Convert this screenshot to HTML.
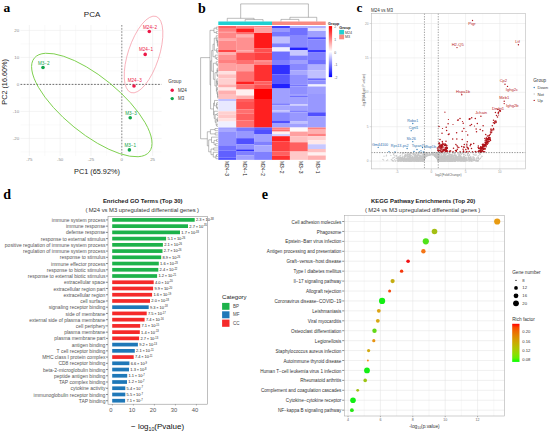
<!DOCTYPE html>
<html><head><meta charset="utf-8"><style>
html,body{margin:0;padding:0;background:#fff;}
body{width:550px;height:433px;overflow:hidden;font-family:"Liberation Sans", sans-serif;}
svg{display:block;}
</style></head><body>
<svg width="550" height="433" viewBox="0 0 550 433">
<rect width="550" height="433" fill="#fff"/>
<line x1="44.74" y1="25.00" x2="44.74" y2="156.00" stroke="#f3f3f3" stroke-width="0.4" />
<line x1="75.56" y1="25.00" x2="75.56" y2="156.00" stroke="#f3f3f3" stroke-width="0.4" />
<line x1="106.39" y1="25.00" x2="106.39" y2="156.00" stroke="#f3f3f3" stroke-width="0.4" />
<line x1="137.21" y1="25.00" x2="137.21" y2="156.00" stroke="#f3f3f3" stroke-width="0.4" />
<line x1="20.50" y1="43.90" x2="161.50" y2="43.90" stroke="#f3f3f3" stroke-width="0.4" />
<line x1="20.50" y1="70.90" x2="161.50" y2="70.90" stroke="#f3f3f3" stroke-width="0.4" />
<line x1="20.50" y1="97.90" x2="161.50" y2="97.90" stroke="#f3f3f3" stroke-width="0.4" />
<line x1="20.50" y1="124.90" x2="161.50" y2="124.90" stroke="#f3f3f3" stroke-width="0.4" />
<line x1="20.50" y1="151.90" x2="161.50" y2="151.90" stroke="#f3f3f3" stroke-width="0.4" />
<line x1="29.32" y1="25.00" x2="29.32" y2="156.00" stroke="#ebebeb" stroke-width="0.6" />
<line x1="60.15" y1="25.00" x2="60.15" y2="156.00" stroke="#ebebeb" stroke-width="0.6" />
<line x1="90.97" y1="25.00" x2="90.97" y2="156.00" stroke="#ebebeb" stroke-width="0.6" />
<line x1="121.80" y1="25.00" x2="121.80" y2="156.00" stroke="#ebebeb" stroke-width="0.6" />
<line x1="152.62" y1="25.00" x2="152.62" y2="156.00" stroke="#ebebeb" stroke-width="0.6" />
<line x1="20.50" y1="30.40" x2="161.50" y2="30.40" stroke="#ebebeb" stroke-width="0.6" />
<line x1="20.50" y1="57.40" x2="161.50" y2="57.40" stroke="#ebebeb" stroke-width="0.6" />
<line x1="20.50" y1="84.40" x2="161.50" y2="84.40" stroke="#ebebeb" stroke-width="0.6" />
<line x1="20.50" y1="111.40" x2="161.50" y2="111.40" stroke="#ebebeb" stroke-width="0.6" />
<line x1="20.50" y1="138.40" x2="161.50" y2="138.40" stroke="#ebebeb" stroke-width="0.6" />
<text x="29.32" y="161.30" font-size="4.4" fill="#8a8a8a" text-anchor="middle" font-weight="normal" font-family='"Liberation Sans", sans-serif' >-75</text>
<text x="60.15" y="161.30" font-size="4.4" fill="#8a8a8a" text-anchor="middle" font-weight="normal" font-family='"Liberation Sans", sans-serif' >-50</text>
<text x="90.97" y="161.30" font-size="4.4" fill="#8a8a8a" text-anchor="middle" font-weight="normal" font-family='"Liberation Sans", sans-serif' >-25</text>
<text x="121.80" y="161.30" font-size="4.4" fill="#8a8a8a" text-anchor="middle" font-weight="normal" font-family='"Liberation Sans", sans-serif' >0</text>
<text x="152.62" y="161.30" font-size="4.4" fill="#8a8a8a" text-anchor="middle" font-weight="normal" font-family='"Liberation Sans", sans-serif' >25</text>
<text x="19.20" y="31.90" font-size="4.4" fill="#8a8a8a" text-anchor="end" font-weight="normal" font-family='"Liberation Sans", sans-serif' >20</text>
<text x="19.20" y="58.90" font-size="4.4" fill="#8a8a8a" text-anchor="end" font-weight="normal" font-family='"Liberation Sans", sans-serif' >10</text>
<text x="19.20" y="85.90" font-size="4.4" fill="#8a8a8a" text-anchor="end" font-weight="normal" font-family='"Liberation Sans", sans-serif' >0</text>
<text x="19.20" y="112.90" font-size="4.4" fill="#8a8a8a" text-anchor="end" font-weight="normal" font-family='"Liberation Sans", sans-serif' >-10</text>
<text x="19.20" y="139.90" font-size="4.4" fill="#8a8a8a" text-anchor="end" font-weight="normal" font-family='"Liberation Sans", sans-serif' >-20</text>
<line x1="20.50" y1="84.40" x2="161.50" y2="84.40" stroke="#333" stroke-width="0.7" stroke-dasharray="1.7 1.5"/>
<line x1="121.80" y1="25.00" x2="121.80" y2="156.00" stroke="#6a6a6a" stroke-width="0.75" stroke-dasharray="1.6 1.5"/>
<ellipse cx="91.8" cy="105.0" rx="74.2" ry="28.3" transform="rotate(39.2 91.8 105.0)" fill="none" stroke="#7ccf4c" stroke-width="0.9"/>
<ellipse cx="143.55" cy="54.5" rx="15.5" ry="40.1" transform="rotate(18.2 143.55 54.5)" fill="none" stroke="#f58a99" stroke-width="0.6"/>
<circle cx="149.30" cy="31.50" r="1.80" fill="#ec1746" />
<text x="150.10" y="28.50" font-size="4.6" fill="#ec1746" text-anchor="middle" font-weight="normal" font-family='"Liberation Sans", sans-serif' >M24−2</text>
<circle cx="145.20" cy="54.40" r="1.80" fill="#ec1746" />
<text x="146.00" y="50.90" font-size="4.6" fill="#ec1746" text-anchor="middle" font-weight="normal" font-family='"Liberation Sans", sans-serif' >M24−1</text>
<circle cx="134.00" cy="86.00" r="1.80" fill="#ec1746" />
<text x="134.80" y="82.20" font-size="4.6" fill="#ec1746" text-anchor="middle" font-weight="normal" font-family='"Liberation Sans", sans-serif' >M24−3</text>
<circle cx="43.00" cy="67.50" r="1.80" fill="#11a54a" />
<text x="43.80" y="64.60" font-size="4.6" fill="#11a54a" text-anchor="middle" font-weight="normal" font-family='"Liberation Sans", sans-serif' >M3−2</text>
<circle cx="130.20" cy="117.80" r="1.80" fill="#11a54a" />
<text x="131.00" y="114.60" font-size="4.6" fill="#11a54a" text-anchor="middle" font-weight="normal" font-family='"Liberation Sans", sans-serif' >M3−3</text>
<circle cx="129.40" cy="149.90" r="1.80" fill="#11a54a" />
<text x="130.20" y="146.60" font-size="4.6" fill="#11a54a" text-anchor="middle" font-weight="normal" font-family='"Liberation Sans", sans-serif' >M3−1</text>
<text x="92.20" y="16.80" font-size="8.1" fill="#1a1a1a" text-anchor="middle" font-weight="normal" font-family='"Liberation Sans", sans-serif' >PCA</text>
<text x="97.00" y="174.00" font-size="7.3" fill="#1a1a1a" text-anchor="middle" font-weight="normal" font-family='"Liberation Sans", sans-serif' >PC1  (65.92%)</text>
<text x="0" y="0" font-size="7.25" fill="#1a1a1a" text-anchor="middle" font-family='"Liberation Sans", sans-serif' transform="translate(7.0 81.9) rotate(-90)">PC2  (16.60%)</text>
<text x="168.30" y="82.80" font-size="4.7" fill="#333" text-anchor="start" font-weight="normal" font-family='"Liberation Sans", sans-serif' >Group</text>
<circle cx="172.20" cy="90.30" r="1.70" fill="#ec1746" />
<text x="178.00" y="91.90" font-size="4.5" fill="#333" text-anchor="start" font-weight="normal" font-family='"Liberation Sans", sans-serif' >M24</text>
<circle cx="172.20" cy="98.60" r="1.70" fill="#11a54a" />
<text x="178.00" y="100.20" font-size="4.5" fill="#333" text-anchor="start" font-weight="normal" font-family='"Liberation Sans", sans-serif' >M3</text>
<text x="3.60" y="12.10" font-size="13.5" fill="#000" text-anchor="start" font-weight="bold" font-family='"Liberation Serif", serif' >a</text>
<rect x="218.30" y="26.00" width="17.95" height="2.05" fill="#FF6060" />
<rect x="218.30" y="28.00" width="17.95" height="3.05" fill="#FF8080" />
<rect x="218.30" y="31.00" width="17.95" height="1.65" fill="#FF9090" />
<rect x="218.30" y="32.60" width="17.95" height="6.15" fill="#FF8888" />
<rect x="218.30" y="38.70" width="17.95" height="2.15" fill="#FFAAAA" />
<rect x="218.30" y="40.80" width="17.95" height="9.25" fill="#FF8A8A" />
<rect x="218.30" y="50.00" width="17.95" height="2.05" fill="#FF4444" />
<rect x="218.30" y="52.00" width="17.95" height="2.55" fill="#FFB0B0" />
<rect x="218.30" y="54.50" width="17.95" height="5.55" fill="#FF9090" />
<rect x="218.30" y="60.00" width="17.95" height="3.05" fill="#FF8080" />
<rect x="218.30" y="63.00" width="17.95" height="8.25" fill="#FFA0A0" />
<rect x="218.30" y="71.20" width="17.95" height="3.15" fill="#FFE0E0" />
<rect x="218.30" y="74.30" width="17.95" height="4.05" fill="#FFC0C0" />
<rect x="218.30" y="78.30" width="17.95" height="6.15" fill="#FFD0D0" />
<rect x="218.30" y="84.40" width="17.95" height="3.15" fill="#FFB0B0" />
<rect x="218.30" y="87.50" width="17.95" height="3.05" fill="#FFE8E8" />
<rect x="218.30" y="90.50" width="17.95" height="3.55" fill="#FFB0B0" />
<rect x="218.30" y="94.00" width="17.95" height="5.05" fill="#FFC0C0" />
<rect x="218.30" y="99.00" width="17.95" height="2.05" fill="#C0C0FF" />
<rect x="218.30" y="101.00" width="17.95" height="10.35" fill="#E8E8FF" />
<rect x="218.30" y="111.30" width="17.95" height="3.15" fill="#FFD0D0" />
<rect x="218.30" y="114.40" width="17.95" height="4.05" fill="#FFC8C8" />
<rect x="218.30" y="118.40" width="17.95" height="3.15" fill="#FFE0E0" />
<rect x="218.30" y="121.50" width="17.95" height="6.05" fill="#F0F0FF" />
<rect x="218.30" y="127.50" width="17.95" height="1.55" fill="#A0A0FF" />
<rect x="218.30" y="129.00" width="17.95" height="3.05" fill="#A8A8FF" />
<rect x="218.30" y="132.00" width="17.95" height="13.35" fill="#9090FF" />
<rect x="218.30" y="145.30" width="17.95" height="5.15" fill="#7070FF" />
<rect x="218.30" y="150.40" width="17.95" height="7.25" fill="#6060FF" />
<rect x="218.30" y="157.60" width="17.95" height="2.25" fill="#5050FF" />
<rect x="236.20" y="26.00" width="17.95" height="2.55" fill="#FF8080" />
<rect x="236.20" y="28.50" width="17.95" height="4.15" fill="#FF2020" />
<rect x="236.20" y="32.60" width="17.95" height="2.05" fill="#FF7070" />
<rect x="236.20" y="34.60" width="17.95" height="2.65" fill="#FFB0B0" />
<rect x="236.20" y="37.20" width="17.95" height="13.25" fill="#FF9090" />
<rect x="236.20" y="50.40" width="17.95" height="2.15" fill="#FFA0A0" />
<rect x="236.20" y="52.50" width="17.95" height="7.55" fill="#FF5050" />
<rect x="236.20" y="60.00" width="17.95" height="4.65" fill="#FF7070" />
<rect x="236.20" y="64.60" width="17.95" height="6.65" fill="#FFA0A0" />
<rect x="236.20" y="71.20" width="17.95" height="10.25" fill="#FF7070" />
<rect x="236.20" y="81.40" width="17.95" height="3.05" fill="#FF2020" />
<rect x="236.20" y="84.40" width="17.95" height="5.15" fill="#FF7070" />
<rect x="236.20" y="89.50" width="17.95" height="6.05" fill="#FFF0F0" />
<rect x="236.20" y="95.50" width="17.95" height="3.55" fill="#FFB0B0" />
<rect x="236.20" y="99.00" width="17.95" height="3.05" fill="#FF6060" />
<rect x="236.20" y="102.00" width="17.95" height="7.35" fill="#FF5050" />
<rect x="236.20" y="109.30" width="17.95" height="4.15" fill="#FF7070" />
<rect x="236.20" y="113.40" width="17.95" height="7.15" fill="#FF6060" />
<rect x="236.20" y="120.50" width="17.95" height="7.05" fill="#FF7070" />
<rect x="236.20" y="127.50" width="17.95" height="3.55" fill="#7878FF" />
<rect x="236.20" y="131.00" width="17.95" height="7.25" fill="#9898FF" />
<rect x="236.20" y="138.20" width="17.95" height="6.15" fill="#5050FF" />
<rect x="236.20" y="144.30" width="17.95" height="5.15" fill="#9090FF" />
<rect x="236.20" y="149.40" width="17.95" height="2.15" fill="#3030FF" />
<rect x="236.20" y="151.50" width="17.95" height="4.05" fill="#8080FF" />
<rect x="236.20" y="155.50" width="17.95" height="4.35" fill="#A0A0FF" />
<rect x="254.10" y="26.00" width="17.95" height="1.55" fill="#FF8080" />
<rect x="254.10" y="27.50" width="17.95" height="5.55" fill="#FFA0A0" />
<rect x="254.10" y="33.00" width="17.95" height="15.45" fill="#FF1A1A" />
<rect x="254.10" y="48.40" width="17.95" height="4.15" fill="#FF5050" />
<rect x="254.10" y="52.50" width="17.95" height="7.55" fill="#FF4040" />
<rect x="254.10" y="60.00" width="17.95" height="2.05" fill="#FF9090" />
<rect x="254.10" y="62.00" width="17.95" height="3.05" fill="#FF8080" />
<rect x="254.10" y="65.00" width="17.95" height="16.45" fill="#FF3030" />
<rect x="254.10" y="81.40" width="17.95" height="3.05" fill="#FF6060" />
<rect x="254.10" y="84.40" width="17.95" height="4.15" fill="#FF5050" />
<rect x="254.10" y="88.50" width="17.95" height="10.55" fill="#FF0000" />
<rect x="254.10" y="99.00" width="17.95" height="28.55" fill="#FF2020" />
<rect x="254.10" y="127.50" width="17.95" height="2.55" fill="#6060FF" />
<rect x="254.10" y="130.00" width="17.95" height="4.05" fill="#5050FF" />
<rect x="254.10" y="134.00" width="17.95" height="7.35" fill="#A0A0FF" />
<rect x="254.10" y="141.30" width="17.95" height="4.05" fill="#8080FF" />
<rect x="254.10" y="145.30" width="17.95" height="6.25" fill="#A8A8FF" />
<rect x="254.10" y="151.50" width="17.95" height="8.35" fill="#8080FF" />
<rect x="272.00" y="26.00" width="17.95" height="2.05" fill="#4040FF" />
<rect x="272.00" y="28.00" width="17.95" height="4.05" fill="#9898FF" />
<rect x="272.00" y="32.00" width="17.95" height="4.75" fill="#7878FF" />
<rect x="272.00" y="36.70" width="17.95" height="6.65" fill="#C0C0FF" />
<rect x="272.00" y="43.30" width="17.95" height="4.15" fill="#8080FF" />
<rect x="272.00" y="47.40" width="17.95" height="4.15" fill="#F0F0FF" />
<rect x="272.00" y="51.50" width="17.95" height="8.55" fill="#7070FF" />
<rect x="272.00" y="60.00" width="17.95" height="5.05" fill="#8080FF" />
<rect x="272.00" y="65.00" width="17.95" height="9.35" fill="#3030FF" />
<rect x="272.00" y="74.30" width="17.95" height="9.15" fill="#5858FF" />
<rect x="272.00" y="83.40" width="17.95" height="5.15" fill="#2020FF" />
<rect x="272.00" y="88.50" width="17.95" height="14.75" fill="#A0A0FF" />
<rect x="272.00" y="103.20" width="17.95" height="2.05" fill="#8080FF" />
<rect x="272.00" y="105.20" width="17.95" height="5.15" fill="#A8A8FF" />
<rect x="272.00" y="110.30" width="17.95" height="2.05" fill="#C0C0FF" />
<rect x="272.00" y="112.30" width="17.95" height="8.25" fill="#8888FF" />
<rect x="272.00" y="120.50" width="17.95" height="2.55" fill="#5050FF" />
<rect x="272.00" y="123.00" width="17.95" height="4.55" fill="#A0A0FF" />
<rect x="272.00" y="127.50" width="17.95" height="2.15" fill="#FF8080" />
<rect x="272.00" y="129.60" width="17.95" height="2.05" fill="#FF7070" />
<rect x="272.00" y="131.60" width="17.95" height="2.55" fill="#FFF0F0" />
<rect x="272.00" y="134.10" width="17.95" height="2.15" fill="#D0D0FF" />
<rect x="272.00" y="136.20" width="17.95" height="5.15" fill="#FF2020" />
<rect x="272.00" y="141.30" width="17.95" height="10.25" fill="#FF4040" />
<rect x="272.00" y="151.50" width="17.95" height="4.05" fill="#FF6060" />
<rect x="272.00" y="155.50" width="17.95" height="4.35" fill="#FF3030" />
<rect x="289.90" y="26.00" width="17.95" height="2.05" fill="#B0B0FF" />
<rect x="289.90" y="28.00" width="17.95" height="7.05" fill="#7070FF" />
<rect x="289.90" y="35.00" width="17.95" height="12.45" fill="#8888FF" />
<rect x="289.90" y="47.40" width="17.95" height="2.65" fill="#2020FF" />
<rect x="289.90" y="50.00" width="17.95" height="5.55" fill="#C8C8FF" />
<rect x="289.90" y="55.50" width="17.95" height="4.55" fill="#8080FF" />
<rect x="289.90" y="60.00" width="17.95" height="4.05" fill="#A0A0FF" />
<rect x="289.90" y="64.00" width="17.95" height="6.25" fill="#8888FF" />
<rect x="289.90" y="70.20" width="17.95" height="4.15" fill="#A8A8FF" />
<rect x="289.90" y="74.30" width="17.95" height="10.15" fill="#9090FF" />
<rect x="289.90" y="84.40" width="17.95" height="2.15" fill="#7878FF" />
<rect x="289.90" y="86.50" width="17.95" height="7.55" fill="#9090FF" />
<rect x="289.90" y="94.00" width="17.95" height="1.55" fill="#A0A0FF" />
<rect x="289.90" y="95.50" width="17.95" height="1.55" fill="#7070FF" />
<rect x="289.90" y="97.00" width="17.95" height="7.05" fill="#A0A0FF" />
<rect x="289.90" y="104.00" width="17.95" height="1.75" fill="#D0D0FF" />
<rect x="289.90" y="105.70" width="17.95" height="4.65" fill="#A0A0FF" />
<rect x="289.90" y="110.30" width="17.95" height="2.05" fill="#8080FF" />
<rect x="289.90" y="112.30" width="17.95" height="9.25" fill="#9898FF" />
<rect x="289.90" y="121.50" width="17.95" height="2.05" fill="#C0C0FF" />
<rect x="289.90" y="123.50" width="17.95" height="4.05" fill="#A0A0FF" />
<rect x="289.90" y="127.50" width="17.95" height="4.15" fill="#FFF8F8" />
<rect x="289.90" y="131.60" width="17.95" height="4.65" fill="#FFA0A0" />
<rect x="289.90" y="136.20" width="17.95" height="6.15" fill="#FFC0C0" />
<rect x="289.90" y="142.30" width="17.95" height="9.25" fill="#FF6060" />
<rect x="289.90" y="151.50" width="17.95" height="8.35" fill="#FFC8C8" />
<rect x="307.80" y="26.00" width="17.95" height="2.05" fill="#B0B0FF" />
<rect x="307.80" y="28.00" width="17.95" height="3.05" fill="#E0E0FF" />
<rect x="307.80" y="31.00" width="17.95" height="6.25" fill="#A0A0FF" />
<rect x="307.80" y="37.20" width="17.95" height="2.05" fill="#5050FF" />
<rect x="307.80" y="39.20" width="17.95" height="10.85" fill="#8888FF" />
<rect x="307.80" y="50.00" width="17.95" height="2.55" fill="#3838FF" />
<rect x="307.80" y="52.50" width="17.95" height="7.55" fill="#8080FF" />
<rect x="307.80" y="60.00" width="17.95" height="4.65" fill="#7070FF" />
<rect x="307.80" y="64.60" width="17.95" height="5.65" fill="#B0B0FF" />
<rect x="307.80" y="70.20" width="17.95" height="8.15" fill="#C0C0FF" />
<rect x="307.80" y="78.30" width="17.95" height="2.15" fill="#6868FF" />
<rect x="307.80" y="80.40" width="17.95" height="4.05" fill="#9090FF" />
<rect x="307.80" y="84.40" width="17.95" height="2.15" fill="#F0F0FF" />
<rect x="307.80" y="86.50" width="17.95" height="7.55" fill="#A0A0FF" />
<rect x="307.80" y="94.00" width="17.95" height="18.35" fill="#9898FF" />
<rect x="307.80" y="112.30" width="17.95" height="4.15" fill="#5050FF" />
<rect x="307.80" y="116.40" width="17.95" height="11.15" fill="#A0A0FF" />
<rect x="307.80" y="127.50" width="17.95" height="2.15" fill="#FF8080" />
<rect x="307.80" y="129.60" width="17.95" height="4.05" fill="#FFB0B0" />
<rect x="307.80" y="133.60" width="17.95" height="2.65" fill="#FF8080" />
<rect x="307.80" y="136.20" width="17.95" height="4.15" fill="#FFD0D0" />
<rect x="307.80" y="140.30" width="17.95" height="4.05" fill="#FFE8E8" />
<rect x="307.80" y="144.30" width="17.95" height="4.75" fill="#C8C8FF" />
<rect x="307.80" y="149.00" width="17.95" height="3.55" fill="#FFC0C0" />
<rect x="307.80" y="152.50" width="17.95" height="3.05" fill="#FFF0F0" />
<rect x="307.80" y="155.50" width="17.95" height="4.35" fill="#FFB0B0" />
<rect x="218.30" y="21.50" width="53.70" height="3.50" fill="#1fd0d2" />
<rect x="272.00" y="21.50" width="53.70" height="3.50" fill="#f98a80" />
<line x1="245.15" y1="21.50" x2="245.15" y2="19.60" stroke="#7a7a7a" stroke-width="0.5" />
<line x1="263.05" y1="21.50" x2="263.05" y2="19.60" stroke="#7a7a7a" stroke-width="0.5" />
<line x1="245.15" y1="19.60" x2="263.05" y2="19.60" stroke="#7a7a7a" stroke-width="0.5" />
<line x1="254.10" y1="19.60" x2="254.10" y2="18.30" stroke="#7a7a7a" stroke-width="0.5" />
<line x1="227.25" y1="21.50" x2="227.25" y2="18.30" stroke="#7a7a7a" stroke-width="0.5" />
<line x1="227.25" y1="18.30" x2="254.10" y2="18.30" stroke="#7a7a7a" stroke-width="0.5" />
<line x1="280.95" y1="21.50" x2="280.95" y2="19.40" stroke="#7a7a7a" stroke-width="0.5" />
<line x1="298.85" y1="21.50" x2="298.85" y2="19.40" stroke="#7a7a7a" stroke-width="0.5" />
<line x1="280.95" y1="19.40" x2="298.85" y2="19.40" stroke="#7a7a7a" stroke-width="0.5" />
<line x1="289.90" y1="19.40" x2="289.90" y2="17.30" stroke="#7a7a7a" stroke-width="0.5" />
<line x1="316.75" y1="21.50" x2="316.75" y2="17.30" stroke="#7a7a7a" stroke-width="0.5" />
<line x1="289.90" y1="17.30" x2="316.75" y2="17.30" stroke="#7a7a7a" stroke-width="0.5" />
<line x1="240.68" y1="18.30" x2="240.68" y2="3.90" stroke="#7a7a7a" stroke-width="0.5" />
<line x1="308.40" y1="17.30" x2="308.40" y2="3.90" stroke="#7a7a7a" stroke-width="0.5" />
<line x1="240.68" y1="3.90" x2="308.40" y2="3.90" stroke="#7a7a7a" stroke-width="0.5" />
<line x1="216.28" y1="27.08" x2="216.28" y2="29.24" stroke="#7a7a7a" stroke-width="0.5" />
<line x1="216.28" y1="27.08" x2="217.90" y2="27.08" stroke="#7a7a7a" stroke-width="0.5" />
<line x1="216.28" y1="29.24" x2="217.90" y2="29.24" stroke="#7a7a7a" stroke-width="0.5" />
<line x1="216.37" y1="31.40" x2="216.37" y2="33.55" stroke="#7a7a7a" stroke-width="0.5" />
<line x1="216.37" y1="31.40" x2="217.90" y2="31.40" stroke="#7a7a7a" stroke-width="0.5" />
<line x1="216.37" y1="33.55" x2="217.90" y2="33.55" stroke="#7a7a7a" stroke-width="0.5" />
<line x1="214.00" y1="28.16" x2="214.00" y2="32.47" stroke="#7a7a7a" stroke-width="0.5" />
<line x1="214.00" y1="28.16" x2="216.28" y2="28.16" stroke="#7a7a7a" stroke-width="0.5" />
<line x1="214.00" y1="32.47" x2="216.37" y2="32.47" stroke="#7a7a7a" stroke-width="0.5" />
<line x1="217.56" y1="40.03" x2="217.56" y2="42.19" stroke="#7a7a7a" stroke-width="0.5" />
<line x1="217.56" y1="40.03" x2="217.90" y2="40.03" stroke="#7a7a7a" stroke-width="0.5" />
<line x1="217.56" y1="42.19" x2="217.90" y2="42.19" stroke="#7a7a7a" stroke-width="0.5" />
<line x1="217.61" y1="44.34" x2="217.61" y2="46.50" stroke="#7a7a7a" stroke-width="0.5" />
<line x1="217.61" y1="44.34" x2="217.90" y2="44.34" stroke="#7a7a7a" stroke-width="0.5" />
<line x1="217.61" y1="46.50" x2="217.90" y2="46.50" stroke="#7a7a7a" stroke-width="0.5" />
<line x1="217.45" y1="41.11" x2="217.45" y2="45.42" stroke="#7a7a7a" stroke-width="0.5" />
<line x1="217.45" y1="41.11" x2="217.56" y2="41.11" stroke="#7a7a7a" stroke-width="0.5" />
<line x1="217.45" y1="45.42" x2="217.61" y2="45.42" stroke="#7a7a7a" stroke-width="0.5" />
<line x1="217.01" y1="37.87" x2="217.01" y2="43.26" stroke="#7a7a7a" stroke-width="0.5" />
<line x1="217.01" y1="37.87" x2="217.90" y2="37.87" stroke="#7a7a7a" stroke-width="0.5" />
<line x1="217.01" y1="43.26" x2="217.45" y2="43.26" stroke="#7a7a7a" stroke-width="0.5" />
<line x1="216.25" y1="35.71" x2="216.25" y2="40.57" stroke="#7a7a7a" stroke-width="0.5" />
<line x1="216.25" y1="35.71" x2="217.90" y2="35.71" stroke="#7a7a7a" stroke-width="0.5" />
<line x1="216.25" y1="40.57" x2="217.01" y2="40.57" stroke="#7a7a7a" stroke-width="0.5" />
<line x1="217.06" y1="50.82" x2="217.06" y2="52.98" stroke="#7a7a7a" stroke-width="0.5" />
<line x1="217.06" y1="50.82" x2="217.90" y2="50.82" stroke="#7a7a7a" stroke-width="0.5" />
<line x1="217.06" y1="52.98" x2="217.90" y2="52.98" stroke="#7a7a7a" stroke-width="0.5" />
<line x1="216.66" y1="48.66" x2="216.66" y2="51.90" stroke="#7a7a7a" stroke-width="0.5" />
<line x1="216.66" y1="48.66" x2="217.90" y2="48.66" stroke="#7a7a7a" stroke-width="0.5" />
<line x1="216.66" y1="51.90" x2="217.06" y2="51.90" stroke="#7a7a7a" stroke-width="0.5" />
<line x1="214.29" y1="38.14" x2="214.29" y2="50.28" stroke="#7a7a7a" stroke-width="0.5" />
<line x1="214.29" y1="38.14" x2="216.25" y2="38.14" stroke="#7a7a7a" stroke-width="0.5" />
<line x1="214.29" y1="50.28" x2="216.66" y2="50.28" stroke="#7a7a7a" stroke-width="0.5" />
<line x1="216.65" y1="57.29" x2="216.65" y2="59.45" stroke="#7a7a7a" stroke-width="0.5" />
<line x1="216.65" y1="57.29" x2="217.90" y2="57.29" stroke="#7a7a7a" stroke-width="0.5" />
<line x1="216.65" y1="59.45" x2="217.90" y2="59.45" stroke="#7a7a7a" stroke-width="0.5" />
<line x1="215.25" y1="55.13" x2="215.25" y2="58.37" stroke="#7a7a7a" stroke-width="0.5" />
<line x1="215.25" y1="55.13" x2="217.90" y2="55.13" stroke="#7a7a7a" stroke-width="0.5" />
<line x1="215.25" y1="58.37" x2="216.65" y2="58.37" stroke="#7a7a7a" stroke-width="0.5" />
<line x1="213.00" y1="44.21" x2="213.00" y2="56.75" stroke="#7a7a7a" stroke-width="0.5" />
<line x1="213.00" y1="44.21" x2="214.29" y2="44.21" stroke="#7a7a7a" stroke-width="0.5" />
<line x1="213.00" y1="56.75" x2="215.25" y2="56.75" stroke="#7a7a7a" stroke-width="0.5" />
<line x1="217.40" y1="63.77" x2="217.40" y2="65.92" stroke="#7a7a7a" stroke-width="0.5" />
<line x1="217.40" y1="63.77" x2="217.90" y2="63.77" stroke="#7a7a7a" stroke-width="0.5" />
<line x1="217.40" y1="65.92" x2="217.90" y2="65.92" stroke="#7a7a7a" stroke-width="0.5" />
<line x1="216.29" y1="61.61" x2="216.29" y2="64.85" stroke="#7a7a7a" stroke-width="0.5" />
<line x1="216.29" y1="61.61" x2="217.90" y2="61.61" stroke="#7a7a7a" stroke-width="0.5" />
<line x1="216.29" y1="64.85" x2="217.40" y2="64.85" stroke="#7a7a7a" stroke-width="0.5" />
<line x1="217.71" y1="70.24" x2="217.71" y2="72.40" stroke="#7a7a7a" stroke-width="0.5" />
<line x1="217.71" y1="70.24" x2="217.90" y2="70.24" stroke="#7a7a7a" stroke-width="0.5" />
<line x1="217.71" y1="72.40" x2="217.90" y2="72.40" stroke="#7a7a7a" stroke-width="0.5" />
<line x1="217.28" y1="68.08" x2="217.28" y2="71.32" stroke="#7a7a7a" stroke-width="0.5" />
<line x1="217.28" y1="68.08" x2="217.90" y2="68.08" stroke="#7a7a7a" stroke-width="0.5" />
<line x1="217.28" y1="71.32" x2="217.71" y2="71.32" stroke="#7a7a7a" stroke-width="0.5" />
<line x1="217.59" y1="74.56" x2="217.59" y2="76.71" stroke="#7a7a7a" stroke-width="0.5" />
<line x1="217.59" y1="74.56" x2="217.90" y2="74.56" stroke="#7a7a7a" stroke-width="0.5" />
<line x1="217.59" y1="76.71" x2="217.90" y2="76.71" stroke="#7a7a7a" stroke-width="0.5" />
<line x1="216.96" y1="69.70" x2="216.96" y2="75.64" stroke="#7a7a7a" stroke-width="0.5" />
<line x1="216.96" y1="69.70" x2="217.28" y2="69.70" stroke="#7a7a7a" stroke-width="0.5" />
<line x1="216.96" y1="75.64" x2="217.59" y2="75.64" stroke="#7a7a7a" stroke-width="0.5" />
<line x1="217.44" y1="83.19" x2="217.44" y2="85.35" stroke="#7a7a7a" stroke-width="0.5" />
<line x1="217.44" y1="83.19" x2="217.90" y2="83.19" stroke="#7a7a7a" stroke-width="0.5" />
<line x1="217.44" y1="85.35" x2="217.90" y2="85.35" stroke="#7a7a7a" stroke-width="0.5" />
<line x1="217.28" y1="81.03" x2="217.28" y2="84.27" stroke="#7a7a7a" stroke-width="0.5" />
<line x1="217.28" y1="81.03" x2="217.90" y2="81.03" stroke="#7a7a7a" stroke-width="0.5" />
<line x1="217.28" y1="84.27" x2="217.44" y2="84.27" stroke="#7a7a7a" stroke-width="0.5" />
<line x1="216.89" y1="78.87" x2="216.89" y2="82.65" stroke="#7a7a7a" stroke-width="0.5" />
<line x1="216.89" y1="78.87" x2="217.90" y2="78.87" stroke="#7a7a7a" stroke-width="0.5" />
<line x1="216.89" y1="82.65" x2="217.28" y2="82.65" stroke="#7a7a7a" stroke-width="0.5" />
<line x1="217.27" y1="87.50" x2="217.27" y2="89.66" stroke="#7a7a7a" stroke-width="0.5" />
<line x1="217.27" y1="87.50" x2="217.90" y2="87.50" stroke="#7a7a7a" stroke-width="0.5" />
<line x1="217.27" y1="89.66" x2="217.90" y2="89.66" stroke="#7a7a7a" stroke-width="0.5" />
<line x1="217.75" y1="96.14" x2="217.75" y2="98.30" stroke="#7a7a7a" stroke-width="0.5" />
<line x1="217.75" y1="96.14" x2="217.90" y2="96.14" stroke="#7a7a7a" stroke-width="0.5" />
<line x1="217.75" y1="98.30" x2="217.90" y2="98.30" stroke="#7a7a7a" stroke-width="0.5" />
<line x1="217.69" y1="93.98" x2="217.69" y2="97.22" stroke="#7a7a7a" stroke-width="0.5" />
<line x1="217.69" y1="93.98" x2="217.90" y2="93.98" stroke="#7a7a7a" stroke-width="0.5" />
<line x1="217.69" y1="97.22" x2="217.75" y2="97.22" stroke="#7a7a7a" stroke-width="0.5" />
<line x1="217.51" y1="91.82" x2="217.51" y2="95.60" stroke="#7a7a7a" stroke-width="0.5" />
<line x1="217.51" y1="91.82" x2="217.90" y2="91.82" stroke="#7a7a7a" stroke-width="0.5" />
<line x1="217.51" y1="95.60" x2="217.69" y2="95.60" stroke="#7a7a7a" stroke-width="0.5" />
<line x1="216.88" y1="88.58" x2="216.88" y2="93.71" stroke="#7a7a7a" stroke-width="0.5" />
<line x1="216.88" y1="88.58" x2="217.27" y2="88.58" stroke="#7a7a7a" stroke-width="0.5" />
<line x1="216.88" y1="93.71" x2="217.51" y2="93.71" stroke="#7a7a7a" stroke-width="0.5" />
<line x1="216.40" y1="80.76" x2="216.40" y2="91.15" stroke="#7a7a7a" stroke-width="0.5" />
<line x1="216.40" y1="80.76" x2="216.89" y2="80.76" stroke="#7a7a7a" stroke-width="0.5" />
<line x1="216.40" y1="91.15" x2="216.88" y2="91.15" stroke="#7a7a7a" stroke-width="0.5" />
<line x1="214.95" y1="72.67" x2="214.95" y2="85.95" stroke="#7a7a7a" stroke-width="0.5" />
<line x1="214.95" y1="72.67" x2="216.96" y2="72.67" stroke="#7a7a7a" stroke-width="0.5" />
<line x1="214.95" y1="85.95" x2="216.40" y2="85.95" stroke="#7a7a7a" stroke-width="0.5" />
<line x1="213.40" y1="63.23" x2="213.40" y2="79.31" stroke="#7a7a7a" stroke-width="0.5" />
<line x1="213.40" y1="63.23" x2="216.29" y2="63.23" stroke="#7a7a7a" stroke-width="0.5" />
<line x1="213.40" y1="79.31" x2="214.95" y2="79.31" stroke="#7a7a7a" stroke-width="0.5" />
<line x1="211.70" y1="50.48" x2="211.70" y2="71.27" stroke="#7a7a7a" stroke-width="0.5" />
<line x1="211.70" y1="50.48" x2="213.00" y2="50.48" stroke="#7a7a7a" stroke-width="0.5" />
<line x1="211.70" y1="71.27" x2="213.40" y2="71.27" stroke="#7a7a7a" stroke-width="0.5" />
<line x1="216.86" y1="102.61" x2="216.86" y2="104.77" stroke="#7a7a7a" stroke-width="0.5" />
<line x1="216.86" y1="102.61" x2="217.90" y2="102.61" stroke="#7a7a7a" stroke-width="0.5" />
<line x1="216.86" y1="104.77" x2="217.90" y2="104.77" stroke="#7a7a7a" stroke-width="0.5" />
<line x1="217.35" y1="106.93" x2="217.35" y2="109.09" stroke="#7a7a7a" stroke-width="0.5" />
<line x1="217.35" y1="106.93" x2="217.90" y2="106.93" stroke="#7a7a7a" stroke-width="0.5" />
<line x1="217.35" y1="109.09" x2="217.90" y2="109.09" stroke="#7a7a7a" stroke-width="0.5" />
<line x1="216.50" y1="103.69" x2="216.50" y2="108.01" stroke="#7a7a7a" stroke-width="0.5" />
<line x1="216.50" y1="103.69" x2="216.86" y2="103.69" stroke="#7a7a7a" stroke-width="0.5" />
<line x1="216.50" y1="108.01" x2="217.35" y2="108.01" stroke="#7a7a7a" stroke-width="0.5" />
<line x1="214.50" y1="100.45" x2="214.50" y2="105.85" stroke="#7a7a7a" stroke-width="0.5" />
<line x1="214.50" y1="100.45" x2="217.90" y2="100.45" stroke="#7a7a7a" stroke-width="0.5" />
<line x1="214.50" y1="105.85" x2="216.50" y2="105.85" stroke="#7a7a7a" stroke-width="0.5" />
<line x1="217.04" y1="113.40" x2="217.04" y2="115.56" stroke="#7a7a7a" stroke-width="0.5" />
<line x1="217.04" y1="113.40" x2="217.90" y2="113.40" stroke="#7a7a7a" stroke-width="0.5" />
<line x1="217.04" y1="115.56" x2="217.90" y2="115.56" stroke="#7a7a7a" stroke-width="0.5" />
<line x1="217.60" y1="119.88" x2="217.60" y2="122.03" stroke="#7a7a7a" stroke-width="0.5" />
<line x1="217.60" y1="119.88" x2="217.90" y2="119.88" stroke="#7a7a7a" stroke-width="0.5" />
<line x1="217.60" y1="122.03" x2="217.90" y2="122.03" stroke="#7a7a7a" stroke-width="0.5" />
<line x1="217.32" y1="117.72" x2="217.32" y2="120.95" stroke="#7a7a7a" stroke-width="0.5" />
<line x1="217.32" y1="117.72" x2="217.90" y2="117.72" stroke="#7a7a7a" stroke-width="0.5" />
<line x1="217.32" y1="120.95" x2="217.60" y2="120.95" stroke="#7a7a7a" stroke-width="0.5" />
<line x1="216.84" y1="124.19" x2="216.84" y2="126.35" stroke="#7a7a7a" stroke-width="0.5" />
<line x1="216.84" y1="124.19" x2="217.90" y2="124.19" stroke="#7a7a7a" stroke-width="0.5" />
<line x1="216.84" y1="126.35" x2="217.90" y2="126.35" stroke="#7a7a7a" stroke-width="0.5" />
<line x1="216.12" y1="119.34" x2="216.12" y2="125.27" stroke="#7a7a7a" stroke-width="0.5" />
<line x1="216.12" y1="119.34" x2="217.32" y2="119.34" stroke="#7a7a7a" stroke-width="0.5" />
<line x1="216.12" y1="125.27" x2="216.84" y2="125.27" stroke="#7a7a7a" stroke-width="0.5" />
<line x1="215.20" y1="114.48" x2="215.20" y2="122.30" stroke="#7a7a7a" stroke-width="0.5" />
<line x1="215.20" y1="114.48" x2="217.04" y2="114.48" stroke="#7a7a7a" stroke-width="0.5" />
<line x1="215.20" y1="122.30" x2="216.12" y2="122.30" stroke="#7a7a7a" stroke-width="0.5" />
<line x1="214.20" y1="111.24" x2="214.20" y2="118.39" stroke="#7a7a7a" stroke-width="0.5" />
<line x1="214.20" y1="111.24" x2="217.90" y2="111.24" stroke="#7a7a7a" stroke-width="0.5" />
<line x1="214.20" y1="118.39" x2="215.20" y2="118.39" stroke="#7a7a7a" stroke-width="0.5" />
<line x1="213.50" y1="103.15" x2="213.50" y2="114.82" stroke="#7a7a7a" stroke-width="0.5" />
<line x1="213.50" y1="103.15" x2="214.50" y2="103.15" stroke="#7a7a7a" stroke-width="0.5" />
<line x1="213.50" y1="114.82" x2="214.20" y2="114.82" stroke="#7a7a7a" stroke-width="0.5" />
<line x1="210.60" y1="60.87" x2="210.60" y2="108.98" stroke="#7a7a7a" stroke-width="0.5" />
<line x1="210.60" y1="60.87" x2="211.70" y2="60.87" stroke="#7a7a7a" stroke-width="0.5" />
<line x1="210.60" y1="108.98" x2="213.50" y2="108.98" stroke="#7a7a7a" stroke-width="0.5" />
<line x1="210.00" y1="30.32" x2="210.00" y2="84.93" stroke="#7a7a7a" stroke-width="0.5" />
<line x1="210.00" y1="30.32" x2="214.00" y2="30.32" stroke="#7a7a7a" stroke-width="0.5" />
<line x1="210.00" y1="84.93" x2="210.60" y2="84.93" stroke="#7a7a7a" stroke-width="0.5" />
<line x1="214.97" y1="128.51" x2="214.97" y2="130.67" stroke="#7a7a7a" stroke-width="0.5" />
<line x1="214.97" y1="128.51" x2="217.90" y2="128.51" stroke="#7a7a7a" stroke-width="0.5" />
<line x1="214.97" y1="130.67" x2="217.90" y2="130.67" stroke="#7a7a7a" stroke-width="0.5" />
<line x1="215.18" y1="132.82" x2="215.18" y2="134.98" stroke="#7a7a7a" stroke-width="0.5" />
<line x1="215.18" y1="132.82" x2="217.90" y2="132.82" stroke="#7a7a7a" stroke-width="0.5" />
<line x1="215.18" y1="134.98" x2="217.90" y2="134.98" stroke="#7a7a7a" stroke-width="0.5" />
<line x1="210.40" y1="129.59" x2="210.40" y2="133.90" stroke="#7a7a7a" stroke-width="0.5" />
<line x1="210.40" y1="129.59" x2="214.97" y2="129.59" stroke="#7a7a7a" stroke-width="0.5" />
<line x1="210.40" y1="133.90" x2="215.18" y2="133.90" stroke="#7a7a7a" stroke-width="0.5" />
<line x1="216.61" y1="139.30" x2="216.61" y2="141.46" stroke="#7a7a7a" stroke-width="0.5" />
<line x1="216.61" y1="139.30" x2="217.90" y2="139.30" stroke="#7a7a7a" stroke-width="0.5" />
<line x1="216.61" y1="141.46" x2="217.90" y2="141.46" stroke="#7a7a7a" stroke-width="0.5" />
<line x1="215.62" y1="143.61" x2="215.62" y2="145.77" stroke="#7a7a7a" stroke-width="0.5" />
<line x1="215.62" y1="143.61" x2="217.90" y2="143.61" stroke="#7a7a7a" stroke-width="0.5" />
<line x1="215.62" y1="145.77" x2="217.90" y2="145.77" stroke="#7a7a7a" stroke-width="0.5" />
<line x1="214.08" y1="140.38" x2="214.08" y2="144.69" stroke="#7a7a7a" stroke-width="0.5" />
<line x1="214.08" y1="140.38" x2="216.61" y2="140.38" stroke="#7a7a7a" stroke-width="0.5" />
<line x1="214.08" y1="144.69" x2="215.62" y2="144.69" stroke="#7a7a7a" stroke-width="0.5" />
<line x1="211.50" y1="137.14" x2="211.50" y2="142.54" stroke="#7a7a7a" stroke-width="0.5" />
<line x1="211.50" y1="137.14" x2="217.90" y2="137.14" stroke="#7a7a7a" stroke-width="0.5" />
<line x1="211.50" y1="142.54" x2="214.08" y2="142.54" stroke="#7a7a7a" stroke-width="0.5" />
<line x1="213.71" y1="147.93" x2="213.71" y2="150.09" stroke="#7a7a7a" stroke-width="0.5" />
<line x1="213.71" y1="147.93" x2="217.90" y2="147.93" stroke="#7a7a7a" stroke-width="0.5" />
<line x1="213.71" y1="150.09" x2="217.90" y2="150.09" stroke="#7a7a7a" stroke-width="0.5" />
<line x1="216.52" y1="154.40" x2="216.52" y2="156.56" stroke="#7a7a7a" stroke-width="0.5" />
<line x1="216.52" y1="154.40" x2="217.90" y2="154.40" stroke="#7a7a7a" stroke-width="0.5" />
<line x1="216.52" y1="156.56" x2="217.90" y2="156.56" stroke="#7a7a7a" stroke-width="0.5" />
<line x1="215.87" y1="155.48" x2="215.87" y2="158.72" stroke="#7a7a7a" stroke-width="0.5" />
<line x1="215.87" y1="155.48" x2="216.52" y2="155.48" stroke="#7a7a7a" stroke-width="0.5" />
<line x1="215.87" y1="158.72" x2="217.90" y2="158.72" stroke="#7a7a7a" stroke-width="0.5" />
<line x1="213.28" y1="152.25" x2="213.28" y2="157.10" stroke="#7a7a7a" stroke-width="0.5" />
<line x1="213.28" y1="152.25" x2="217.90" y2="152.25" stroke="#7a7a7a" stroke-width="0.5" />
<line x1="213.28" y1="157.10" x2="215.87" y2="157.10" stroke="#7a7a7a" stroke-width="0.5" />
<line x1="211.00" y1="149.01" x2="211.00" y2="154.67" stroke="#7a7a7a" stroke-width="0.5" />
<line x1="211.00" y1="149.01" x2="213.71" y2="149.01" stroke="#7a7a7a" stroke-width="0.5" />
<line x1="211.00" y1="154.67" x2="213.28" y2="154.67" stroke="#7a7a7a" stroke-width="0.5" />
<line x1="208.70" y1="139.84" x2="208.70" y2="151.84" stroke="#7a7a7a" stroke-width="0.5" />
<line x1="208.70" y1="139.84" x2="211.50" y2="139.84" stroke="#7a7a7a" stroke-width="0.5" />
<line x1="208.70" y1="151.84" x2="211.00" y2="151.84" stroke="#7a7a7a" stroke-width="0.5" />
<line x1="207.30" y1="131.75" x2="207.30" y2="145.84" stroke="#7a7a7a" stroke-width="0.5" />
<line x1="207.30" y1="131.75" x2="210.40" y2="131.75" stroke="#7a7a7a" stroke-width="0.5" />
<line x1="207.30" y1="145.84" x2="208.70" y2="145.84" stroke="#7a7a7a" stroke-width="0.5" />
<line x1="200.60" y1="57.62" x2="200.60" y2="138.79" stroke="#7a7a7a" stroke-width="0.5" />
<line x1="200.60" y1="57.62" x2="210.00" y2="57.62" stroke="#7a7a7a" stroke-width="0.5" />
<line x1="200.60" y1="138.79" x2="207.30" y2="138.79" stroke="#7a7a7a" stroke-width="0.5" />
<text x="0" y="0" font-size="4.9" fill="#222" font-family='"Liberation Sans", sans-serif' transform="translate(224.95 161.0) rotate(90)">M24−3</text>
<text x="0" y="0" font-size="4.9" fill="#222" font-family='"Liberation Sans", sans-serif' transform="translate(243.45 161.0) rotate(90)">M24−1</text>
<text x="0" y="0" font-size="4.9" fill="#222" font-family='"Liberation Sans", sans-serif' transform="translate(261.35 161.0) rotate(90)">M24−2</text>
<text x="0" y="0" font-size="4.9" fill="#222" font-family='"Liberation Sans", sans-serif' transform="translate(280.25 161.0) rotate(90)">M3−2</text>
<text x="0" y="0" font-size="4.9" fill="#222" font-family='"Liberation Sans", sans-serif' transform="translate(298.55 161.0) rotate(90)">M3−3</text>
<text x="0" y="0" font-size="4.9" fill="#222" font-family='"Liberation Sans", sans-serif' transform="translate(316.05 161.0) rotate(90)">M3−1</text>
<text x="328.10" y="24.90" font-size="3.7" fill="#222" text-anchor="start" font-weight="bold" font-family='"Liberation Sans", sans-serif' >Group</text>
<defs><linearGradient id="hg" x1="0" y1="0" x2="0" y2="1"><stop offset="0" stop-color="#ff0000"/><stop offset="0.5" stop-color="#ffffff"/><stop offset="1" stop-color="#0000ff"/></linearGradient><linearGradient id="rf" x1="0" y1="0" x2="0" y2="1"><stop offset="0.0" stop-color="#ff0000"/><stop offset="0.1" stop-color="#f74a00"/><stop offset="0.2" stop-color="#ed6a00"/><stop offset="0.3" stop-color="#e38200"/><stop offset="0.4" stop-color="#d79800"/><stop offset="0.5" stop-color="#c9ab00"/><stop offset="0.6" stop-color="#b8bd00"/><stop offset="0.7" stop-color="#a4ce00"/><stop offset="0.8" stop-color="#8adf00"/><stop offset="0.9" stop-color="#65ef00"/><stop offset="1.0" stop-color="#00ff00"/></linearGradient></defs>
<rect x="328.80" y="26.10" width="3.30" height="51.00" fill="url(#hg)" />
<text x="334.30" y="28.20" font-size="3.4" fill="#666" text-anchor="start" font-weight="normal" font-family='"Liberation Sans", sans-serif' >2</text>
<text x="334.30" y="41.00" font-size="3.4" fill="#666" text-anchor="start" font-weight="normal" font-family='"Liberation Sans", sans-serif' >1</text>
<text x="334.30" y="53.60" font-size="3.4" fill="#666" text-anchor="start" font-weight="normal" font-family='"Liberation Sans", sans-serif' >0</text>
<text x="334.30" y="66.20" font-size="3.4" fill="#666" text-anchor="start" font-weight="normal" font-family='"Liberation Sans", sans-serif' >-1</text>
<text x="334.30" y="78.70" font-size="3.4" fill="#666" text-anchor="start" font-weight="normal" font-family='"Liberation Sans", sans-serif' >-2</text>
<text x="339.20" y="28.80" font-size="3.8" fill="#222" text-anchor="start" font-weight="bold" font-family='"Liberation Sans", sans-serif' >Group</text>
<rect x="339.20" y="29.90" width="4.90" height="4.70" fill="#1fd0d2" />
<rect x="339.20" y="34.60" width="4.90" height="4.70" fill="#f98a80" />
<text x="345.00" y="33.60" font-size="3.7" fill="#444" text-anchor="start" font-weight="normal" font-family='"Liberation Sans", sans-serif' >M24</text>
<text x="345.00" y="38.10" font-size="3.7" fill="#444" text-anchor="start" font-weight="normal" font-family='"Liberation Sans", sans-serif' >M3</text>
<text x="198.00" y="12.50" font-size="14.0" fill="#000" text-anchor="start" font-weight="bold" font-family='"Liberation Serif", serif' >b</text>
<line x1="379.98" y1="13.50" x2="379.98" y2="168.90" stroke="#f2f2f2" stroke-width="0.4" />
<line x1="414.23" y1="13.50" x2="414.23" y2="168.90" stroke="#f2f2f2" stroke-width="0.4" />
<line x1="448.48" y1="13.50" x2="448.48" y2="168.90" stroke="#f2f2f2" stroke-width="0.4" />
<line x1="482.73" y1="13.50" x2="482.73" y2="168.90" stroke="#f2f2f2" stroke-width="0.4" />
<line x1="516.98" y1="13.50" x2="516.98" y2="168.90" stroke="#f2f2f2" stroke-width="0.4" />
<line x1="371.30" y1="143.90" x2="525.40" y2="143.90" stroke="#f2f2f2" stroke-width="0.4" />
<line x1="371.30" y1="109.50" x2="525.40" y2="109.50" stroke="#f2f2f2" stroke-width="0.4" />
<line x1="371.30" y1="75.10" x2="525.40" y2="75.10" stroke="#f2f2f2" stroke-width="0.4" />
<line x1="371.30" y1="40.70" x2="525.40" y2="40.70" stroke="#f2f2f2" stroke-width="0.4" />
<line x1="397.10" y1="13.50" x2="397.10" y2="168.90" stroke="#e6e6e6" stroke-width="0.55" />
<line x1="431.35" y1="13.50" x2="431.35" y2="168.90" stroke="#e6e6e6" stroke-width="0.55" />
<line x1="465.60" y1="13.50" x2="465.60" y2="168.90" stroke="#e6e6e6" stroke-width="0.55" />
<line x1="499.85" y1="13.50" x2="499.85" y2="168.90" stroke="#e6e6e6" stroke-width="0.55" />
<line x1="371.30" y1="161.10" x2="525.40" y2="161.10" stroke="#e6e6e6" stroke-width="0.55" />
<line x1="371.30" y1="126.70" x2="525.40" y2="126.70" stroke="#e6e6e6" stroke-width="0.55" />
<line x1="371.30" y1="92.30" x2="525.40" y2="92.30" stroke="#e6e6e6" stroke-width="0.55" />
<line x1="371.30" y1="57.90" x2="525.40" y2="57.90" stroke="#e6e6e6" stroke-width="0.55" />
<line x1="371.30" y1="23.50" x2="525.40" y2="23.50" stroke="#e6e6e6" stroke-width="0.55" />
<g fill="#c6c6c6">
<circle cx="410.5" cy="160.9" r="0.6"/>
<circle cx="442.3" cy="158.8" r="0.6"/>
<circle cx="408.4" cy="156.1" r="0.6"/>
<circle cx="410.6" cy="154.0" r="0.6"/>
<circle cx="409.1" cy="157.5" r="0.6"/>
<circle cx="465.2" cy="160.0" r="0.6"/>
<circle cx="446.8" cy="156.9" r="0.6"/>
<circle cx="413.9" cy="160.6" r="0.6"/>
<circle cx="439.6" cy="159.1" r="0.6"/>
<circle cx="419.9" cy="159.9" r="0.6"/>
<circle cx="416.7" cy="158.8" r="0.6"/>
<circle cx="422.6" cy="161.1" r="0.6"/>
<circle cx="451.5" cy="157.7" r="0.6"/>
<circle cx="408.5" cy="156.7" r="0.6"/>
<circle cx="442.1" cy="158.4" r="0.6"/>
<circle cx="446.0" cy="161.0" r="0.6"/>
<circle cx="418.6" cy="160.6" r="0.6"/>
<circle cx="448.4" cy="160.8" r="0.6"/>
<circle cx="454.6" cy="153.3" r="0.6"/>
<circle cx="437.6" cy="153.8" r="0.6"/>
<circle cx="419.3" cy="157.8" r="0.6"/>
<circle cx="467.4" cy="154.7" r="0.6"/>
<circle cx="440.4" cy="160.4" r="0.6"/>
<circle cx="438.9" cy="155.9" r="0.6"/>
<circle cx="414.6" cy="156.1" r="0.6"/>
<circle cx="454.2" cy="154.7" r="0.6"/>
<circle cx="455.7" cy="158.5" r="0.6"/>
<circle cx="438.4" cy="161.0" r="0.6"/>
<circle cx="450.1" cy="160.4" r="0.6"/>
<circle cx="421.0" cy="156.4" r="0.6"/>
<circle cx="473.7" cy="158.3" r="0.6"/>
<circle cx="452.1" cy="154.2" r="0.6"/>
<circle cx="412.2" cy="161.1" r="0.6"/>
<circle cx="438.3" cy="160.3" r="0.6"/>
<circle cx="449.7" cy="157.8" r="0.6"/>
<circle cx="432.5" cy="153.9" r="0.6"/>
<circle cx="442.2" cy="159.5" r="0.6"/>
<circle cx="461.7" cy="158.7" r="0.6"/>
<circle cx="456.9" cy="159.4" r="0.6"/>
<circle cx="439.5" cy="160.8" r="0.6"/>
<circle cx="445.3" cy="160.5" r="0.6"/>
<circle cx="447.7" cy="160.9" r="0.6"/>
<circle cx="450.8" cy="160.7" r="0.6"/>
<circle cx="439.2" cy="161.0" r="0.6"/>
<circle cx="437.0" cy="157.0" r="0.6"/>
<circle cx="465.7" cy="160.5" r="0.6"/>
<circle cx="421.2" cy="155.9" r="0.6"/>
<circle cx="447.8" cy="159.4" r="0.6"/>
<circle cx="440.8" cy="160.6" r="0.6"/>
<circle cx="422.6" cy="160.8" r="0.6"/>
<circle cx="424.2" cy="156.3" r="0.6"/>
<circle cx="450.4" cy="158.7" r="0.6"/>
<circle cx="436.4" cy="152.7" r="0.6"/>
<circle cx="443.3" cy="159.4" r="0.6"/>
<circle cx="451.8" cy="155.0" r="0.6"/>
<circle cx="407.7" cy="161.0" r="0.6"/>
<circle cx="466.6" cy="159.8" r="0.6"/>
<circle cx="425.3" cy="155.2" r="0.6"/>
<circle cx="478.1" cy="160.0" r="0.6"/>
<circle cx="439.7" cy="161.0" r="0.6"/>
<circle cx="462.8" cy="158.9" r="0.6"/>
<circle cx="438.5" cy="160.2" r="0.6"/>
<circle cx="402.8" cy="153.4" r="0.6"/>
<circle cx="392.3" cy="160.0" r="0.6"/>
<circle cx="450.7" cy="160.0" r="0.6"/>
<circle cx="449.0" cy="160.4" r="0.6"/>
<circle cx="419.8" cy="160.7" r="0.6"/>
<circle cx="409.8" cy="158.2" r="0.6"/>
<circle cx="422.5" cy="159.5" r="0.6"/>
<circle cx="458.1" cy="158.3" r="0.6"/>
<circle cx="412.8" cy="160.2" r="0.6"/>
<circle cx="416.1" cy="160.6" r="0.6"/>
<circle cx="424.3" cy="153.7" r="0.6"/>
<circle cx="438.6" cy="159.0" r="0.6"/>
<circle cx="465.3" cy="159.6" r="0.6"/>
<circle cx="422.7" cy="160.8" r="0.6"/>
<circle cx="423.3" cy="160.8" r="0.6"/>
<circle cx="416.7" cy="157.8" r="0.6"/>
<circle cx="423.4" cy="160.5" r="0.6"/>
<circle cx="469.9" cy="158.2" r="0.6"/>
<circle cx="413.8" cy="159.5" r="0.6"/>
<circle cx="444.6" cy="160.6" r="0.6"/>
<circle cx="453.0" cy="160.9" r="0.6"/>
<circle cx="409.3" cy="157.3" r="0.6"/>
<circle cx="445.4" cy="157.2" r="0.6"/>
<circle cx="453.8" cy="156.5" r="0.6"/>
<circle cx="410.9" cy="159.0" r="0.6"/>
<circle cx="449.1" cy="157.7" r="0.6"/>
<circle cx="464.7" cy="158.7" r="0.6"/>
<circle cx="438.8" cy="160.1" r="0.6"/>
<circle cx="467.6" cy="155.1" r="0.6"/>
<circle cx="436.0" cy="156.8" r="0.6"/>
<circle cx="438.7" cy="159.7" r="0.6"/>
<circle cx="439.5" cy="158.7" r="0.6"/>
<circle cx="414.9" cy="160.5" r="0.6"/>
<circle cx="413.7" cy="161.0" r="0.6"/>
<circle cx="422.6" cy="156.0" r="0.6"/>
<circle cx="457.2" cy="160.1" r="0.6"/>
<circle cx="436.3" cy="156.0" r="0.6"/>
<circle cx="452.9" cy="159.1" r="0.6"/>
<circle cx="409.7" cy="158.3" r="0.6"/>
<circle cx="412.8" cy="160.4" r="0.6"/>
<circle cx="441.8" cy="160.9" r="0.6"/>
<circle cx="449.7" cy="159.7" r="0.6"/>
<circle cx="450.7" cy="160.8" r="0.6"/>
<circle cx="416.4" cy="160.7" r="0.6"/>
<circle cx="452.8" cy="160.4" r="0.6"/>
<circle cx="455.6" cy="159.8" r="0.6"/>
<circle cx="402.0" cy="159.2" r="0.6"/>
<circle cx="416.1" cy="160.6" r="0.6"/>
<circle cx="474.2" cy="158.0" r="0.6"/>
<circle cx="453.4" cy="159.3" r="0.6"/>
<circle cx="445.4" cy="160.3" r="0.6"/>
<circle cx="435.2" cy="152.9" r="0.6"/>
<circle cx="438.5" cy="157.8" r="0.6"/>
<circle cx="423.1" cy="160.4" r="0.6"/>
<circle cx="441.9" cy="159.1" r="0.6"/>
<circle cx="443.5" cy="160.1" r="0.6"/>
<circle cx="451.0" cy="160.9" r="0.6"/>
<circle cx="409.1" cy="159.0" r="0.6"/>
<circle cx="442.8" cy="156.6" r="0.6"/>
<circle cx="465.9" cy="159.2" r="0.6"/>
<circle cx="448.9" cy="157.6" r="0.6"/>
<circle cx="413.6" cy="158.2" r="0.6"/>
<circle cx="458.8" cy="156.4" r="0.6"/>
<circle cx="399.5" cy="160.6" r="0.6"/>
<circle cx="409.2" cy="156.3" r="0.6"/>
<circle cx="414.8" cy="160.4" r="0.6"/>
<circle cx="404.4" cy="153.0" r="0.6"/>
<circle cx="460.5" cy="158.9" r="0.6"/>
<circle cx="449.6" cy="160.5" r="0.6"/>
<circle cx="449.9" cy="160.8" r="0.6"/>
<circle cx="417.6" cy="156.2" r="0.6"/>
<circle cx="444.1" cy="160.4" r="0.6"/>
<circle cx="439.7" cy="160.0" r="0.6"/>
<circle cx="448.2" cy="157.7" r="0.6"/>
<circle cx="417.8" cy="154.4" r="0.6"/>
<circle cx="456.6" cy="160.2" r="0.6"/>
<circle cx="451.8" cy="157.0" r="0.6"/>
<circle cx="451.3" cy="156.3" r="0.6"/>
<circle cx="413.9" cy="158.2" r="0.6"/>
<circle cx="423.3" cy="156.4" r="0.6"/>
<circle cx="419.0" cy="160.6" r="0.6"/>
<circle cx="416.1" cy="159.6" r="0.6"/>
<circle cx="443.8" cy="160.2" r="0.6"/>
<circle cx="423.5" cy="160.5" r="0.6"/>
<circle cx="448.9" cy="157.6" r="0.6"/>
<circle cx="448.9" cy="160.7" r="0.6"/>
<circle cx="444.6" cy="160.1" r="0.6"/>
<circle cx="445.7" cy="157.1" r="0.6"/>
<circle cx="465.5" cy="158.5" r="0.6"/>
<circle cx="456.3" cy="160.4" r="0.6"/>
<circle cx="448.9" cy="160.0" r="0.6"/>
<circle cx="443.9" cy="160.8" r="0.6"/>
<circle cx="463.4" cy="161.0" r="0.6"/>
<circle cx="452.4" cy="160.3" r="0.6"/>
<circle cx="450.4" cy="159.0" r="0.6"/>
<circle cx="429.7" cy="153.2" r="0.6"/>
<circle cx="423.0" cy="154.4" r="0.6"/>
<circle cx="459.2" cy="159.1" r="0.6"/>
<circle cx="440.6" cy="159.4" r="0.6"/>
<circle cx="442.5" cy="156.3" r="0.6"/>
<circle cx="444.9" cy="160.6" r="0.6"/>
<circle cx="480.1" cy="154.1" r="0.6"/>
<circle cx="432.0" cy="152.8" r="0.6"/>
<circle cx="455.9" cy="160.3" r="0.6"/>
<circle cx="411.4" cy="158.6" r="0.6"/>
<circle cx="439.7" cy="159.6" r="0.6"/>
<circle cx="465.5" cy="160.6" r="0.6"/>
<circle cx="437.3" cy="156.0" r="0.6"/>
<circle cx="403.6" cy="158.4" r="0.6"/>
<circle cx="444.1" cy="155.7" r="0.6"/>
<circle cx="423.7" cy="159.7" r="0.6"/>
<circle cx="396.9" cy="158.4" r="0.6"/>
<circle cx="478.4" cy="160.3" r="0.6"/>
<circle cx="442.8" cy="160.8" r="0.6"/>
<circle cx="416.2" cy="160.7" r="0.6"/>
<circle cx="423.2" cy="160.3" r="0.6"/>
<circle cx="402.9" cy="158.4" r="0.6"/>
<circle cx="451.2" cy="158.8" r="0.6"/>
<circle cx="417.3" cy="159.7" r="0.6"/>
<circle cx="457.1" cy="156.7" r="0.6"/>
<circle cx="462.4" cy="157.9" r="0.6"/>
<circle cx="412.6" cy="158.3" r="0.6"/>
<circle cx="415.4" cy="160.3" r="0.6"/>
<circle cx="410.7" cy="161.0" r="0.6"/>
<circle cx="462.0" cy="160.2" r="0.6"/>
<circle cx="438.7" cy="157.0" r="0.6"/>
<circle cx="438.5" cy="158.2" r="0.6"/>
<circle cx="447.1" cy="160.8" r="0.6"/>
<circle cx="443.5" cy="159.3" r="0.6"/>
<circle cx="382.9" cy="159.4" r="0.6"/>
<circle cx="437.7" cy="159.6" r="0.6"/>
<circle cx="478.8" cy="155.6" r="0.6"/>
<circle cx="447.6" cy="158.9" r="0.6"/>
<circle cx="446.1" cy="159.6" r="0.6"/>
<circle cx="455.1" cy="152.6" r="0.6"/>
<circle cx="454.3" cy="159.2" r="0.6"/>
<circle cx="424.0" cy="159.8" r="0.6"/>
<circle cx="447.0" cy="159.4" r="0.6"/>
<circle cx="435.0" cy="155.6" r="0.6"/>
<circle cx="440.6" cy="160.3" r="0.6"/>
<circle cx="461.8" cy="161.1" r="0.6"/>
<circle cx="442.1" cy="160.8" r="0.6"/>
<circle cx="442.3" cy="160.9" r="0.6"/>
<circle cx="412.8" cy="160.5" r="0.6"/>
<circle cx="441.0" cy="154.9" r="0.6"/>
<circle cx="407.2" cy="158.8" r="0.6"/>
<circle cx="445.1" cy="157.1" r="0.6"/>
<circle cx="416.8" cy="160.3" r="0.6"/>
<circle cx="466.5" cy="160.4" r="0.6"/>
<circle cx="462.3" cy="159.7" r="0.6"/>
<circle cx="447.0" cy="159.4" r="0.6"/>
<circle cx="411.2" cy="160.3" r="0.6"/>
<circle cx="419.5" cy="156.1" r="0.6"/>
<circle cx="438.9" cy="152.7" r="0.6"/>
<circle cx="410.0" cy="154.3" r="0.6"/>
<circle cx="447.3" cy="159.3" r="0.6"/>
<circle cx="442.4" cy="159.9" r="0.6"/>
<circle cx="438.5" cy="159.3" r="0.6"/>
<circle cx="421.7" cy="158.9" r="0.6"/>
<circle cx="420.7" cy="156.4" r="0.6"/>
<circle cx="416.5" cy="160.6" r="0.6"/>
<circle cx="462.1" cy="153.3" r="0.6"/>
<circle cx="461.2" cy="159.7" r="0.6"/>
<circle cx="459.5" cy="160.3" r="0.6"/>
<circle cx="439.6" cy="157.1" r="0.6"/>
<circle cx="455.1" cy="160.5" r="0.6"/>
<circle cx="415.1" cy="161.1" r="0.6"/>
<circle cx="456.0" cy="157.7" r="0.6"/>
<circle cx="403.4" cy="160.9" r="0.6"/>
<circle cx="424.9" cy="158.1" r="0.6"/>
<circle cx="468.0" cy="153.5" r="0.6"/>
<circle cx="458.0" cy="153.7" r="0.6"/>
<circle cx="413.7" cy="160.0" r="0.6"/>
<circle cx="436.0" cy="156.5" r="0.6"/>
<circle cx="449.5" cy="160.1" r="0.6"/>
<circle cx="443.1" cy="160.0" r="0.6"/>
<circle cx="445.6" cy="160.1" r="0.6"/>
<circle cx="442.2" cy="159.4" r="0.6"/>
<circle cx="475.9" cy="160.8" r="0.6"/>
<circle cx="411.7" cy="158.6" r="0.6"/>
<circle cx="440.3" cy="157.7" r="0.6"/>
<circle cx="418.8" cy="158.4" r="0.6"/>
<circle cx="473.4" cy="156.9" r="0.6"/>
<circle cx="418.0" cy="158.1" r="0.6"/>
<circle cx="422.2" cy="158.3" r="0.6"/>
<circle cx="448.9" cy="158.3" r="0.6"/>
<circle cx="443.4" cy="160.4" r="0.6"/>
<circle cx="458.8" cy="159.3" r="0.6"/>
<circle cx="448.0" cy="155.9" r="0.6"/>
<circle cx="412.9" cy="160.3" r="0.6"/>
<circle cx="423.8" cy="159.1" r="0.6"/>
<circle cx="410.0" cy="161.0" r="0.6"/>
<circle cx="441.9" cy="160.2" r="0.6"/>
<circle cx="438.9" cy="160.8" r="0.6"/>
<circle cx="459.0" cy="155.3" r="0.6"/>
<circle cx="449.1" cy="160.2" r="0.6"/>
<circle cx="425.9" cy="156.6" r="0.6"/>
<circle cx="422.8" cy="160.3" r="0.6"/>
<circle cx="401.3" cy="158.3" r="0.6"/>
<circle cx="423.9" cy="159.2" r="0.6"/>
<circle cx="414.3" cy="160.1" r="0.6"/>
<circle cx="423.3" cy="158.4" r="0.6"/>
<circle cx="392.2" cy="160.5" r="0.6"/>
<circle cx="456.6" cy="160.6" r="0.6"/>
<circle cx="406.1" cy="160.7" r="0.6"/>
<circle cx="462.2" cy="159.2" r="0.6"/>
<circle cx="441.5" cy="158.5" r="0.6"/>
<circle cx="415.1" cy="155.4" r="0.6"/>
<circle cx="441.4" cy="158.5" r="0.6"/>
<circle cx="446.4" cy="157.4" r="0.6"/>
<circle cx="441.6" cy="157.6" r="0.6"/>
<circle cx="433.5" cy="154.6" r="0.6"/>
<circle cx="414.2" cy="156.0" r="0.6"/>
<circle cx="407.2" cy="152.8" r="0.6"/>
<circle cx="409.3" cy="160.8" r="0.6"/>
<circle cx="444.6" cy="156.5" r="0.6"/>
<circle cx="442.8" cy="156.8" r="0.6"/>
<circle cx="408.6" cy="156.1" r="0.6"/>
<circle cx="446.8" cy="157.6" r="0.6"/>
<circle cx="399.8" cy="158.9" r="0.6"/>
<circle cx="423.8" cy="160.7" r="0.6"/>
<circle cx="450.4" cy="159.3" r="0.6"/>
<circle cx="441.0" cy="159.2" r="0.6"/>
<circle cx="416.2" cy="159.1" r="0.6"/>
<circle cx="437.7" cy="158.1" r="0.6"/>
<circle cx="443.9" cy="159.6" r="0.6"/>
<circle cx="404.7" cy="155.6" r="0.6"/>
<circle cx="444.4" cy="157.1" r="0.6"/>
<circle cx="449.4" cy="160.7" r="0.6"/>
<circle cx="406.6" cy="161.1" r="0.6"/>
<circle cx="423.7" cy="160.3" r="0.6"/>
<circle cx="451.5" cy="160.5" r="0.6"/>
<circle cx="400.1" cy="153.6" r="0.6"/>
<circle cx="460.2" cy="160.6" r="0.6"/>
<circle cx="439.8" cy="160.8" r="0.6"/>
<circle cx="414.8" cy="153.9" r="0.6"/>
<circle cx="441.0" cy="159.3" r="0.6"/>
<circle cx="422.7" cy="159.2" r="0.6"/>
<circle cx="455.4" cy="157.6" r="0.6"/>
<circle cx="466.1" cy="157.6" r="0.6"/>
<circle cx="449.8" cy="158.8" r="0.6"/>
<circle cx="442.6" cy="160.1" r="0.6"/>
<circle cx="415.5" cy="154.4" r="0.6"/>
<circle cx="458.1" cy="158.3" r="0.6"/>
<circle cx="412.4" cy="156.8" r="0.6"/>
<circle cx="456.6" cy="159.4" r="0.6"/>
<circle cx="442.2" cy="157.4" r="0.6"/>
<circle cx="461.3" cy="158.2" r="0.6"/>
<circle cx="418.6" cy="157.9" r="0.6"/>
<circle cx="421.5" cy="160.2" r="0.6"/>
<circle cx="411.9" cy="159.4" r="0.6"/>
<circle cx="476.8" cy="160.1" r="0.6"/>
<circle cx="416.5" cy="154.0" r="0.6"/>
<circle cx="467.2" cy="155.2" r="0.6"/>
<circle cx="459.6" cy="160.1" r="0.6"/>
<circle cx="451.5" cy="156.0" r="0.6"/>
<circle cx="403.9" cy="159.5" r="0.6"/>
<circle cx="456.6" cy="156.7" r="0.6"/>
<circle cx="440.4" cy="158.4" r="0.6"/>
<circle cx="443.3" cy="153.3" r="0.6"/>
<circle cx="453.2" cy="159.1" r="0.6"/>
<circle cx="438.7" cy="158.3" r="0.6"/>
<circle cx="398.1" cy="157.8" r="0.6"/>
<circle cx="454.8" cy="160.0" r="0.6"/>
<circle cx="442.0" cy="159.6" r="0.6"/>
<circle cx="450.7" cy="154.4" r="0.6"/>
<circle cx="417.7" cy="160.4" r="0.6"/>
<circle cx="451.3" cy="160.5" r="0.6"/>
<circle cx="417.1" cy="159.0" r="0.6"/>
<circle cx="429.2" cy="155.3" r="0.6"/>
<circle cx="421.5" cy="159.1" r="0.6"/>
<circle cx="426.6" cy="156.2" r="0.6"/>
<circle cx="397.9" cy="160.9" r="0.6"/>
<circle cx="437.4" cy="156.9" r="0.6"/>
<circle cx="442.6" cy="159.5" r="0.6"/>
<circle cx="418.0" cy="158.1" r="0.6"/>
<circle cx="437.1" cy="155.1" r="0.6"/>
<circle cx="455.3" cy="159.4" r="0.6"/>
<circle cx="420.7" cy="159.4" r="0.6"/>
<circle cx="478.1" cy="160.5" r="0.6"/>
<circle cx="446.5" cy="159.4" r="0.6"/>
<circle cx="444.6" cy="153.4" r="0.6"/>
<circle cx="459.7" cy="160.9" r="0.6"/>
<circle cx="420.5" cy="160.2" r="0.6"/>
<circle cx="415.2" cy="160.4" r="0.6"/>
<circle cx="441.7" cy="155.3" r="0.6"/>
<circle cx="456.0" cy="158.3" r="0.6"/>
<circle cx="423.7" cy="159.1" r="0.6"/>
<circle cx="418.5" cy="159.8" r="0.6"/>
<circle cx="414.7" cy="159.7" r="0.6"/>
<circle cx="438.6" cy="160.0" r="0.6"/>
<circle cx="401.7" cy="161.1" r="0.6"/>
<circle cx="447.3" cy="158.6" r="0.6"/>
<circle cx="418.7" cy="159.4" r="0.6"/>
<circle cx="454.9" cy="159.2" r="0.6"/>
<circle cx="421.2" cy="158.6" r="0.6"/>
<circle cx="449.2" cy="152.4" r="0.6"/>
<circle cx="460.9" cy="159.6" r="0.6"/>
<circle cx="415.8" cy="160.2" r="0.6"/>
<circle cx="425.8" cy="153.1" r="0.6"/>
<circle cx="459.9" cy="154.9" r="0.6"/>
<circle cx="412.6" cy="158.3" r="0.6"/>
<circle cx="411.9" cy="157.6" r="0.6"/>
<circle cx="423.2" cy="153.1" r="0.6"/>
<circle cx="443.7" cy="160.8" r="0.6"/>
<circle cx="463.5" cy="160.7" r="0.6"/>
<circle cx="439.6" cy="160.2" r="0.6"/>
<circle cx="421.5" cy="159.4" r="0.6"/>
<circle cx="442.2" cy="160.4" r="0.6"/>
<circle cx="429.6" cy="154.9" r="0.6"/>
<circle cx="423.4" cy="156.9" r="0.6"/>
<circle cx="429.4" cy="152.8" r="0.6"/>
<circle cx="451.5" cy="160.8" r="0.6"/>
<circle cx="442.8" cy="158.0" r="0.6"/>
<circle cx="416.5" cy="159.5" r="0.6"/>
<circle cx="439.6" cy="160.8" r="0.6"/>
<circle cx="436.2" cy="157.6" r="0.6"/>
<circle cx="435.2" cy="156.4" r="0.6"/>
<circle cx="422.1" cy="160.8" r="0.6"/>
<circle cx="477.9" cy="156.2" r="0.6"/>
<circle cx="444.5" cy="158.9" r="0.6"/>
<circle cx="419.0" cy="155.8" r="0.6"/>
<circle cx="482.2" cy="156.3" r="0.6"/>
<circle cx="439.4" cy="154.4" r="0.6"/>
<circle cx="418.3" cy="160.7" r="0.6"/>
<circle cx="474.1" cy="160.1" r="0.6"/>
<circle cx="455.1" cy="160.9" r="0.6"/>
<circle cx="457.8" cy="158.7" r="0.6"/>
<circle cx="447.2" cy="157.6" r="0.6"/>
<circle cx="441.5" cy="160.1" r="0.6"/>
<circle cx="438.9" cy="156.8" r="0.6"/>
<circle cx="446.6" cy="159.9" r="0.6"/>
<circle cx="439.6" cy="159.9" r="0.6"/>
<circle cx="416.2" cy="160.7" r="0.6"/>
<circle cx="422.7" cy="157.5" r="0.6"/>
<circle cx="420.9" cy="153.9" r="0.6"/>
<circle cx="456.1" cy="159.2" r="0.6"/>
<circle cx="460.6" cy="157.3" r="0.6"/>
<circle cx="442.3" cy="157.0" r="0.6"/>
<circle cx="437.6" cy="157.4" r="0.6"/>
<circle cx="450.8" cy="156.1" r="0.6"/>
<circle cx="399.2" cy="158.8" r="0.6"/>
<circle cx="400.5" cy="159.0" r="0.6"/>
<circle cx="465.1" cy="159.3" r="0.6"/>
<circle cx="423.3" cy="159.9" r="0.6"/>
<circle cx="420.0" cy="160.4" r="0.6"/>
<circle cx="411.3" cy="160.6" r="0.6"/>
<circle cx="386.3" cy="155.9" r="0.6"/>
<circle cx="423.5" cy="158.6" r="0.6"/>
<circle cx="442.8" cy="156.8" r="0.6"/>
<circle cx="400.5" cy="159.0" r="0.6"/>
<circle cx="423.5" cy="159.6" r="0.6"/>
<circle cx="409.5" cy="156.0" r="0.6"/>
<circle cx="437.8" cy="158.6" r="0.6"/>
<circle cx="420.3" cy="160.4" r="0.6"/>
<circle cx="440.3" cy="153.3" r="0.6"/>
<circle cx="456.3" cy="159.3" r="0.6"/>
<circle cx="420.6" cy="160.4" r="0.6"/>
<circle cx="423.9" cy="159.2" r="0.6"/>
<circle cx="460.2" cy="157.1" r="0.6"/>
<circle cx="446.5" cy="160.5" r="0.6"/>
<circle cx="401.2" cy="161.1" r="0.6"/>
<circle cx="437.0" cy="158.7" r="0.6"/>
<circle cx="447.3" cy="157.5" r="0.6"/>
<circle cx="450.2" cy="158.5" r="0.6"/>
<circle cx="439.4" cy="161.1" r="0.6"/>
<circle cx="420.5" cy="159.3" r="0.6"/>
<circle cx="456.8" cy="158.1" r="0.6"/>
<circle cx="405.6" cy="159.6" r="0.6"/>
<circle cx="411.2" cy="152.6" r="0.6"/>
<circle cx="451.2" cy="157.9" r="0.6"/>
<circle cx="421.2" cy="159.5" r="0.6"/>
<circle cx="397.4" cy="160.7" r="0.6"/>
<circle cx="404.9" cy="158.2" r="0.6"/>
<circle cx="458.6" cy="160.4" r="0.6"/>
<circle cx="438.7" cy="156.0" r="0.6"/>
<circle cx="452.7" cy="159.3" r="0.6"/>
<circle cx="441.7" cy="156.5" r="0.6"/>
<circle cx="446.3" cy="158.8" r="0.6"/>
<circle cx="455.0" cy="159.9" r="0.6"/>
<circle cx="443.5" cy="158.2" r="0.6"/>
<circle cx="424.6" cy="153.3" r="0.6"/>
<circle cx="441.2" cy="158.3" r="0.6"/>
<circle cx="448.9" cy="160.9" r="0.6"/>
<circle cx="419.4" cy="155.5" r="0.6"/>
<circle cx="452.1" cy="160.3" r="0.6"/>
<circle cx="438.1" cy="157.7" r="0.6"/>
<circle cx="470.4" cy="157.7" r="0.6"/>
<circle cx="455.3" cy="160.3" r="0.6"/>
<circle cx="445.8" cy="159.6" r="0.6"/>
<circle cx="454.1" cy="155.1" r="0.6"/>
<circle cx="419.9" cy="159.9" r="0.6"/>
<circle cx="442.9" cy="157.3" r="0.6"/>
<circle cx="445.5" cy="160.1" r="0.6"/>
<circle cx="418.5" cy="160.7" r="0.6"/>
<circle cx="445.8" cy="156.7" r="0.6"/>
<circle cx="462.5" cy="159.4" r="0.6"/>
<circle cx="439.1" cy="160.5" r="0.6"/>
<circle cx="451.3" cy="159.9" r="0.6"/>
<circle cx="441.2" cy="159.9" r="0.6"/>
<circle cx="464.5" cy="161.0" r="0.6"/>
<circle cx="444.6" cy="159.7" r="0.6"/>
<circle cx="424.1" cy="153.9" r="0.6"/>
<circle cx="417.0" cy="152.7" r="0.6"/>
<circle cx="443.5" cy="158.2" r="0.6"/>
<circle cx="423.8" cy="157.3" r="0.6"/>
<circle cx="455.3" cy="155.6" r="0.6"/>
<circle cx="416.3" cy="155.7" r="0.6"/>
<circle cx="447.8" cy="159.9" r="0.6"/>
<circle cx="443.5" cy="158.5" r="0.6"/>
<circle cx="450.1" cy="160.0" r="0.6"/>
<circle cx="456.1" cy="159.3" r="0.6"/>
<circle cx="453.4" cy="152.4" r="0.6"/>
<circle cx="442.6" cy="159.0" r="0.6"/>
<circle cx="415.6" cy="157.7" r="0.6"/>
<circle cx="423.3" cy="157.0" r="0.6"/>
<circle cx="452.9" cy="160.8" r="0.6"/>
<circle cx="437.5" cy="159.4" r="0.6"/>
<circle cx="464.2" cy="158.8" r="0.6"/>
<circle cx="397.8" cy="158.1" r="0.6"/>
<circle cx="402.0" cy="160.9" r="0.6"/>
<circle cx="415.5" cy="158.4" r="0.6"/>
<circle cx="414.9" cy="158.5" r="0.6"/>
<circle cx="471.6" cy="158.2" r="0.6"/>
<circle cx="439.4" cy="155.1" r="0.6"/>
<circle cx="452.3" cy="155.4" r="0.6"/>
<circle cx="439.8" cy="159.9" r="0.6"/>
<circle cx="448.2" cy="156.8" r="0.6"/>
<circle cx="459.7" cy="158.3" r="0.6"/>
<circle cx="406.0" cy="159.3" r="0.6"/>
<circle cx="400.0" cy="161.0" r="0.6"/>
<circle cx="420.8" cy="157.9" r="0.6"/>
<circle cx="447.8" cy="160.1" r="0.6"/>
<circle cx="423.5" cy="160.0" r="0.6"/>
<circle cx="414.9" cy="160.5" r="0.6"/>
<circle cx="409.2" cy="158.1" r="0.6"/>
<circle cx="436.3" cy="157.4" r="0.6"/>
<circle cx="410.2" cy="156.9" r="0.6"/>
<circle cx="445.9" cy="154.9" r="0.6"/>
<circle cx="441.7" cy="154.3" r="0.6"/>
<circle cx="437.7" cy="160.1" r="0.6"/>
<circle cx="451.3" cy="160.3" r="0.6"/>
<circle cx="448.9" cy="158.9" r="0.6"/>
<circle cx="455.6" cy="160.7" r="0.6"/>
<circle cx="458.4" cy="158.3" r="0.6"/>
<circle cx="420.0" cy="157.8" r="0.6"/>
<circle cx="417.9" cy="160.6" r="0.6"/>
<circle cx="463.8" cy="160.5" r="0.6"/>
<circle cx="415.9" cy="160.1" r="0.6"/>
<circle cx="452.2" cy="154.9" r="0.6"/>
<circle cx="403.6" cy="158.2" r="0.6"/>
<circle cx="447.4" cy="159.5" r="0.6"/>
<circle cx="415.7" cy="160.0" r="0.6"/>
<circle cx="410.2" cy="158.3" r="0.6"/>
<circle cx="448.4" cy="160.9" r="0.6"/>
<circle cx="441.0" cy="160.1" r="0.6"/>
<circle cx="434.3" cy="154.7" r="0.6"/>
<circle cx="450.5" cy="160.2" r="0.6"/>
<circle cx="439.1" cy="161.1" r="0.6"/>
<circle cx="447.0" cy="159.3" r="0.6"/>
<circle cx="415.7" cy="157.6" r="0.6"/>
<circle cx="443.4" cy="158.3" r="0.6"/>
<circle cx="421.0" cy="159.7" r="0.6"/>
<circle cx="440.2" cy="158.3" r="0.6"/>
<circle cx="411.3" cy="155.4" r="0.6"/>
<circle cx="439.1" cy="160.9" r="0.6"/>
<circle cx="443.2" cy="157.0" r="0.6"/>
<circle cx="424.7" cy="157.7" r="0.6"/>
<circle cx="438.0" cy="158.1" r="0.6"/>
<circle cx="457.3" cy="157.1" r="0.6"/>
<circle cx="441.6" cy="160.8" r="0.6"/>
<circle cx="437.1" cy="157.6" r="0.6"/>
<circle cx="445.9" cy="158.9" r="0.6"/>
<circle cx="440.7" cy="161.1" r="0.6"/>
<circle cx="446.6" cy="158.9" r="0.6"/>
<circle cx="472.9" cy="158.5" r="0.6"/>
<circle cx="441.8" cy="152.6" r="0.6"/>
<circle cx="416.1" cy="159.3" r="0.6"/>
<circle cx="419.5" cy="157.3" r="0.6"/>
<circle cx="411.6" cy="160.9" r="0.6"/>
<circle cx="476.9" cy="158.7" r="0.6"/>
<circle cx="386.8" cy="160.6" r="0.6"/>
<circle cx="436.9" cy="155.8" r="0.6"/>
<circle cx="438.9" cy="154.7" r="0.6"/>
<circle cx="451.5" cy="160.3" r="0.6"/>
<circle cx="443.2" cy="157.6" r="0.6"/>
<circle cx="459.0" cy="160.5" r="0.6"/>
<circle cx="414.8" cy="160.5" r="0.6"/>
<circle cx="441.2" cy="154.2" r="0.6"/>
<circle cx="454.0" cy="160.1" r="0.6"/>
<circle cx="438.4" cy="159.5" r="0.6"/>
<circle cx="420.2" cy="159.8" r="0.6"/>
<circle cx="447.1" cy="160.5" r="0.6"/>
<circle cx="416.1" cy="158.0" r="0.6"/>
<circle cx="456.1" cy="157.3" r="0.6"/>
<circle cx="449.3" cy="154.0" r="0.6"/>
<circle cx="425.0" cy="157.8" r="0.6"/>
<circle cx="421.1" cy="159.3" r="0.6"/>
<circle cx="429.5" cy="154.4" r="0.6"/>
<circle cx="423.5" cy="155.3" r="0.6"/>
<circle cx="451.8" cy="159.0" r="0.6"/>
<circle cx="420.4" cy="159.2" r="0.6"/>
<circle cx="444.8" cy="161.0" r="0.6"/>
<circle cx="446.3" cy="157.7" r="0.6"/>
<circle cx="474.1" cy="160.3" r="0.6"/>
<circle cx="480.5" cy="158.6" r="0.6"/>
<circle cx="471.8" cy="161.0" r="0.6"/>
<circle cx="438.6" cy="160.1" r="0.6"/>
<circle cx="454.8" cy="155.9" r="0.6"/>
<circle cx="464.3" cy="157.7" r="0.6"/>
<circle cx="442.4" cy="161.1" r="0.6"/>
<circle cx="451.8" cy="155.4" r="0.6"/>
<circle cx="421.9" cy="159.8" r="0.6"/>
<circle cx="420.3" cy="156.5" r="0.6"/>
<circle cx="403.8" cy="160.6" r="0.6"/>
<circle cx="407.1" cy="159.1" r="0.6"/>
<circle cx="406.6" cy="158.5" r="0.6"/>
<circle cx="443.3" cy="158.2" r="0.6"/>
<circle cx="438.1" cy="159.4" r="0.6"/>
<circle cx="461.5" cy="159.1" r="0.6"/>
<circle cx="462.1" cy="158.7" r="0.6"/>
<circle cx="440.4" cy="159.5" r="0.6"/>
<circle cx="396.6" cy="155.5" r="0.6"/>
<circle cx="409.0" cy="161.1" r="0.6"/>
<circle cx="417.6" cy="161.1" r="0.6"/>
<circle cx="402.2" cy="154.9" r="0.6"/>
<circle cx="457.8" cy="159.0" r="0.6"/>
<circle cx="438.6" cy="159.8" r="0.6"/>
<circle cx="472.6" cy="160.9" r="0.6"/>
<circle cx="451.7" cy="159.1" r="0.6"/>
<circle cx="403.6" cy="161.1" r="0.6"/>
<circle cx="456.2" cy="157.0" r="0.6"/>
<circle cx="412.0" cy="160.5" r="0.6"/>
<circle cx="411.2" cy="160.7" r="0.6"/>
<circle cx="441.8" cy="156.2" r="0.6"/>
<circle cx="429.5" cy="153.3" r="0.6"/>
<circle cx="462.8" cy="159.3" r="0.6"/>
<circle cx="440.1" cy="156.9" r="0.6"/>
<circle cx="412.3" cy="160.4" r="0.6"/>
<circle cx="455.7" cy="159.3" r="0.6"/>
<circle cx="407.8" cy="160.8" r="0.6"/>
<circle cx="438.1" cy="158.1" r="0.6"/>
<circle cx="423.9" cy="154.2" r="0.6"/>
<circle cx="452.6" cy="160.7" r="0.6"/>
<circle cx="439.0" cy="160.6" r="0.6"/>
<circle cx="444.1" cy="158.3" r="0.6"/>
<circle cx="443.2" cy="160.6" r="0.6"/>
<circle cx="403.0" cy="153.2" r="0.6"/>
<circle cx="406.1" cy="156.4" r="0.6"/>
<circle cx="406.8" cy="160.2" r="0.6"/>
<circle cx="405.3" cy="156.2" r="0.6"/>
<circle cx="416.4" cy="157.9" r="0.6"/>
<circle cx="423.6" cy="157.3" r="0.6"/>
<circle cx="460.5" cy="159.6" r="0.6"/>
<circle cx="430.5" cy="155.0" r="0.6"/>
<circle cx="423.0" cy="160.0" r="0.6"/>
<circle cx="424.6" cy="154.7" r="0.6"/>
<circle cx="420.4" cy="156.2" r="0.6"/>
<circle cx="422.9" cy="161.1" r="0.6"/>
<circle cx="423.2" cy="158.1" r="0.6"/>
<circle cx="404.5" cy="157.6" r="0.6"/>
<circle cx="440.9" cy="158.5" r="0.6"/>
<circle cx="443.5" cy="158.8" r="0.6"/>
<circle cx="416.3" cy="159.1" r="0.6"/>
<circle cx="451.9" cy="160.0" r="0.6"/>
<circle cx="420.5" cy="160.7" r="0.6"/>
<circle cx="453.0" cy="158.7" r="0.6"/>
<circle cx="411.1" cy="160.9" r="0.6"/>
<circle cx="409.8" cy="159.6" r="0.6"/>
<circle cx="456.0" cy="158.7" r="0.6"/>
<circle cx="453.8" cy="157.3" r="0.6"/>
<circle cx="442.9" cy="158.7" r="0.6"/>
<circle cx="450.6" cy="160.0" r="0.6"/>
<circle cx="435.5" cy="155.1" r="0.6"/>
<circle cx="455.2" cy="160.8" r="0.6"/>
<circle cx="455.5" cy="160.5" r="0.6"/>
<circle cx="450.4" cy="159.3" r="0.6"/>
<circle cx="413.3" cy="154.2" r="0.6"/>
<circle cx="441.6" cy="158.1" r="0.6"/>
<circle cx="405.6" cy="160.8" r="0.6"/>
<circle cx="438.9" cy="159.7" r="0.6"/>
<circle cx="420.4" cy="157.7" r="0.6"/>
<circle cx="451.7" cy="159.9" r="0.6"/>
<circle cx="393.2" cy="161.0" r="0.6"/>
<circle cx="402.3" cy="158.3" r="0.6"/>
<circle cx="416.6" cy="161.1" r="0.6"/>
<circle cx="409.8" cy="153.0" r="0.6"/>
<circle cx="415.2" cy="159.8" r="0.6"/>
<circle cx="439.5" cy="156.5" r="0.6"/>
<circle cx="448.4" cy="158.1" r="0.6"/>
<circle cx="433.9" cy="155.3" r="0.6"/>
<circle cx="409.0" cy="153.7" r="0.6"/>
<circle cx="454.9" cy="155.7" r="0.6"/>
<circle cx="418.3" cy="160.2" r="0.6"/>
<circle cx="412.4" cy="157.0" r="0.6"/>
<circle cx="446.9" cy="160.3" r="0.6"/>
<circle cx="404.9" cy="154.8" r="0.6"/>
<circle cx="438.3" cy="158.0" r="0.6"/>
<circle cx="434.3" cy="155.0" r="0.6"/>
<circle cx="455.0" cy="157.4" r="0.6"/>
<circle cx="447.3" cy="160.3" r="0.6"/>
<circle cx="435.2" cy="152.4" r="0.6"/>
<circle cx="455.3" cy="156.5" r="0.6"/>
<circle cx="410.5" cy="158.8" r="0.6"/>
<circle cx="442.4" cy="160.6" r="0.6"/>
<circle cx="465.5" cy="155.5" r="0.6"/>
<circle cx="458.4" cy="161.0" r="0.6"/>
<circle cx="414.7" cy="159.6" r="0.6"/>
<circle cx="448.3" cy="160.1" r="0.6"/>
<circle cx="405.4" cy="155.6" r="0.6"/>
<circle cx="430.1" cy="154.5" r="0.6"/>
<circle cx="462.6" cy="160.6" r="0.6"/>
<circle cx="438.8" cy="154.6" r="0.6"/>
<circle cx="450.3" cy="159.0" r="0.6"/>
<circle cx="471.2" cy="159.4" r="0.6"/>
<circle cx="403.4" cy="159.0" r="0.6"/>
<circle cx="421.6" cy="160.2" r="0.6"/>
<circle cx="445.1" cy="157.1" r="0.6"/>
<circle cx="420.6" cy="158.9" r="0.6"/>
<circle cx="450.3" cy="158.0" r="0.6"/>
<circle cx="444.0" cy="160.6" r="0.6"/>
<circle cx="457.3" cy="159.3" r="0.6"/>
<circle cx="444.0" cy="158.4" r="0.6"/>
<circle cx="443.7" cy="157.6" r="0.6"/>
<circle cx="420.5" cy="160.2" r="0.6"/>
<circle cx="455.0" cy="161.0" r="0.6"/>
<circle cx="392.7" cy="158.1" r="0.6"/>
<circle cx="406.8" cy="158.1" r="0.6"/>
<circle cx="460.6" cy="157.6" r="0.6"/>
<circle cx="410.8" cy="160.3" r="0.6"/>
<circle cx="447.4" cy="157.2" r="0.6"/>
<circle cx="443.1" cy="160.4" r="0.6"/>
<circle cx="399.6" cy="158.4" r="0.6"/>
<circle cx="452.5" cy="159.9" r="0.6"/>
<circle cx="464.0" cy="157.8" r="0.6"/>
<circle cx="419.7" cy="160.4" r="0.6"/>
<circle cx="468.3" cy="159.8" r="0.6"/>
<circle cx="446.5" cy="159.7" r="0.6"/>
<circle cx="420.2" cy="160.9" r="0.6"/>
<circle cx="408.6" cy="160.2" r="0.6"/>
<circle cx="408.7" cy="161.1" r="0.6"/>
<circle cx="449.5" cy="160.8" r="0.6"/>
<circle cx="465.6" cy="158.7" r="0.6"/>
<circle cx="450.5" cy="160.2" r="0.6"/>
<circle cx="419.2" cy="158.6" r="0.6"/>
<circle cx="449.8" cy="154.7" r="0.6"/>
<circle cx="421.0" cy="153.2" r="0.6"/>
<circle cx="464.1" cy="154.7" r="0.6"/>
<circle cx="449.6" cy="159.3" r="0.6"/>
<circle cx="409.4" cy="154.6" r="0.6"/>
<circle cx="447.4" cy="161.0" r="0.6"/>
<circle cx="446.4" cy="159.4" r="0.6"/>
<circle cx="446.9" cy="158.5" r="0.6"/>
<circle cx="440.2" cy="160.7" r="0.6"/>
<circle cx="455.5" cy="158.2" r="0.6"/>
<circle cx="438.9" cy="159.9" r="0.6"/>
<circle cx="455.6" cy="160.0" r="0.6"/>
<circle cx="424.7" cy="158.3" r="0.6"/>
<circle cx="425.6" cy="155.7" r="0.6"/>
<circle cx="423.3" cy="157.9" r="0.6"/>
<circle cx="427.9" cy="155.7" r="0.6"/>
<circle cx="419.2" cy="159.1" r="0.6"/>
<circle cx="456.3" cy="158.3" r="0.6"/>
<circle cx="400.7" cy="158.0" r="0.6"/>
<circle cx="417.6" cy="158.9" r="0.6"/>
<circle cx="452.4" cy="160.0" r="0.6"/>
<circle cx="466.9" cy="157.0" r="0.6"/>
<circle cx="468.9" cy="158.2" r="0.6"/>
<circle cx="449.3" cy="160.1" r="0.6"/>
<circle cx="409.7" cy="159.4" r="0.6"/>
<circle cx="446.1" cy="161.0" r="0.6"/>
<circle cx="453.2" cy="158.9" r="0.6"/>
<circle cx="423.0" cy="156.7" r="0.6"/>
<circle cx="464.8" cy="159.4" r="0.6"/>
<circle cx="441.5" cy="159.3" r="0.6"/>
<circle cx="444.6" cy="160.3" r="0.6"/>
<circle cx="437.9" cy="160.4" r="0.6"/>
<circle cx="426.3" cy="156.6" r="0.6"/>
<circle cx="442.5" cy="159.6" r="0.6"/>
<circle cx="458.1" cy="154.8" r="0.6"/>
<circle cx="408.6" cy="160.9" r="0.6"/>
<circle cx="417.2" cy="160.1" r="0.6"/>
<circle cx="472.7" cy="157.1" r="0.6"/>
<circle cx="438.8" cy="157.0" r="0.6"/>
<circle cx="430.7" cy="155.0" r="0.6"/>
<circle cx="449.4" cy="158.9" r="0.6"/>
<circle cx="450.9" cy="159.1" r="0.6"/>
<circle cx="443.0" cy="160.6" r="0.6"/>
<circle cx="415.5" cy="160.2" r="0.6"/>
<circle cx="419.0" cy="159.2" r="0.6"/>
<circle cx="410.9" cy="160.3" r="0.6"/>
<circle cx="452.2" cy="160.4" r="0.6"/>
<circle cx="416.5" cy="160.2" r="0.6"/>
<circle cx="440.4" cy="160.9" r="0.6"/>
<circle cx="409.1" cy="158.0" r="0.6"/>
<circle cx="443.9" cy="160.9" r="0.6"/>
<circle cx="473.3" cy="154.3" r="0.6"/>
<circle cx="453.4" cy="159.4" r="0.6"/>
<circle cx="478.3" cy="157.6" r="0.6"/>
<circle cx="475.5" cy="160.7" r="0.6"/>
<circle cx="462.0" cy="153.1" r="0.6"/>
<circle cx="383.7" cy="160.0" r="0.6"/>
<circle cx="410.4" cy="160.4" r="0.6"/>
<circle cx="416.5" cy="159.0" r="0.6"/>
<circle cx="414.9" cy="153.5" r="0.6"/>
<circle cx="409.5" cy="161.0" r="0.6"/>
<circle cx="445.9" cy="157.8" r="0.6"/>
<circle cx="447.4" cy="160.0" r="0.6"/>
<circle cx="414.4" cy="160.9" r="0.6"/>
<circle cx="398.7" cy="159.0" r="0.6"/>
<circle cx="424.0" cy="159.6" r="0.6"/>
<circle cx="409.6" cy="160.9" r="0.6"/>
<circle cx="455.4" cy="161.0" r="0.6"/>
<circle cx="465.4" cy="161.0" r="0.6"/>
<circle cx="471.4" cy="160.0" r="0.6"/>
<circle cx="442.2" cy="159.1" r="0.6"/>
<circle cx="405.5" cy="160.5" r="0.6"/>
<circle cx="466.9" cy="161.0" r="0.6"/>
<circle cx="449.4" cy="160.6" r="0.6"/>
<circle cx="419.8" cy="157.9" r="0.6"/>
<circle cx="419.4" cy="159.2" r="0.6"/>
<circle cx="419.6" cy="158.7" r="0.6"/>
<circle cx="460.4" cy="156.8" r="0.6"/>
<circle cx="443.9" cy="155.4" r="0.6"/>
<circle cx="400.3" cy="157.8" r="0.6"/>
<circle cx="439.3" cy="159.8" r="0.6"/>
<circle cx="458.9" cy="160.7" r="0.6"/>
<circle cx="440.6" cy="157.5" r="0.6"/>
<circle cx="448.0" cy="157.8" r="0.6"/>
<circle cx="405.4" cy="159.3" r="0.6"/>
<circle cx="464.5" cy="156.9" r="0.6"/>
<circle cx="450.8" cy="156.5" r="0.6"/>
<circle cx="465.6" cy="160.8" r="0.6"/>
<circle cx="454.4" cy="155.1" r="0.6"/>
<circle cx="438.4" cy="160.4" r="0.6"/>
<circle cx="417.1" cy="158.2" r="0.6"/>
<circle cx="460.7" cy="158.9" r="0.6"/>
<circle cx="475.2" cy="155.3" r="0.6"/>
<circle cx="452.3" cy="156.4" r="0.6"/>
<circle cx="471.2" cy="160.9" r="0.6"/>
<circle cx="399.8" cy="157.9" r="0.6"/>
<circle cx="454.6" cy="160.9" r="0.6"/>
<circle cx="459.2" cy="156.2" r="0.6"/>
<circle cx="454.5" cy="160.7" r="0.6"/>
<circle cx="457.3" cy="160.1" r="0.6"/>
<circle cx="455.5" cy="158.1" r="0.6"/>
<circle cx="427.9" cy="154.8" r="0.6"/>
<circle cx="428.0" cy="153.2" r="0.6"/>
<circle cx="481.3" cy="156.1" r="0.6"/>
<circle cx="439.9" cy="156.0" r="0.6"/>
<circle cx="452.2" cy="159.3" r="0.6"/>
<circle cx="451.7" cy="159.4" r="0.6"/>
<circle cx="410.5" cy="153.6" r="0.6"/>
<circle cx="442.6" cy="160.3" r="0.6"/>
<circle cx="455.7" cy="155.6" r="0.6"/>
<circle cx="424.0" cy="157.8" r="0.6"/>
<circle cx="419.7" cy="160.4" r="0.6"/>
<circle cx="408.6" cy="160.6" r="0.6"/>
<circle cx="441.5" cy="158.8" r="0.6"/>
<circle cx="452.1" cy="161.0" r="0.6"/>
<circle cx="414.7" cy="155.7" r="0.6"/>
<circle cx="449.9" cy="156.5" r="0.6"/>
<circle cx="441.5" cy="159.0" r="0.6"/>
<circle cx="469.7" cy="159.8" r="0.6"/>
<circle cx="437.5" cy="157.5" r="0.6"/>
<circle cx="449.7" cy="159.7" r="0.6"/>
<circle cx="438.8" cy="158.1" r="0.6"/>
<circle cx="407.4" cy="157.7" r="0.6"/>
<circle cx="439.5" cy="158.0" r="0.6"/>
<circle cx="454.3" cy="158.5" r="0.6"/>
<circle cx="417.3" cy="159.3" r="0.6"/>
<circle cx="417.5" cy="160.8" r="0.6"/>
<circle cx="439.2" cy="156.8" r="0.6"/>
<circle cx="470.6" cy="160.7" r="0.6"/>
<circle cx="419.5" cy="155.7" r="0.6"/>
<circle cx="449.9" cy="156.8" r="0.6"/>
<circle cx="462.8" cy="159.5" r="0.6"/>
<circle cx="461.2" cy="157.3" r="0.6"/>
<circle cx="475.1" cy="154.1" r="0.6"/>
<circle cx="417.8" cy="159.0" r="0.6"/>
<circle cx="455.9" cy="158.2" r="0.6"/>
<circle cx="419.1" cy="159.4" r="0.6"/>
<circle cx="401.6" cy="157.3" r="0.6"/>
<circle cx="393.9" cy="153.7" r="0.6"/>
<circle cx="438.4" cy="160.4" r="0.6"/>
<circle cx="471.9" cy="157.0" r="0.6"/>
<circle cx="454.0" cy="158.6" r="0.6"/>
<circle cx="421.3" cy="159.3" r="0.6"/>
<circle cx="456.5" cy="158.9" r="0.6"/>
<circle cx="447.5" cy="157.9" r="0.6"/>
<circle cx="415.0" cy="156.2" r="0.6"/>
<circle cx="442.9" cy="160.4" r="0.6"/>
<circle cx="471.5" cy="161.0" r="0.6"/>
<circle cx="461.0" cy="160.4" r="0.6"/>
<circle cx="419.7" cy="160.1" r="0.6"/>
<circle cx="447.8" cy="155.9" r="0.6"/>
<circle cx="401.5" cy="160.5" r="0.6"/>
<circle cx="479.3" cy="159.1" r="0.6"/>
<circle cx="415.3" cy="159.6" r="0.6"/>
<circle cx="464.1" cy="160.8" r="0.6"/>
<circle cx="460.8" cy="152.9" r="0.6"/>
<circle cx="423.0" cy="159.9" r="0.6"/>
<circle cx="478.4" cy="160.7" r="0.6"/>
<circle cx="470.5" cy="157.6" r="0.6"/>
<circle cx="446.8" cy="160.3" r="0.6"/>
<circle cx="462.9" cy="161.1" r="0.6"/>
<circle cx="427.6" cy="152.6" r="0.6"/>
<circle cx="457.7" cy="160.4" r="0.6"/>
<circle cx="409.7" cy="160.7" r="0.6"/>
<circle cx="414.7" cy="158.2" r="0.6"/>
<circle cx="438.2" cy="160.4" r="0.6"/>
<circle cx="438.6" cy="160.3" r="0.6"/>
<circle cx="463.4" cy="160.0" r="0.6"/>
<circle cx="417.5" cy="157.2" r="0.6"/>
<circle cx="416.7" cy="160.9" r="0.6"/>
<circle cx="410.5" cy="157.8" r="0.6"/>
<circle cx="474.0" cy="157.4" r="0.6"/>
<circle cx="415.4" cy="161.0" r="0.6"/>
<circle cx="397.5" cy="160.3" r="0.6"/>
<circle cx="400.1" cy="157.3" r="0.6"/>
<circle cx="402.4" cy="157.0" r="0.6"/>
<circle cx="440.3" cy="159.5" r="0.6"/>
<circle cx="435.7" cy="153.2" r="0.6"/>
<circle cx="419.8" cy="160.9" r="0.6"/>
<circle cx="454.0" cy="159.8" r="0.6"/>
<circle cx="417.3" cy="156.8" r="0.6"/>
<circle cx="445.2" cy="158.9" r="0.6"/>
<circle cx="444.6" cy="158.6" r="0.6"/>
<circle cx="409.6" cy="160.9" r="0.6"/>
<circle cx="447.1" cy="159.3" r="0.6"/>
<circle cx="422.1" cy="160.3" r="0.6"/>
<circle cx="432.5" cy="152.5" r="0.6"/>
<circle cx="449.5" cy="157.2" r="0.6"/>
<circle cx="455.2" cy="160.1" r="0.6"/>
<circle cx="417.5" cy="159.8" r="0.6"/>
<circle cx="413.7" cy="154.4" r="0.6"/>
<circle cx="442.6" cy="153.2" r="0.6"/>
<circle cx="465.1" cy="155.0" r="0.6"/>
<circle cx="411.6" cy="160.2" r="0.6"/>
<circle cx="446.5" cy="158.4" r="0.6"/>
<circle cx="417.1" cy="159.7" r="0.6"/>
<circle cx="432.2" cy="152.4" r="0.6"/>
<circle cx="442.5" cy="158.3" r="0.6"/>
<circle cx="473.6" cy="160.6" r="0.6"/>
<circle cx="465.1" cy="158.9" r="0.6"/>
<circle cx="420.0" cy="161.1" r="0.6"/>
<circle cx="425.7" cy="154.8" r="0.6"/>
<circle cx="448.0" cy="159.1" r="0.6"/>
<circle cx="417.8" cy="160.7" r="0.6"/>
<circle cx="445.5" cy="157.0" r="0.6"/>
<circle cx="442.8" cy="158.7" r="0.6"/>
<circle cx="404.6" cy="158.1" r="0.6"/>
<circle cx="414.6" cy="157.7" r="0.6"/>
<circle cx="443.2" cy="159.7" r="0.6"/>
<circle cx="420.4" cy="160.3" r="0.6"/>
<circle cx="443.7" cy="158.7" r="0.6"/>
<circle cx="441.5" cy="160.8" r="0.6"/>
<circle cx="469.3" cy="158.4" r="0.6"/>
<circle cx="418.1" cy="160.9" r="0.6"/>
<circle cx="418.3" cy="158.6" r="0.6"/>
<circle cx="410.3" cy="159.8" r="0.6"/>
<circle cx="439.9" cy="159.3" r="0.6"/>
<circle cx="468.5" cy="161.0" r="0.6"/>
<circle cx="461.0" cy="158.5" r="0.6"/>
<circle cx="419.5" cy="156.6" r="0.6"/>
<circle cx="384.0" cy="156.2" r="0.6"/>
<circle cx="472.5" cy="152.7" r="0.6"/>
<circle cx="402.8" cy="160.6" r="0.6"/>
<circle cx="416.4" cy="159.5" r="0.6"/>
<circle cx="402.1" cy="159.5" r="0.6"/>
<circle cx="410.3" cy="161.1" r="0.6"/>
<circle cx="457.4" cy="157.7" r="0.6"/>
<circle cx="460.9" cy="160.1" r="0.6"/>
<circle cx="449.9" cy="159.4" r="0.6"/>
<circle cx="422.8" cy="159.7" r="0.6"/>
<circle cx="420.7" cy="158.5" r="0.6"/>
<circle cx="451.4" cy="158.8" r="0.6"/>
<circle cx="456.2" cy="159.2" r="0.6"/>
<circle cx="460.5" cy="161.0" r="0.6"/>
<circle cx="421.1" cy="158.2" r="0.6"/>
<circle cx="400.1" cy="157.2" r="0.6"/>
<circle cx="445.0" cy="160.7" r="0.6"/>
<circle cx="448.6" cy="160.9" r="0.6"/>
<circle cx="434.8" cy="154.7" r="0.6"/>
<circle cx="447.2" cy="153.8" r="0.6"/>
<circle cx="443.7" cy="157.1" r="0.6"/>
<circle cx="403.5" cy="159.0" r="0.6"/>
<circle cx="470.9" cy="160.6" r="0.6"/>
<circle cx="441.2" cy="156.5" r="0.6"/>
<circle cx="405.3" cy="160.7" r="0.6"/>
<circle cx="439.2" cy="157.6" r="0.6"/>
<circle cx="456.8" cy="158.7" r="0.6"/>
<circle cx="444.6" cy="159.6" r="0.6"/>
<circle cx="410.9" cy="161.1" r="0.6"/>
<circle cx="448.7" cy="155.4" r="0.6"/>
<circle cx="452.5" cy="158.6" r="0.6"/>
<circle cx="455.5" cy="159.9" r="0.6"/>
<circle cx="395.8" cy="155.8" r="0.6"/>
<circle cx="421.4" cy="160.7" r="0.6"/>
<circle cx="437.6" cy="156.7" r="0.6"/>
<circle cx="453.5" cy="160.1" r="0.6"/>
<circle cx="464.1" cy="152.8" r="0.6"/>
<circle cx="443.7" cy="160.6" r="0.6"/>
<circle cx="409.5" cy="154.1" r="0.6"/>
<circle cx="400.1" cy="159.6" r="0.6"/>
<circle cx="480.6" cy="152.8" r="0.6"/>
<circle cx="438.1" cy="160.0" r="0.6"/>
<circle cx="437.2" cy="155.9" r="0.6"/>
<circle cx="463.9" cy="157.7" r="0.6"/>
<circle cx="418.7" cy="159.4" r="0.6"/>
<circle cx="438.1" cy="158.0" r="0.6"/>
<circle cx="425.2" cy="157.4" r="0.6"/>
<circle cx="446.4" cy="157.1" r="0.6"/>
<circle cx="451.8" cy="159.5" r="0.6"/>
<circle cx="436.5" cy="157.2" r="0.6"/>
<circle cx="463.9" cy="158.8" r="0.6"/>
<circle cx="459.8" cy="159.1" r="0.6"/>
<circle cx="419.0" cy="160.3" r="0.6"/>
<circle cx="473.2" cy="159.7" r="0.6"/>
<circle cx="418.3" cy="159.0" r="0.6"/>
<circle cx="409.1" cy="158.5" r="0.6"/>
<circle cx="416.6" cy="158.8" r="0.6"/>
<circle cx="449.8" cy="159.2" r="0.6"/>
<circle cx="400.5" cy="160.8" r="0.6"/>
<circle cx="439.6" cy="159.7" r="0.6"/>
<circle cx="447.4" cy="160.6" r="0.6"/>
<circle cx="422.4" cy="160.2" r="0.6"/>
<circle cx="406.9" cy="158.7" r="0.6"/>
<circle cx="414.6" cy="160.7" r="0.6"/>
<circle cx="449.9" cy="161.1" r="0.6"/>
<circle cx="467.5" cy="153.3" r="0.6"/>
<circle cx="416.0" cy="156.9" r="0.6"/>
<circle cx="459.2" cy="159.1" r="0.6"/>
<circle cx="450.3" cy="161.1" r="0.6"/>
<circle cx="416.5" cy="153.4" r="0.6"/>
<circle cx="438.0" cy="155.4" r="0.6"/>
<circle cx="403.8" cy="159.5" r="0.6"/>
<circle cx="448.1" cy="155.9" r="0.6"/>
<circle cx="444.3" cy="158.7" r="0.6"/>
<circle cx="417.4" cy="159.5" r="0.6"/>
<circle cx="448.7" cy="159.8" r="0.6"/>
<circle cx="436.3" cy="156.5" r="0.6"/>
<circle cx="465.0" cy="157.8" r="0.6"/>
<circle cx="449.6" cy="161.0" r="0.6"/>
<circle cx="447.3" cy="160.3" r="0.6"/>
<circle cx="405.5" cy="152.6" r="0.6"/>
<circle cx="469.5" cy="155.2" r="0.6"/>
<circle cx="442.4" cy="156.3" r="0.6"/>
<circle cx="446.4" cy="158.9" r="0.6"/>
<circle cx="448.6" cy="156.0" r="0.6"/>
<circle cx="416.6" cy="160.9" r="0.6"/>
<circle cx="416.8" cy="160.5" r="0.6"/>
<circle cx="422.4" cy="161.0" r="0.6"/>
<circle cx="450.8" cy="159.9" r="0.6"/>
<circle cx="446.5" cy="156.8" r="0.6"/>
<circle cx="439.9" cy="157.4" r="0.6"/>
<circle cx="452.0" cy="161.0" r="0.6"/>
<circle cx="409.2" cy="159.9" r="0.6"/>
<circle cx="421.2" cy="160.1" r="0.6"/>
<circle cx="420.7" cy="159.0" r="0.6"/>
<circle cx="456.3" cy="158.2" r="0.6"/>
<circle cx="443.1" cy="159.2" r="0.6"/>
<circle cx="439.3" cy="161.0" r="0.6"/>
<circle cx="444.6" cy="160.8" r="0.6"/>
<circle cx="444.7" cy="159.0" r="0.6"/>
<circle cx="456.0" cy="160.3" r="0.6"/>
<circle cx="421.3" cy="156.1" r="0.6"/>
<circle cx="453.5" cy="156.1" r="0.6"/>
<circle cx="397.3" cy="159.7" r="0.6"/>
<circle cx="442.5" cy="160.3" r="0.6"/>
<circle cx="428.4" cy="155.4" r="0.6"/>
<circle cx="439.5" cy="160.7" r="0.6"/>
<circle cx="440.5" cy="160.6" r="0.6"/>
<circle cx="408.4" cy="154.6" r="0.6"/>
<circle cx="431.8" cy="154.6" r="0.6"/>
<circle cx="447.4" cy="156.3" r="0.6"/>
<circle cx="427.1" cy="155.8" r="0.6"/>
<circle cx="442.7" cy="159.1" r="0.6"/>
<circle cx="449.3" cy="159.6" r="0.6"/>
<circle cx="451.6" cy="160.7" r="0.6"/>
<circle cx="417.9" cy="159.3" r="0.6"/>
<circle cx="448.0" cy="160.1" r="0.6"/>
<circle cx="449.2" cy="158.1" r="0.6"/>
<circle cx="400.0" cy="160.9" r="0.6"/>
<circle cx="404.3" cy="160.3" r="0.6"/>
<circle cx="458.9" cy="154.6" r="0.6"/>
<circle cx="467.1" cy="160.7" r="0.6"/>
<circle cx="395.2" cy="160.8" r="0.6"/>
<circle cx="403.9" cy="160.8" r="0.6"/>
<circle cx="450.2" cy="161.0" r="0.6"/>
<circle cx="410.2" cy="155.3" r="0.6"/>
<circle cx="413.7" cy="155.0" r="0.6"/>
<circle cx="449.3" cy="160.4" r="0.6"/>
<circle cx="460.6" cy="157.3" r="0.6"/>
<circle cx="445.4" cy="157.7" r="0.6"/>
<circle cx="424.6" cy="158.7" r="0.6"/>
<circle cx="450.2" cy="158.1" r="0.6"/>
<circle cx="449.1" cy="156.3" r="0.6"/>
<circle cx="470.7" cy="159.3" r="0.6"/>
<circle cx="448.8" cy="159.8" r="0.6"/>
<circle cx="463.7" cy="156.7" r="0.6"/>
<circle cx="447.3" cy="158.9" r="0.6"/>
<circle cx="396.2" cy="158.5" r="0.6"/>
<circle cx="421.0" cy="160.2" r="0.6"/>
<circle cx="445.1" cy="158.8" r="0.6"/>
<circle cx="442.8" cy="155.7" r="0.6"/>
<circle cx="423.9" cy="160.2" r="0.6"/>
<circle cx="441.3" cy="159.4" r="0.6"/>
<circle cx="411.0" cy="152.6" r="0.6"/>
<circle cx="398.9" cy="160.0" r="0.6"/>
<circle cx="444.1" cy="160.6" r="0.6"/>
<circle cx="435.4" cy="155.7" r="0.6"/>
<circle cx="439.6" cy="152.9" r="0.6"/>
<circle cx="443.1" cy="160.2" r="0.6"/>
<circle cx="453.6" cy="159.5" r="0.6"/>
<circle cx="418.0" cy="160.7" r="0.6"/>
<circle cx="411.0" cy="157.4" r="0.6"/>
<circle cx="415.7" cy="159.1" r="0.6"/>
<circle cx="420.7" cy="152.6" r="0.6"/>
<circle cx="453.2" cy="160.0" r="0.6"/>
<circle cx="454.7" cy="161.1" r="0.6"/>
<circle cx="439.1" cy="158.8" r="0.6"/>
<circle cx="418.9" cy="159.1" r="0.6"/>
<circle cx="441.4" cy="160.9" r="0.6"/>
<circle cx="416.0" cy="158.9" r="0.6"/>
<circle cx="416.6" cy="158.0" r="0.6"/>
<circle cx="448.4" cy="161.1" r="0.6"/>
<circle cx="454.0" cy="153.5" r="0.6"/>
<circle cx="440.5" cy="159.9" r="0.6"/>
<circle cx="441.4" cy="158.5" r="0.6"/>
<circle cx="443.9" cy="159.6" r="0.6"/>
<circle cx="436.6" cy="157.5" r="0.6"/>
<circle cx="413.3" cy="158.1" r="0.6"/>
<circle cx="424.3" cy="155.1" r="0.6"/>
<circle cx="443.8" cy="160.9" r="0.6"/>
<circle cx="444.3" cy="154.5" r="0.6"/>
<circle cx="462.9" cy="158.8" r="0.6"/>
<circle cx="441.5" cy="160.8" r="0.6"/>
<circle cx="421.7" cy="159.6" r="0.6"/>
<circle cx="418.2" cy="160.8" r="0.6"/>
<circle cx="437.9" cy="156.4" r="0.6"/>
<circle cx="421.9" cy="160.1" r="0.6"/>
<circle cx="423.0" cy="160.8" r="0.6"/>
<circle cx="429.3" cy="155.2" r="0.6"/>
<circle cx="420.8" cy="159.3" r="0.6"/>
<circle cx="445.8" cy="160.3" r="0.6"/>
<circle cx="424.0" cy="160.0" r="0.6"/>
<circle cx="452.5" cy="160.1" r="0.6"/>
<circle cx="425.1" cy="154.1" r="0.6"/>
<circle cx="437.0" cy="155.8" r="0.6"/>
<circle cx="445.5" cy="159.8" r="0.6"/>
<circle cx="414.1" cy="158.1" r="0.6"/>
<circle cx="443.8" cy="159.6" r="0.6"/>
<circle cx="456.1" cy="159.6" r="0.6"/>
<circle cx="457.1" cy="159.6" r="0.6"/>
<circle cx="438.2" cy="160.7" r="0.6"/>
<circle cx="407.8" cy="161.0" r="0.6"/>
<circle cx="410.8" cy="158.2" r="0.6"/>
<circle cx="450.7" cy="158.4" r="0.6"/>
<circle cx="415.7" cy="158.0" r="0.6"/>
<circle cx="456.2" cy="158.0" r="0.6"/>
<circle cx="455.1" cy="159.9" r="0.6"/>
<circle cx="405.5" cy="160.6" r="0.6"/>
<circle cx="413.3" cy="157.0" r="0.6"/>
<circle cx="453.5" cy="157.7" r="0.6"/>
<circle cx="463.5" cy="160.9" r="0.6"/>
<circle cx="455.8" cy="157.5" r="0.6"/>
<circle cx="427.6" cy="155.3" r="0.6"/>
<circle cx="441.6" cy="159.8" r="0.6"/>
<circle cx="441.3" cy="157.0" r="0.6"/>
<circle cx="440.9" cy="158.0" r="0.6"/>
<circle cx="475.0" cy="158.9" r="0.6"/>
<circle cx="439.7" cy="158.5" r="0.6"/>
<circle cx="450.5" cy="157.3" r="0.6"/>
<circle cx="428.8" cy="154.8" r="0.6"/>
<circle cx="446.3" cy="153.5" r="0.6"/>
<circle cx="408.7" cy="158.7" r="0.6"/>
<circle cx="424.6" cy="158.5" r="0.6"/>
<circle cx="402.5" cy="158.0" r="0.6"/>
<circle cx="477.1" cy="160.7" r="0.6"/>
<circle cx="430.1" cy="153.9" r="0.6"/>
<circle cx="426.4" cy="154.0" r="0.6"/>
<circle cx="469.0" cy="159.5" r="0.6"/>
<circle cx="474.5" cy="160.3" r="0.6"/>
<circle cx="404.8" cy="159.8" r="0.6"/>
<circle cx="400.8" cy="159.9" r="0.6"/>
<circle cx="440.6" cy="159.2" r="0.6"/>
<circle cx="414.3" cy="160.1" r="0.6"/>
<circle cx="447.1" cy="160.0" r="0.6"/>
<circle cx="403.1" cy="160.5" r="0.6"/>
<circle cx="419.9" cy="155.3" r="0.6"/>
<circle cx="446.0" cy="161.0" r="0.6"/>
<circle cx="438.2" cy="157.6" r="0.6"/>
<circle cx="414.2" cy="159.4" r="0.6"/>
<circle cx="443.1" cy="157.3" r="0.6"/>
<circle cx="438.0" cy="160.6" r="0.6"/>
<circle cx="417.2" cy="160.4" r="0.6"/>
<circle cx="459.8" cy="154.0" r="0.6"/>
<circle cx="449.0" cy="160.3" r="0.6"/>
<circle cx="441.4" cy="159.5" r="0.6"/>
<circle cx="417.0" cy="156.3" r="0.6"/>
<circle cx="419.9" cy="159.9" r="0.6"/>
<circle cx="438.4" cy="154.4" r="0.6"/>
<circle cx="443.3" cy="159.2" r="0.6"/>
<circle cx="444.8" cy="159.5" r="0.6"/>
<circle cx="442.8" cy="161.0" r="0.6"/>
<circle cx="449.3" cy="160.5" r="0.6"/>
<circle cx="464.8" cy="160.9" r="0.6"/>
<circle cx="437.4" cy="155.7" r="0.6"/>
<circle cx="444.5" cy="156.7" r="0.6"/>
<circle cx="470.0" cy="158.9" r="0.6"/>
<circle cx="409.2" cy="154.9" r="0.6"/>
<circle cx="446.6" cy="160.1" r="0.6"/>
<circle cx="438.3" cy="158.8" r="0.6"/>
<circle cx="413.8" cy="158.8" r="0.6"/>
<circle cx="419.8" cy="160.0" r="0.6"/>
<circle cx="450.7" cy="160.1" r="0.6"/>
<circle cx="422.9" cy="155.3" r="0.6"/>
<circle cx="447.0" cy="153.5" r="0.6"/>
<circle cx="456.1" cy="157.7" r="0.6"/>
<circle cx="423.1" cy="155.2" r="0.6"/>
<circle cx="447.4" cy="159.5" r="0.6"/>
<circle cx="445.1" cy="155.9" r="0.6"/>
<circle cx="418.3" cy="154.4" r="0.6"/>
<circle cx="468.4" cy="156.7" r="0.6"/>
<circle cx="438.0" cy="160.1" r="0.6"/>
<circle cx="436.9" cy="156.1" r="0.6"/>
<circle cx="438.6" cy="157.5" r="0.6"/>
<circle cx="402.5" cy="158.7" r="0.6"/>
<circle cx="400.0" cy="157.1" r="0.6"/>
<circle cx="441.0" cy="160.9" r="0.6"/>
<circle cx="405.0" cy="161.1" r="0.6"/>
<circle cx="445.7" cy="154.8" r="0.6"/>
<circle cx="469.0" cy="157.5" r="0.6"/>
<circle cx="399.3" cy="160.0" r="0.6"/>
<circle cx="448.3" cy="160.8" r="0.6"/>
<circle cx="417.0" cy="157.4" r="0.6"/>
<circle cx="454.7" cy="159.5" r="0.6"/>
<circle cx="438.0" cy="156.9" r="0.6"/>
<circle cx="427.1" cy="152.8" r="0.6"/>
<circle cx="413.5" cy="158.4" r="0.6"/>
<circle cx="447.8" cy="159.4" r="0.6"/>
<circle cx="438.3" cy="157.8" r="0.6"/>
<circle cx="415.5" cy="157.2" r="0.6"/>
<circle cx="430.0" cy="154.6" r="0.6"/>
<circle cx="443.2" cy="154.3" r="0.6"/>
<circle cx="440.4" cy="159.0" r="0.6"/>
<circle cx="410.1" cy="157.9" r="0.6"/>
<circle cx="411.3" cy="160.6" r="0.6"/>
<circle cx="459.9" cy="159.9" r="0.6"/>
<circle cx="415.0" cy="158.8" r="0.6"/>
<circle cx="409.2" cy="159.2" r="0.6"/>
<circle cx="438.9" cy="160.2" r="0.6"/>
<circle cx="409.6" cy="158.9" r="0.6"/>
<circle cx="400.5" cy="155.7" r="0.6"/>
<circle cx="468.9" cy="155.3" r="0.6"/>
<circle cx="411.8" cy="157.6" r="0.6"/>
<circle cx="436.5" cy="156.6" r="0.6"/>
<circle cx="459.7" cy="157.2" r="0.6"/>
<circle cx="411.0" cy="153.6" r="0.6"/>
<circle cx="426.6" cy="152.7" r="0.6"/>
<circle cx="403.6" cy="160.9" r="0.6"/>
<circle cx="457.0" cy="157.9" r="0.6"/>
<circle cx="439.5" cy="154.3" r="0.6"/>
<circle cx="469.6" cy="154.9" r="0.6"/>
<circle cx="404.2" cy="158.7" r="0.6"/>
<circle cx="430.4" cy="154.5" r="0.6"/>
<circle cx="464.1" cy="157.8" r="0.6"/>
<circle cx="415.8" cy="158.6" r="0.6"/>
<circle cx="446.8" cy="159.6" r="0.6"/>
<circle cx="477.6" cy="160.8" r="0.6"/>
<circle cx="417.9" cy="160.5" r="0.6"/>
<circle cx="449.5" cy="159.8" r="0.6"/>
<circle cx="420.3" cy="161.1" r="0.6"/>
<circle cx="423.4" cy="157.6" r="0.6"/>
<circle cx="443.4" cy="156.4" r="0.6"/>
<circle cx="437.9" cy="156.8" r="0.6"/>
<circle cx="444.4" cy="157.1" r="0.6"/>
<circle cx="393.5" cy="154.3" r="0.6"/>
<circle cx="465.8" cy="158.9" r="0.6"/>
<circle cx="437.4" cy="157.2" r="0.6"/>
<circle cx="411.2" cy="159.2" r="0.6"/>
<circle cx="419.8" cy="155.4" r="0.6"/>
<circle cx="448.2" cy="156.7" r="0.6"/>
<circle cx="477.8" cy="160.6" r="0.6"/>
<circle cx="420.8" cy="160.6" r="0.6"/>
<circle cx="445.9" cy="153.3" r="0.6"/>
<circle cx="411.6" cy="160.2" r="0.6"/>
<circle cx="402.3" cy="152.8" r="0.6"/>
<circle cx="438.0" cy="159.9" r="0.6"/>
<circle cx="419.2" cy="158.1" r="0.6"/>
<circle cx="408.5" cy="159.8" r="0.6"/>
<circle cx="473.6" cy="160.1" r="0.6"/>
<circle cx="452.4" cy="160.4" r="0.6"/>
<circle cx="421.7" cy="158.7" r="0.6"/>
<circle cx="437.9" cy="160.0" r="0.6"/>
<circle cx="435.2" cy="156.6" r="0.6"/>
<circle cx="449.0" cy="158.5" r="0.6"/>
<circle cx="420.0" cy="159.9" r="0.6"/>
<circle cx="453.1" cy="160.2" r="0.6"/>
<circle cx="414.7" cy="159.6" r="0.6"/>
<circle cx="423.8" cy="153.2" r="0.6"/>
<circle cx="449.1" cy="159.9" r="0.6"/>
<circle cx="463.1" cy="160.8" r="0.6"/>
<circle cx="444.8" cy="159.9" r="0.6"/>
<circle cx="406.4" cy="161.0" r="0.6"/>
<circle cx="412.4" cy="160.5" r="0.6"/>
<circle cx="409.2" cy="159.6" r="0.6"/>
<circle cx="404.5" cy="158.1" r="0.6"/>
<circle cx="472.2" cy="159.7" r="0.6"/>
<circle cx="402.4" cy="160.3" r="0.6"/>
<circle cx="413.2" cy="158.8" r="0.6"/>
<circle cx="422.8" cy="157.7" r="0.6"/>
<circle cx="397.9" cy="158.3" r="0.6"/>
<circle cx="448.7" cy="158.3" r="0.6"/>
<circle cx="444.5" cy="154.9" r="0.6"/>
<circle cx="417.8" cy="160.4" r="0.6"/>
<circle cx="422.7" cy="157.9" r="0.6"/>
<circle cx="447.7" cy="159.2" r="0.6"/>
<circle cx="451.5" cy="160.8" r="0.6"/>
<circle cx="436.3" cy="157.4" r="0.6"/>
<circle cx="410.6" cy="157.1" r="0.6"/>
<circle cx="451.7" cy="157.3" r="0.6"/>
<circle cx="442.1" cy="160.5" r="0.6"/>
<circle cx="438.6" cy="159.5" r="0.6"/>
<circle cx="404.2" cy="160.7" r="0.6"/>
<circle cx="434.4" cy="155.0" r="0.6"/>
<circle cx="466.8" cy="160.3" r="0.6"/>
<circle cx="415.6" cy="155.1" r="0.6"/>
<circle cx="415.7" cy="161.0" r="0.6"/>
<circle cx="419.1" cy="161.0" r="0.6"/>
<circle cx="461.5" cy="157.1" r="0.6"/>
<circle cx="447.4" cy="156.6" r="0.6"/>
<circle cx="460.5" cy="159.9" r="0.6"/>
<circle cx="400.7" cy="160.9" r="0.6"/>
<circle cx="438.6" cy="159.5" r="0.6"/>
<circle cx="427.1" cy="153.4" r="0.6"/>
<circle cx="474.1" cy="154.9" r="0.6"/>
<circle cx="463.0" cy="160.1" r="0.6"/>
<circle cx="434.6" cy="152.7" r="0.6"/>
<circle cx="462.6" cy="159.0" r="0.6"/>
<circle cx="410.8" cy="158.7" r="0.6"/>
<circle cx="440.1" cy="159.2" r="0.6"/>
<circle cx="461.5" cy="154.7" r="0.6"/>
<circle cx="421.3" cy="160.1" r="0.6"/>
<circle cx="417.8" cy="159.5" r="0.6"/>
<circle cx="414.0" cy="157.2" r="0.6"/>
<circle cx="447.3" cy="157.4" r="0.6"/>
<circle cx="448.9" cy="160.3" r="0.6"/>
<circle cx="422.9" cy="158.1" r="0.6"/>
<circle cx="461.1" cy="152.8" r="0.6"/>
<circle cx="460.8" cy="159.7" r="0.6"/>
<circle cx="443.1" cy="161.0" r="0.6"/>
<circle cx="448.7" cy="155.4" r="0.6"/>
<circle cx="457.6" cy="158.5" r="0.6"/>
<circle cx="438.9" cy="158.1" r="0.6"/>
<circle cx="451.2" cy="160.5" r="0.6"/>
<circle cx="438.7" cy="159.6" r="0.6"/>
<circle cx="437.7" cy="160.7" r="0.6"/>
<circle cx="464.2" cy="156.7" r="0.6"/>
<circle cx="444.4" cy="160.0" r="0.6"/>
<circle cx="450.7" cy="156.9" r="0.6"/>
<circle cx="407.0" cy="155.5" r="0.6"/>
<circle cx="478.0" cy="160.9" r="0.6"/>
<circle cx="452.8" cy="160.8" r="0.6"/>
<circle cx="440.8" cy="153.0" r="0.6"/>
<circle cx="440.4" cy="158.0" r="0.6"/>
<circle cx="451.0" cy="156.3" r="0.6"/>
<circle cx="444.0" cy="158.6" r="0.6"/>
<circle cx="413.1" cy="154.1" r="0.6"/>
<circle cx="415.4" cy="159.2" r="0.6"/>
<circle cx="454.9" cy="160.5" r="0.6"/>
<circle cx="442.2" cy="157.1" r="0.6"/>
<circle cx="441.3" cy="158.3" r="0.6"/>
<circle cx="421.4" cy="160.4" r="0.6"/>
<circle cx="460.0" cy="159.2" r="0.6"/>
<circle cx="463.7" cy="156.6" r="0.6"/>
<circle cx="424.9" cy="156.3" r="0.6"/>
<circle cx="418.7" cy="159.3" r="0.6"/>
<circle cx="436.6" cy="153.9" r="0.6"/>
<circle cx="415.4" cy="154.8" r="0.6"/>
<circle cx="470.3" cy="160.7" r="0.6"/>
<circle cx="419.5" cy="158.3" r="0.6"/>
<circle cx="446.8" cy="160.1" r="0.6"/>
<circle cx="435.2" cy="154.9" r="0.6"/>
<circle cx="436.5" cy="153.7" r="0.6"/>
<circle cx="443.7" cy="158.9" r="0.6"/>
<circle cx="409.2" cy="154.6" r="0.6"/>
<circle cx="428.0" cy="155.1" r="0.6"/>
<circle cx="412.6" cy="160.5" r="0.6"/>
<circle cx="406.8" cy="155.2" r="0.6"/>
<circle cx="455.0" cy="160.5" r="0.6"/>
<circle cx="412.6" cy="159.0" r="0.6"/>
<circle cx="466.9" cy="160.5" r="0.6"/>
<circle cx="415.0" cy="160.5" r="0.6"/>
<circle cx="438.7" cy="152.5" r="0.6"/>
<circle cx="452.6" cy="160.3" r="0.6"/>
<circle cx="444.5" cy="157.4" r="0.6"/>
<circle cx="398.6" cy="161.0" r="0.6"/>
<circle cx="451.5" cy="160.7" r="0.6"/>
<circle cx="448.8" cy="159.7" r="0.6"/>
<circle cx="427.5" cy="152.9" r="0.6"/>
<circle cx="413.0" cy="159.1" r="0.6"/>
<circle cx="390.9" cy="155.3" r="0.6"/>
<circle cx="455.0" cy="153.6" r="0.6"/>
<circle cx="443.6" cy="158.5" r="0.6"/>
<circle cx="448.2" cy="160.6" r="0.6"/>
<circle cx="405.1" cy="158.8" r="0.6"/>
<circle cx="440.9" cy="152.8" r="0.6"/>
<circle cx="440.7" cy="158.5" r="0.6"/>
<circle cx="440.3" cy="155.2" r="0.6"/>
<circle cx="447.5" cy="160.7" r="0.6"/>
<circle cx="410.7" cy="159.3" r="0.6"/>
<circle cx="443.4" cy="160.6" r="0.6"/>
<circle cx="448.2" cy="159.5" r="0.6"/>
<circle cx="412.4" cy="156.3" r="0.6"/>
<circle cx="400.0" cy="160.9" r="0.6"/>
<circle cx="450.8" cy="157.1" r="0.6"/>
<circle cx="459.1" cy="158.4" r="0.6"/>
<circle cx="442.1" cy="160.9" r="0.6"/>
<circle cx="449.0" cy="155.5" r="0.6"/>
<circle cx="421.5" cy="159.6" r="0.6"/>
<circle cx="418.7" cy="157.4" r="0.6"/>
<circle cx="419.5" cy="159.9" r="0.6"/>
<circle cx="449.0" cy="161.0" r="0.6"/>
<circle cx="423.3" cy="159.5" r="0.6"/>
<circle cx="463.4" cy="154.6" r="0.6"/>
<circle cx="461.2" cy="156.9" r="0.6"/>
<circle cx="441.5" cy="154.2" r="0.6"/>
<circle cx="423.9" cy="157.2" r="0.6"/>
<circle cx="404.6" cy="160.5" r="0.6"/>
<circle cx="469.7" cy="160.6" r="0.6"/>
<circle cx="461.6" cy="160.9" r="0.6"/>
<circle cx="419.5" cy="158.2" r="0.6"/>
<circle cx="463.2" cy="160.1" r="0.6"/>
<circle cx="439.4" cy="158.6" r="0.6"/>
<circle cx="449.0" cy="159.1" r="0.6"/>
<circle cx="414.2" cy="159.6" r="0.6"/>
<circle cx="406.5" cy="159.4" r="0.6"/>
<circle cx="444.9" cy="160.7" r="0.6"/>
<circle cx="450.4" cy="159.4" r="0.6"/>
<circle cx="422.8" cy="160.4" r="0.6"/>
<circle cx="438.3" cy="153.7" r="0.6"/>
<circle cx="437.0" cy="156.3" r="0.6"/>
<circle cx="450.7" cy="156.2" r="0.6"/>
<circle cx="456.0" cy="155.8" r="0.6"/>
<circle cx="446.4" cy="159.8" r="0.6"/>
<circle cx="412.3" cy="158.9" r="0.6"/>
<circle cx="418.4" cy="159.6" r="0.6"/>
<circle cx="456.1" cy="156.5" r="0.6"/>
<circle cx="408.6" cy="159.7" r="0.6"/>
<circle cx="402.4" cy="157.4" r="0.6"/>
<circle cx="424.5" cy="158.6" r="0.6"/>
<circle cx="403.3" cy="161.0" r="0.6"/>
<circle cx="440.4" cy="159.5" r="0.6"/>
<circle cx="407.8" cy="158.6" r="0.6"/>
<circle cx="407.8" cy="159.3" r="0.6"/>
<circle cx="422.1" cy="153.9" r="0.6"/>
<circle cx="412.7" cy="159.9" r="0.6"/>
<circle cx="414.7" cy="158.9" r="0.6"/>
<circle cx="446.7" cy="158.0" r="0.6"/>
<circle cx="455.3" cy="155.7" r="0.6"/>
<circle cx="444.3" cy="160.1" r="0.6"/>
<circle cx="426.8" cy="155.8" r="0.6"/>
<circle cx="427.6" cy="153.9" r="0.6"/>
<circle cx="407.9" cy="158.8" r="0.6"/>
<circle cx="443.8" cy="155.7" r="0.6"/>
<circle cx="421.6" cy="160.7" r="0.6"/>
<circle cx="451.6" cy="154.6" r="0.6"/>
<circle cx="413.0" cy="159.3" r="0.6"/>
<circle cx="420.5" cy="161.0" r="0.6"/>
<circle cx="421.0" cy="157.4" r="0.6"/>
<circle cx="416.4" cy="155.6" r="0.6"/>
<circle cx="437.2" cy="158.5" r="0.6"/>
<circle cx="455.9" cy="159.6" r="0.6"/>
<circle cx="462.2" cy="160.4" r="0.6"/>
<circle cx="439.7" cy="161.0" r="0.6"/>
<circle cx="421.0" cy="159.3" r="0.6"/>
<circle cx="447.9" cy="158.6" r="0.6"/>
<circle cx="420.8" cy="157.1" r="0.6"/>
<circle cx="449.4" cy="158.4" r="0.6"/>
<circle cx="419.2" cy="159.5" r="0.6"/>
<circle cx="410.0" cy="159.4" r="0.6"/>
<circle cx="469.5" cy="157.2" r="0.6"/>
<circle cx="445.2" cy="160.6" r="0.6"/>
<circle cx="437.5" cy="157.6" r="0.6"/>
<circle cx="437.7" cy="159.5" r="0.6"/>
<circle cx="459.9" cy="156.8" r="0.6"/>
<circle cx="418.9" cy="158.1" r="0.6"/>
<circle cx="441.9" cy="160.5" r="0.6"/>
<circle cx="456.8" cy="157.2" r="0.6"/>
<circle cx="404.5" cy="156.7" r="0.6"/>
<circle cx="406.4" cy="161.1" r="0.6"/>
<circle cx="417.7" cy="157.8" r="0.6"/>
<circle cx="456.7" cy="159.1" r="0.6"/>
<circle cx="434.3" cy="155.9" r="0.6"/>
<circle cx="459.4" cy="154.3" r="0.6"/>
<circle cx="456.2" cy="156.2" r="0.6"/>
<circle cx="447.3" cy="157.1" r="0.6"/>
<circle cx="437.1" cy="155.4" r="0.6"/>
<circle cx="413.3" cy="159.9" r="0.6"/>
<circle cx="462.5" cy="158.7" r="0.6"/>
<circle cx="423.7" cy="160.4" r="0.6"/>
<circle cx="398.5" cy="156.9" r="0.6"/>
<circle cx="443.1" cy="159.1" r="0.6"/>
<circle cx="441.1" cy="156.1" r="0.6"/>
<circle cx="419.7" cy="160.9" r="0.6"/>
<circle cx="453.9" cy="158.7" r="0.6"/>
<circle cx="440.8" cy="160.9" r="0.6"/>
<circle cx="418.7" cy="158.0" r="0.6"/>
<circle cx="456.4" cy="158.9" r="0.6"/>
<circle cx="423.6" cy="160.2" r="0.6"/>
<circle cx="422.5" cy="159.6" r="0.6"/>
<circle cx="443.3" cy="158.6" r="0.6"/>
<circle cx="415.7" cy="159.3" r="0.6"/>
<circle cx="453.0" cy="157.0" r="0.6"/>
<circle cx="448.9" cy="157.5" r="0.6"/>
<circle cx="456.3" cy="160.2" r="0.6"/>
<circle cx="427.5" cy="155.5" r="0.6"/>
<circle cx="427.5" cy="154.9" r="0.6"/>
<circle cx="477.6" cy="161.0" r="0.6"/>
<circle cx="441.5" cy="158.1" r="0.6"/>
<circle cx="467.0" cy="159.9" r="0.6"/>
<circle cx="435.5" cy="156.7" r="0.6"/>
<circle cx="420.4" cy="160.4" r="0.6"/>
<circle cx="415.5" cy="156.1" r="0.6"/>
<circle cx="420.1" cy="153.1" r="0.6"/>
<circle cx="444.0" cy="159.6" r="0.6"/>
<circle cx="457.2" cy="158.8" r="0.6"/>
<circle cx="418.0" cy="159.8" r="0.6"/>
<circle cx="415.5" cy="158.4" r="0.6"/>
<circle cx="448.1" cy="160.7" r="0.6"/>
<circle cx="414.3" cy="161.1" r="0.6"/>
<circle cx="450.8" cy="160.0" r="0.6"/>
<circle cx="404.6" cy="159.3" r="0.6"/>
<circle cx="444.0" cy="156.9" r="0.6"/>
<circle cx="415.7" cy="159.6" r="0.6"/>
<circle cx="418.5" cy="158.6" r="0.6"/>
<circle cx="451.6" cy="160.7" r="0.6"/>
<circle cx="450.4" cy="158.6" r="0.6"/>
<circle cx="412.3" cy="160.3" r="0.6"/>
<circle cx="410.1" cy="160.5" r="0.6"/>
<circle cx="420.2" cy="158.5" r="0.6"/>
<circle cx="469.2" cy="159.4" r="0.6"/>
<circle cx="386.5" cy="155.2" r="0.6"/>
<circle cx="442.1" cy="161.0" r="0.6"/>
<circle cx="419.2" cy="160.7" r="0.6"/>
<circle cx="450.0" cy="160.9" r="0.6"/>
<circle cx="441.7" cy="159.9" r="0.6"/>
<circle cx="451.6" cy="155.9" r="0.6"/>
<circle cx="417.9" cy="160.5" r="0.6"/>
<circle cx="450.8" cy="157.4" r="0.6"/>
<circle cx="425.3" cy="152.6" r="0.6"/>
<circle cx="411.7" cy="160.1" r="0.6"/>
<circle cx="421.9" cy="158.5" r="0.6"/>
<circle cx="464.1" cy="159.4" r="0.6"/>
<circle cx="422.5" cy="160.7" r="0.6"/>
<circle cx="441.8" cy="159.3" r="0.6"/>
<circle cx="449.7" cy="159.6" r="0.6"/>
<circle cx="421.6" cy="160.3" r="0.6"/>
<circle cx="437.5" cy="159.7" r="0.6"/>
<circle cx="450.1" cy="157.0" r="0.6"/>
<circle cx="414.9" cy="158.8" r="0.6"/>
<circle cx="416.7" cy="159.5" r="0.6"/>
<circle cx="438.7" cy="155.4" r="0.6"/>
<circle cx="444.7" cy="159.2" r="0.6"/>
<circle cx="414.7" cy="159.6" r="0.6"/>
<circle cx="421.1" cy="157.9" r="0.6"/>
<circle cx="443.1" cy="161.0" r="0.6"/>
<circle cx="422.5" cy="160.0" r="0.6"/>
<circle cx="448.8" cy="155.5" r="0.6"/>
<circle cx="463.8" cy="158.3" r="0.6"/>
<circle cx="421.8" cy="158.1" r="0.6"/>
<circle cx="447.2" cy="155.6" r="0.6"/>
<circle cx="439.9" cy="158.0" r="0.6"/>
<circle cx="414.4" cy="160.7" r="0.6"/>
<circle cx="398.2" cy="160.9" r="0.6"/>
<circle cx="433.1" cy="153.3" r="0.6"/>
<circle cx="414.5" cy="160.6" r="0.6"/>
<circle cx="445.4" cy="159.7" r="0.6"/>
<circle cx="452.4" cy="156.8" r="0.6"/>
<circle cx="458.3" cy="159.7" r="0.6"/>
<circle cx="460.5" cy="157.6" r="0.6"/>
<circle cx="452.5" cy="156.9" r="0.6"/>
<circle cx="412.0" cy="153.5" r="0.6"/>
<circle cx="393.4" cy="157.8" r="0.6"/>
<circle cx="404.3" cy="159.9" r="0.6"/>
<circle cx="435.7" cy="154.0" r="0.6"/>
<circle cx="446.6" cy="157.5" r="0.6"/>
<circle cx="438.6" cy="156.0" r="0.6"/>
<circle cx="444.3" cy="159.2" r="0.6"/>
<circle cx="435.4" cy="154.0" r="0.6"/>
<circle cx="423.1" cy="160.2" r="0.6"/>
<circle cx="444.4" cy="159.0" r="0.6"/>
<circle cx="440.0" cy="157.5" r="0.6"/>
<circle cx="439.9" cy="159.2" r="0.6"/>
<circle cx="411.7" cy="158.2" r="0.6"/>
<circle cx="471.1" cy="158.3" r="0.6"/>
<circle cx="441.2" cy="160.5" r="0.6"/>
<circle cx="451.4" cy="159.3" r="0.6"/>
<circle cx="447.8" cy="155.5" r="0.6"/>
<circle cx="476.3" cy="160.9" r="0.6"/>
<circle cx="455.7" cy="161.1" r="0.6"/>
<circle cx="403.7" cy="159.6" r="0.6"/>
<circle cx="425.9" cy="155.8" r="0.6"/>
<circle cx="421.3" cy="159.9" r="0.6"/>
<circle cx="444.1" cy="158.9" r="0.6"/>
<circle cx="468.5" cy="157.4" r="0.6"/>
<circle cx="433.8" cy="152.7" r="0.6"/>
<circle cx="474.4" cy="159.3" r="0.6"/>
<circle cx="405.6" cy="154.4" r="0.6"/>
<circle cx="419.2" cy="159.8" r="0.6"/>
<circle cx="421.7" cy="157.9" r="0.6"/>
<circle cx="423.6" cy="158.6" r="0.6"/>
<circle cx="446.1" cy="161.1" r="0.6"/>
<circle cx="454.3" cy="159.6" r="0.6"/>
<circle cx="400.8" cy="158.3" r="0.6"/>
<circle cx="404.5" cy="160.7" r="0.6"/>
<circle cx="423.5" cy="159.1" r="0.6"/>
<circle cx="417.5" cy="159.1" r="0.6"/>
<circle cx="419.5" cy="158.4" r="0.6"/>
<circle cx="440.5" cy="160.4" r="0.6"/>
<circle cx="446.7" cy="159.1" r="0.6"/>
<circle cx="461.4" cy="160.5" r="0.6"/>
<circle cx="441.3" cy="159.8" r="0.6"/>
<circle cx="455.5" cy="156.0" r="0.6"/>
<circle cx="479.1" cy="159.1" r="0.6"/>
<circle cx="423.2" cy="157.2" r="0.6"/>
<circle cx="437.8" cy="156.1" r="0.6"/>
<circle cx="437.6" cy="159.8" r="0.6"/>
<circle cx="439.8" cy="159.9" r="0.6"/>
<circle cx="460.6" cy="158.8" r="0.6"/>
<circle cx="422.1" cy="160.2" r="0.6"/>
<circle cx="433.7" cy="153.1" r="0.6"/>
<circle cx="417.8" cy="160.2" r="0.6"/>
<circle cx="434.4" cy="154.7" r="0.6"/>
<circle cx="407.9" cy="160.2" r="0.6"/>
<circle cx="450.8" cy="159.7" r="0.6"/>
<circle cx="466.5" cy="159.8" r="0.6"/>
<circle cx="451.6" cy="160.2" r="0.6"/>
<circle cx="443.4" cy="154.5" r="0.6"/>
<circle cx="454.7" cy="160.6" r="0.6"/>
<circle cx="439.7" cy="159.7" r="0.6"/>
<circle cx="442.9" cy="160.6" r="0.6"/>
<circle cx="443.0" cy="161.0" r="0.6"/>
<circle cx="452.0" cy="160.3" r="0.6"/>
<circle cx="462.2" cy="157.2" r="0.6"/>
<circle cx="469.3" cy="161.0" r="0.6"/>
<circle cx="452.7" cy="160.8" r="0.6"/>
<circle cx="451.2" cy="159.0" r="0.6"/>
<circle cx="405.5" cy="161.0" r="0.6"/>
<circle cx="413.8" cy="159.8" r="0.6"/>
<circle cx="439.9" cy="160.4" r="0.6"/>
<circle cx="394.5" cy="157.2" r="0.6"/>
<circle cx="410.1" cy="160.7" r="0.6"/>
<circle cx="438.7" cy="159.7" r="0.6"/>
<circle cx="459.4" cy="160.1" r="0.6"/>
<circle cx="449.2" cy="158.6" r="0.6"/>
<circle cx="460.5" cy="156.5" r="0.6"/>
<circle cx="453.4" cy="159.3" r="0.6"/>
<circle cx="440.8" cy="160.3" r="0.6"/>
<circle cx="452.8" cy="152.9" r="0.6"/>
<circle cx="404.9" cy="157.3" r="0.6"/>
<circle cx="418.6" cy="160.5" r="0.6"/>
<circle cx="438.7" cy="156.4" r="0.6"/>
<circle cx="413.5" cy="159.3" r="0.6"/>
<circle cx="418.0" cy="153.2" r="0.6"/>
<circle cx="412.3" cy="157.5" r="0.6"/>
<circle cx="425.8" cy="156.6" r="0.6"/>
<circle cx="447.5" cy="158.1" r="0.6"/>
<circle cx="453.7" cy="159.5" r="0.6"/>
<circle cx="420.6" cy="157.1" r="0.6"/>
<circle cx="421.4" cy="160.2" r="0.6"/>
<circle cx="442.2" cy="160.8" r="0.6"/>
<circle cx="411.5" cy="161.1" r="0.6"/>
<circle cx="439.7" cy="157.1" r="0.6"/>
<circle cx="416.7" cy="159.7" r="0.6"/>
<circle cx="443.4" cy="154.0" r="0.6"/>
<circle cx="443.7" cy="159.8" r="0.6"/>
<circle cx="400.8" cy="160.5" r="0.6"/>
<circle cx="463.9" cy="157.9" r="0.6"/>
<circle cx="432.0" cy="154.5" r="0.6"/>
<circle cx="440.7" cy="160.7" r="0.6"/>
<circle cx="437.2" cy="158.2" r="0.6"/>
<circle cx="438.1" cy="161.0" r="0.6"/>
<circle cx="413.2" cy="153.6" r="0.6"/>
<circle cx="439.6" cy="160.8" r="0.6"/>
<circle cx="419.0" cy="153.5" r="0.6"/>
<circle cx="460.2" cy="153.5" r="0.6"/>
<circle cx="464.8" cy="160.9" r="0.6"/>
<circle cx="452.9" cy="160.8" r="0.6"/>
<circle cx="440.5" cy="159.4" r="0.6"/>
<circle cx="407.2" cy="155.8" r="0.6"/>
<circle cx="439.9" cy="158.6" r="0.6"/>
<circle cx="441.2" cy="157.4" r="0.6"/>
<circle cx="440.8" cy="160.3" r="0.6"/>
<circle cx="433.0" cy="154.8" r="0.6"/>
<circle cx="470.6" cy="156.6" r="0.6"/>
<circle cx="461.9" cy="159.5" r="0.6"/>
<circle cx="417.5" cy="158.0" r="0.6"/>
<circle cx="424.6" cy="155.2" r="0.6"/>
<circle cx="416.7" cy="160.5" r="0.6"/>
<circle cx="453.3" cy="158.0" r="0.6"/>
<circle cx="444.3" cy="160.9" r="0.6"/>
<circle cx="427.2" cy="155.2" r="0.6"/>
<circle cx="421.4" cy="159.5" r="0.6"/>
<circle cx="442.4" cy="159.7" r="0.6"/>
<circle cx="449.4" cy="154.1" r="0.6"/>
<circle cx="446.7" cy="158.4" r="0.6"/>
<circle cx="427.4" cy="153.3" r="0.6"/>
<circle cx="448.5" cy="159.3" r="0.6"/>
<circle cx="439.5" cy="160.7" r="0.6"/>
<circle cx="448.3" cy="156.5" r="0.6"/>
<circle cx="398.1" cy="157.6" r="0.6"/>
<circle cx="414.0" cy="159.3" r="0.6"/>
<circle cx="416.2" cy="156.8" r="0.6"/>
<circle cx="435.4" cy="152.6" r="0.6"/>
<circle cx="443.1" cy="159.5" r="0.6"/>
<circle cx="469.6" cy="161.0" r="0.6"/>
<circle cx="455.7" cy="155.4" r="0.6"/>
<circle cx="423.8" cy="153.0" r="0.6"/>
<circle cx="447.9" cy="156.9" r="0.6"/>
<circle cx="456.3" cy="158.9" r="0.6"/>
<circle cx="437.1" cy="156.7" r="0.6"/>
<circle cx="471.6" cy="159.0" r="0.6"/>
<circle cx="415.8" cy="160.4" r="0.6"/>
<circle cx="414.7" cy="160.3" r="0.6"/>
<circle cx="461.2" cy="158.0" r="0.6"/>
<circle cx="416.3" cy="158.5" r="0.6"/>
<circle cx="458.7" cy="157.0" r="0.6"/>
<circle cx="455.5" cy="159.0" r="0.6"/>
<circle cx="444.5" cy="160.8" r="0.6"/>
<circle cx="409.7" cy="160.1" r="0.6"/>
<circle cx="423.3" cy="160.0" r="0.6"/>
<circle cx="404.2" cy="160.8" r="0.6"/>
<circle cx="410.6" cy="159.3" r="0.6"/>
<circle cx="418.4" cy="159.2" r="0.6"/>
<circle cx="450.4" cy="156.1" r="0.6"/>
<circle cx="422.9" cy="159.7" r="0.6"/>
<circle cx="441.8" cy="158.3" r="0.6"/>
<circle cx="461.5" cy="159.9" r="0.6"/>
<circle cx="457.8" cy="159.6" r="0.6"/>
<circle cx="449.8" cy="159.6" r="0.6"/>
<circle cx="411.2" cy="161.1" r="0.6"/>
<circle cx="401.4" cy="159.9" r="0.6"/>
<circle cx="449.3" cy="161.1" r="0.6"/>
<circle cx="447.1" cy="156.7" r="0.6"/>
<circle cx="440.7" cy="160.5" r="0.6"/>
<circle cx="447.4" cy="158.9" r="0.6"/>
<circle cx="408.8" cy="160.9" r="0.6"/>
<circle cx="478.2" cy="157.4" r="0.6"/>
<circle cx="462.7" cy="159.6" r="0.6"/>
<circle cx="418.2" cy="160.8" r="0.6"/>
<circle cx="448.8" cy="154.0" r="0.6"/>
<circle cx="465.5" cy="157.3" r="0.6"/>
<circle cx="426.1" cy="154.2" r="0.6"/>
<circle cx="441.9" cy="159.4" r="0.6"/>
<circle cx="448.4" cy="157.7" r="0.6"/>
<circle cx="439.8" cy="160.0" r="0.6"/>
<circle cx="441.6" cy="160.5" r="0.6"/>
<circle cx="451.8" cy="161.0" r="0.6"/>
<circle cx="451.5" cy="158.1" r="0.6"/>
<circle cx="439.7" cy="157.9" r="0.6"/>
<circle cx="402.7" cy="159.0" r="0.6"/>
<circle cx="442.4" cy="159.8" r="0.6"/>
<circle cx="437.9" cy="161.0" r="0.6"/>
<circle cx="442.4" cy="158.8" r="0.6"/>
<circle cx="445.1" cy="160.4" r="0.6"/>
<circle cx="423.4" cy="156.3" r="0.6"/>
<circle cx="407.4" cy="153.9" r="0.6"/>
<circle cx="418.4" cy="153.9" r="0.6"/>
<circle cx="453.7" cy="155.8" r="0.6"/>
<circle cx="460.3" cy="161.0" r="0.6"/>
<circle cx="447.6" cy="159.7" r="0.6"/>
<circle cx="443.8" cy="159.7" r="0.6"/>
<circle cx="450.1" cy="159.6" r="0.6"/>
<circle cx="412.8" cy="160.8" r="0.6"/>
<circle cx="445.2" cy="158.6" r="0.6"/>
<circle cx="431.8" cy="153.7" r="0.6"/>
<circle cx="421.6" cy="160.0" r="0.6"/>
<circle cx="476.3" cy="154.9" r="0.6"/>
<circle cx="436.8" cy="157.2" r="0.6"/>
<circle cx="455.2" cy="155.0" r="0.6"/>
<circle cx="453.4" cy="159.2" r="0.6"/>
<circle cx="448.2" cy="158.7" r="0.6"/>
<circle cx="443.7" cy="159.3" r="0.6"/>
<circle cx="409.0" cy="157.8" r="0.6"/>
<circle cx="415.8" cy="156.2" r="0.6"/>
<circle cx="401.6" cy="158.6" r="0.6"/>
<circle cx="452.9" cy="158.9" r="0.6"/>
<circle cx="421.5" cy="158.4" r="0.6"/>
<circle cx="453.6" cy="157.0" r="0.6"/>
<circle cx="445.8" cy="157.4" r="0.6"/>
<circle cx="435.9" cy="156.0" r="0.6"/>
<circle cx="450.3" cy="160.6" r="0.6"/>
<circle cx="418.6" cy="155.1" r="0.6"/>
<circle cx="396.5" cy="156.1" r="0.6"/>
<circle cx="397.2" cy="160.6" r="0.6"/>
<circle cx="452.5" cy="158.6" r="0.6"/>
<circle cx="443.2" cy="156.4" r="0.6"/>
<circle cx="446.0" cy="154.6" r="0.6"/>
<circle cx="421.8" cy="156.9" r="0.6"/>
<circle cx="440.0" cy="161.1" r="0.6"/>
<circle cx="403.2" cy="161.0" r="0.6"/>
<circle cx="424.0" cy="159.3" r="0.6"/>
<circle cx="395.3" cy="161.1" r="0.6"/>
<circle cx="438.1" cy="156.9" r="0.6"/>
<circle cx="469.0" cy="160.2" r="0.6"/>
<circle cx="481.0" cy="157.5" r="0.6"/>
<circle cx="441.5" cy="160.3" r="0.6"/>
<circle cx="412.5" cy="159.2" r="0.6"/>
<circle cx="444.9" cy="160.6" r="0.6"/>
<circle cx="417.7" cy="155.9" r="0.6"/>
<circle cx="449.0" cy="158.4" r="0.6"/>
<circle cx="443.3" cy="159.5" r="0.6"/>
<circle cx="448.3" cy="159.3" r="0.6"/>
<circle cx="448.6" cy="160.2" r="0.6"/>
<circle cx="468.5" cy="153.5" r="0.6"/>
<circle cx="456.2" cy="155.9" r="0.6"/>
<circle cx="422.1" cy="160.5" r="0.6"/>
<circle cx="442.6" cy="160.7" r="0.6"/>
<circle cx="413.1" cy="160.1" r="0.6"/>
<circle cx="462.4" cy="159.4" r="0.6"/>
<circle cx="421.7" cy="160.5" r="0.6"/>
<circle cx="446.0" cy="160.4" r="0.6"/>
<circle cx="441.8" cy="159.4" r="0.6"/>
<circle cx="438.8" cy="160.4" r="0.6"/>
<circle cx="417.4" cy="160.5" r="0.6"/>
<circle cx="461.3" cy="160.1" r="0.6"/>
<circle cx="452.4" cy="158.8" r="0.6"/>
<circle cx="461.6" cy="160.7" r="0.6"/>
<circle cx="426.6" cy="156.2" r="0.6"/>
<circle cx="420.9" cy="159.0" r="0.6"/>
<circle cx="443.8" cy="160.3" r="0.6"/>
<circle cx="478.3" cy="160.6" r="0.6"/>
<circle cx="431.4" cy="153.9" r="0.6"/>
<circle cx="402.5" cy="158.4" r="0.6"/>
<circle cx="468.5" cy="158.2" r="0.6"/>
<circle cx="461.0" cy="156.9" r="0.6"/>
<circle cx="456.2" cy="157.8" r="0.6"/>
<circle cx="446.9" cy="160.9" r="0.6"/>
<circle cx="420.8" cy="155.6" r="0.6"/>
<circle cx="424.4" cy="159.0" r="0.6"/>
<circle cx="409.5" cy="159.1" r="0.6"/>
<circle cx="457.8" cy="160.4" r="0.6"/>
<circle cx="451.1" cy="157.5" r="0.6"/>
<circle cx="417.0" cy="158.0" r="0.6"/>
<circle cx="461.5" cy="159.7" r="0.6"/>
<circle cx="448.7" cy="159.4" r="0.6"/>
<circle cx="445.2" cy="159.6" r="0.6"/>
<circle cx="448.2" cy="156.7" r="0.6"/>
<circle cx="441.0" cy="159.7" r="0.6"/>
<circle cx="439.4" cy="160.7" r="0.6"/>
<circle cx="438.3" cy="160.7" r="0.6"/>
<circle cx="408.5" cy="160.6" r="0.6"/>
<circle cx="454.1" cy="160.9" r="0.6"/>
<circle cx="417.0" cy="157.9" r="0.6"/>
<circle cx="413.1" cy="153.9" r="0.6"/>
<circle cx="447.4" cy="159.8" r="0.6"/>
<circle cx="403.0" cy="156.4" r="0.6"/>
<circle cx="404.7" cy="158.8" r="0.6"/>
<circle cx="466.9" cy="160.4" r="0.6"/>
<circle cx="442.4" cy="160.4" r="0.6"/>
<circle cx="451.7" cy="157.4" r="0.6"/>
<circle cx="398.1" cy="158.2" r="0.6"/>
<circle cx="408.9" cy="158.9" r="0.6"/>
<circle cx="418.4" cy="159.7" r="0.6"/>
<circle cx="422.5" cy="157.4" r="0.6"/>
<circle cx="444.9" cy="156.7" r="0.6"/>
<circle cx="431.9" cy="154.7" r="0.6"/>
<circle cx="469.3" cy="159.9" r="0.6"/>
<circle cx="457.6" cy="159.1" r="0.6"/>
<circle cx="444.4" cy="154.8" r="0.6"/>
<circle cx="436.8" cy="157.9" r="0.6"/>
<circle cx="421.0" cy="153.5" r="0.6"/>
<circle cx="436.9" cy="154.8" r="0.6"/>
<circle cx="417.0" cy="160.8" r="0.6"/>
<circle cx="443.5" cy="160.7" r="0.6"/>
<circle cx="451.9" cy="161.0" r="0.6"/>
<circle cx="457.9" cy="160.9" r="0.6"/>
<circle cx="444.5" cy="160.2" r="0.6"/>
<circle cx="420.4" cy="160.9" r="0.6"/>
<circle cx="477.4" cy="160.3" r="0.6"/>
<circle cx="403.7" cy="160.4" r="0.6"/>
<circle cx="411.8" cy="160.9" r="0.6"/>
<circle cx="446.8" cy="159.4" r="0.6"/>
<circle cx="456.1" cy="160.7" r="0.6"/>
<circle cx="438.2" cy="160.1" r="0.6"/>
<circle cx="439.9" cy="160.0" r="0.6"/>
<circle cx="436.6" cy="157.7" r="0.6"/>
<circle cx="440.7" cy="160.4" r="0.6"/>
<circle cx="463.3" cy="159.8" r="0.6"/>
<circle cx="443.0" cy="157.4" r="0.6"/>
<circle cx="443.4" cy="161.1" r="0.6"/>
<circle cx="403.4" cy="160.7" r="0.6"/>
<circle cx="398.2" cy="159.9" r="0.6"/>
<circle cx="440.0" cy="160.6" r="0.6"/>
<circle cx="423.0" cy="160.3" r="0.6"/>
<circle cx="440.7" cy="159.8" r="0.6"/>
<circle cx="444.7" cy="159.7" r="0.6"/>
<circle cx="458.0" cy="156.5" r="0.6"/>
<circle cx="471.4" cy="160.6" r="0.6"/>
<circle cx="444.3" cy="160.0" r="0.6"/>
<circle cx="453.3" cy="158.5" r="0.6"/>
<circle cx="423.9" cy="156.7" r="0.6"/>
<circle cx="444.7" cy="160.8" r="0.6"/>
<circle cx="437.8" cy="160.1" r="0.6"/>
<circle cx="423.2" cy="158.5" r="0.6"/>
<circle cx="458.7" cy="152.9" r="0.6"/>
<circle cx="447.1" cy="160.4" r="0.6"/>
<circle cx="442.2" cy="160.5" r="0.6"/>
<circle cx="453.9" cy="158.3" r="0.6"/>
<circle cx="444.1" cy="160.2" r="0.6"/>
<circle cx="423.4" cy="158.0" r="0.6"/>
<circle cx="437.8" cy="153.2" r="0.6"/>
<circle cx="405.8" cy="158.8" r="0.6"/>
<circle cx="415.2" cy="159.3" r="0.6"/>
<circle cx="445.0" cy="160.0" r="0.6"/>
<circle cx="415.1" cy="160.5" r="0.6"/>
<circle cx="448.6" cy="160.0" r="0.6"/>
<circle cx="438.6" cy="157.2" r="0.6"/>
<circle cx="444.9" cy="161.0" r="0.6"/>
<circle cx="403.8" cy="161.0" r="0.6"/>
<circle cx="461.4" cy="158.1" r="0.6"/>
<circle cx="411.3" cy="159.0" r="0.6"/>
<circle cx="415.0" cy="159.7" r="0.6"/>
<circle cx="412.0" cy="155.9" r="0.6"/>
<circle cx="415.7" cy="159.9" r="0.6"/>
<circle cx="439.9" cy="157.0" r="0.6"/>
<circle cx="453.2" cy="161.0" r="0.6"/>
<circle cx="413.1" cy="161.0" r="0.6"/>
<circle cx="449.6" cy="154.9" r="0.6"/>
<circle cx="416.6" cy="158.1" r="0.6"/>
<circle cx="452.1" cy="158.7" r="0.6"/>
<circle cx="444.9" cy="158.9" r="0.6"/>
<circle cx="459.1" cy="155.7" r="0.6"/>
<circle cx="424.6" cy="158.4" r="0.6"/>
<circle cx="413.1" cy="159.0" r="0.6"/>
<circle cx="409.6" cy="159.5" r="0.6"/>
<circle cx="419.7" cy="159.5" r="0.6"/>
<circle cx="438.3" cy="160.2" r="0.6"/>
<circle cx="459.1" cy="156.2" r="0.6"/>
<circle cx="455.8" cy="158.2" r="0.6"/>
<circle cx="421.3" cy="160.7" r="0.6"/>
<circle cx="438.9" cy="158.8" r="0.6"/>
<circle cx="409.2" cy="159.5" r="0.6"/>
<circle cx="421.8" cy="160.9" r="0.6"/>
<circle cx="417.0" cy="160.2" r="0.6"/>
<circle cx="441.7" cy="159.3" r="0.6"/>
<circle cx="479.3" cy="153.4" r="0.6"/>
<circle cx="392.4" cy="160.6" r="0.6"/>
<circle cx="418.3" cy="155.7" r="0.6"/>
<circle cx="447.4" cy="161.0" r="0.6"/>
<circle cx="412.9" cy="160.4" r="0.6"/>
<circle cx="409.2" cy="158.5" r="0.6"/>
<circle cx="441.0" cy="160.8" r="0.6"/>
<circle cx="424.0" cy="159.9" r="0.6"/>
<circle cx="413.8" cy="158.5" r="0.6"/>
<circle cx="460.1" cy="160.0" r="0.6"/>
<circle cx="406.7" cy="160.9" r="0.6"/>
<circle cx="415.3" cy="160.1" r="0.6"/>
<circle cx="454.4" cy="157.3" r="0.6"/>
<circle cx="448.1" cy="159.8" r="0.6"/>
<circle cx="443.1" cy="157.0" r="0.6"/>
<circle cx="449.3" cy="157.3" r="0.6"/>
<circle cx="398.5" cy="159.8" r="0.6"/>
<circle cx="418.9" cy="160.3" r="0.6"/>
<circle cx="418.5" cy="159.8" r="0.6"/>
<circle cx="448.1" cy="156.4" r="0.6"/>
<circle cx="390.0" cy="152.9" r="0.6"/>
<circle cx="445.1" cy="157.9" r="0.6"/>
<circle cx="446.5" cy="159.2" r="0.6"/>
<circle cx="459.3" cy="159.2" r="0.6"/>
<circle cx="407.3" cy="160.3" r="0.6"/>
<circle cx="424.6" cy="158.8" r="0.6"/>
<circle cx="453.8" cy="160.0" r="0.6"/>
<circle cx="445.5" cy="156.8" r="0.6"/>
<circle cx="450.7" cy="159.0" r="0.6"/>
<circle cx="446.1" cy="157.0" r="0.6"/>
<circle cx="423.0" cy="155.0" r="0.6"/>
<circle cx="448.6" cy="160.8" r="0.6"/>
<circle cx="410.4" cy="156.9" r="0.6"/>
<circle cx="444.0" cy="160.9" r="0.6"/>
<circle cx="458.9" cy="153.0" r="0.6"/>
<circle cx="453.7" cy="159.2" r="0.6"/>
<circle cx="412.6" cy="158.6" r="0.6"/>
<circle cx="478.2" cy="160.6" r="0.6"/>
<circle cx="449.1" cy="161.1" r="0.6"/>
<circle cx="437.4" cy="158.1" r="0.6"/>
<circle cx="449.7" cy="158.1" r="0.6"/>
<circle cx="438.4" cy="159.2" r="0.6"/>
<circle cx="422.3" cy="158.9" r="0.6"/>
<circle cx="446.2" cy="158.8" r="0.6"/>
<circle cx="444.6" cy="159.5" r="0.6"/>
<circle cx="456.7" cy="159.4" r="0.6"/>
<circle cx="413.0" cy="160.9" r="0.6"/>
<circle cx="447.3" cy="158.5" r="0.6"/>
<circle cx="446.2" cy="158.5" r="0.6"/>
<circle cx="444.4" cy="157.5" r="0.6"/>
<circle cx="473.0" cy="159.3" r="0.6"/>
<circle cx="428.1" cy="155.1" r="0.6"/>
<circle cx="403.7" cy="160.6" r="0.6"/>
<circle cx="426.3" cy="154.6" r="0.6"/>
<circle cx="406.3" cy="158.2" r="0.6"/>
<circle cx="442.3" cy="160.9" r="0.6"/>
<circle cx="394.7" cy="153.0" r="0.6"/>
<circle cx="446.9" cy="160.6" r="0.6"/>
<circle cx="415.0" cy="160.3" r="0.6"/>
<circle cx="408.1" cy="159.1" r="0.6"/>
<circle cx="450.9" cy="154.6" r="0.6"/>
<circle cx="465.7" cy="160.8" r="0.6"/>
<circle cx="412.2" cy="156.8" r="0.6"/>
<circle cx="415.3" cy="159.3" r="0.6"/>
<circle cx="436.4" cy="157.3" r="0.6"/>
<circle cx="405.7" cy="156.3" r="0.6"/>
<circle cx="452.4" cy="159.1" r="0.6"/>
<circle cx="440.1" cy="157.1" r="0.6"/>
<circle cx="457.8" cy="159.7" r="0.6"/>
<circle cx="460.7" cy="159.5" r="0.6"/>
<circle cx="441.0" cy="158.2" r="0.6"/>
<circle cx="433.8" cy="154.4" r="0.6"/>
<circle cx="467.2" cy="158.0" r="0.6"/>
<circle cx="443.6" cy="156.7" r="0.6"/>
<circle cx="400.4" cy="157.6" r="0.6"/>
<circle cx="425.1" cy="156.5" r="0.6"/>
<circle cx="410.7" cy="159.4" r="0.6"/>
<circle cx="438.0" cy="157.8" r="0.6"/>
<circle cx="468.9" cy="155.1" r="0.6"/>
<circle cx="423.3" cy="152.9" r="0.6"/>
<circle cx="401.9" cy="159.3" r="0.6"/>
<circle cx="410.4" cy="158.4" r="0.6"/>
<circle cx="394.7" cy="159.6" r="0.6"/>
<circle cx="417.0" cy="158.8" r="0.6"/>
<circle cx="460.1" cy="159.1" r="0.6"/>
<circle cx="412.0" cy="157.5" r="0.6"/>
<circle cx="417.6" cy="159.8" r="0.6"/>
<circle cx="456.5" cy="158.6" r="0.6"/>
<circle cx="445.2" cy="159.6" r="0.6"/>
<circle cx="476.9" cy="160.5" r="0.6"/>
<circle cx="476.2" cy="159.3" r="0.6"/>
<circle cx="391.3" cy="159.4" r="0.6"/>
<circle cx="453.7" cy="158.1" r="0.6"/>
<circle cx="419.6" cy="158.7" r="0.6"/>
<circle cx="438.9" cy="157.1" r="0.6"/>
<circle cx="443.6" cy="159.9" r="0.6"/>
<circle cx="470.4" cy="157.7" r="0.6"/>
<circle cx="459.0" cy="157.2" r="0.6"/>
<circle cx="419.1" cy="160.1" r="0.6"/>
<circle cx="439.9" cy="152.5" r="0.6"/>
<circle cx="420.4" cy="158.1" r="0.6"/>
<circle cx="418.9" cy="159.3" r="0.6"/>
<circle cx="443.5" cy="159.4" r="0.6"/>
<circle cx="422.2" cy="159.4" r="0.6"/>
<circle cx="450.7" cy="160.7" r="0.6"/>
<circle cx="418.6" cy="160.9" r="0.6"/>
<circle cx="417.8" cy="161.0" r="0.6"/>
<circle cx="445.8" cy="159.5" r="0.6"/>
<circle cx="401.0" cy="159.6" r="0.6"/>
<circle cx="454.1" cy="160.1" r="0.6"/>
<circle cx="449.3" cy="161.0" r="0.6"/>
<circle cx="405.8" cy="160.3" r="0.6"/>
<circle cx="448.4" cy="160.9" r="0.6"/>
<circle cx="445.7" cy="154.4" r="0.6"/>
<circle cx="460.3" cy="155.4" r="0.6"/>
<circle cx="410.2" cy="156.4" r="0.6"/>
<circle cx="406.1" cy="159.2" r="0.6"/>
<circle cx="449.6" cy="159.2" r="0.6"/>
<circle cx="415.1" cy="159.4" r="0.6"/>
<circle cx="407.4" cy="154.7" r="0.6"/>
<circle cx="435.7" cy="154.9" r="0.6"/>
<circle cx="466.9" cy="158.2" r="0.6"/>
<circle cx="453.3" cy="155.5" r="0.6"/>
<circle cx="414.3" cy="158.1" r="0.6"/>
<circle cx="463.2" cy="160.5" r="0.6"/>
<circle cx="440.5" cy="159.3" r="0.6"/>
<circle cx="423.7" cy="158.7" r="0.6"/>
<circle cx="466.2" cy="157.9" r="0.6"/>
<circle cx="465.4" cy="159.6" r="0.6"/>
<circle cx="452.8" cy="160.0" r="0.6"/>
<circle cx="454.7" cy="158.8" r="0.6"/>
<circle cx="456.2" cy="158.9" r="0.6"/>
<circle cx="445.9" cy="159.6" r="0.6"/>
<circle cx="402.2" cy="159.3" r="0.6"/>
<circle cx="422.9" cy="160.4" r="0.6"/>
<circle cx="417.3" cy="157.4" r="0.6"/>
<circle cx="440.3" cy="156.5" r="0.6"/>
<circle cx="455.5" cy="158.2" r="0.6"/>
<circle cx="450.0" cy="154.1" r="0.6"/>
<circle cx="443.8" cy="156.9" r="0.6"/>
<circle cx="418.4" cy="159.6" r="0.6"/>
<circle cx="432.6" cy="155.0" r="0.6"/>
<circle cx="437.6" cy="159.9" r="0.6"/>
<circle cx="422.8" cy="157.0" r="0.6"/>
<circle cx="416.7" cy="157.3" r="0.6"/>
<circle cx="397.4" cy="157.0" r="0.6"/>
<circle cx="458.0" cy="160.8" r="0.6"/>
<circle cx="400.1" cy="159.2" r="0.6"/>
<circle cx="445.6" cy="160.1" r="0.6"/>
<circle cx="423.6" cy="161.1" r="0.6"/>
<circle cx="418.8" cy="154.0" r="0.6"/>
<circle cx="453.4" cy="160.1" r="0.6"/>
<circle cx="409.1" cy="158.9" r="0.6"/>
<circle cx="407.4" cy="160.0" r="0.6"/>
<circle cx="452.6" cy="159.0" r="0.6"/>
<circle cx="437.7" cy="154.8" r="0.6"/>
<circle cx="412.1" cy="159.2" r="0.6"/>
<circle cx="422.9" cy="160.6" r="0.6"/>
<circle cx="474.3" cy="158.0" r="0.6"/>
<circle cx="438.1" cy="158.1" r="0.6"/>
<circle cx="410.2" cy="155.5" r="0.6"/>
<circle cx="398.1" cy="161.1" r="0.6"/>
<circle cx="454.7" cy="160.0" r="0.6"/>
<circle cx="417.9" cy="155.6" r="0.6"/>
<circle cx="394.2" cy="155.3" r="0.6"/>
<circle cx="458.8" cy="158.4" r="0.6"/>
<circle cx="437.8" cy="160.8" r="0.6"/>
<circle cx="424.7" cy="152.9" r="0.6"/>
<circle cx="413.7" cy="159.5" r="0.6"/>
<circle cx="427.6" cy="152.8" r="0.6"/>
<circle cx="411.0" cy="157.4" r="0.6"/>
<circle cx="463.7" cy="156.1" r="0.6"/>
<circle cx="455.1" cy="160.7" r="0.6"/>
<circle cx="477.0" cy="158.4" r="0.6"/>
<circle cx="451.5" cy="160.8" r="0.6"/>
<circle cx="472.2" cy="159.9" r="0.6"/>
<circle cx="423.2" cy="154.7" r="0.6"/>
<circle cx="446.0" cy="160.2" r="0.6"/>
<circle cx="463.1" cy="157.0" r="0.6"/>
<circle cx="441.4" cy="160.7" r="0.6"/>
<circle cx="447.2" cy="158.6" r="0.6"/>
<circle cx="451.5" cy="160.3" r="0.6"/>
<circle cx="445.8" cy="156.5" r="0.6"/>
<circle cx="424.4" cy="157.6" r="0.6"/>
<circle cx="445.7" cy="161.1" r="0.6"/>
<circle cx="447.6" cy="160.3" r="0.6"/>
<circle cx="411.5" cy="157.8" r="0.6"/>
<circle cx="465.7" cy="160.4" r="0.6"/>
<circle cx="424.4" cy="159.3" r="0.6"/>
<circle cx="454.2" cy="161.0" r="0.6"/>
<circle cx="423.8" cy="158.7" r="0.6"/>
<circle cx="451.3" cy="159.1" r="0.6"/>
<circle cx="423.0" cy="160.1" r="0.6"/>
<circle cx="414.8" cy="154.7" r="0.6"/>
<circle cx="466.6" cy="159.4" r="0.6"/>
<circle cx="432.5" cy="153.7" r="0.6"/>
<circle cx="427.1" cy="153.8" r="0.6"/>
<circle cx="450.8" cy="158.2" r="0.6"/>
<circle cx="421.1" cy="153.1" r="0.6"/>
<circle cx="450.0" cy="155.1" r="0.6"/>
<circle cx="458.9" cy="156.7" r="0.6"/>
<circle cx="419.8" cy="155.9" r="0.6"/>
<circle cx="452.1" cy="160.2" r="0.6"/>
<circle cx="460.3" cy="161.0" r="0.6"/>
<circle cx="423.3" cy="160.5" r="0.6"/>
<circle cx="411.3" cy="160.0" r="0.6"/>
<circle cx="454.1" cy="160.5" r="0.6"/>
<circle cx="444.8" cy="159.9" r="0.6"/>
<circle cx="444.0" cy="159.1" r="0.6"/>
<circle cx="442.2" cy="156.7" r="0.6"/>
<circle cx="449.8" cy="159.6" r="0.6"/>
<circle cx="443.7" cy="155.9" r="0.6"/>
<circle cx="440.1" cy="157.5" r="0.6"/>
<circle cx="457.5" cy="158.0" r="0.6"/>
<circle cx="466.2" cy="158.9" r="0.6"/>
<circle cx="437.5" cy="159.0" r="0.6"/>
<circle cx="439.1" cy="159.7" r="0.6"/>
<circle cx="411.5" cy="159.7" r="0.6"/>
<circle cx="476.9" cy="161.0" r="0.6"/>
<circle cx="400.1" cy="160.5" r="0.6"/>
<circle cx="438.8" cy="156.3" r="0.6"/>
<circle cx="422.4" cy="160.6" r="0.6"/>
<circle cx="436.4" cy="155.1" r="0.6"/>
<circle cx="469.9" cy="159.4" r="0.6"/>
<circle cx="422.0" cy="156.4" r="0.6"/>
<circle cx="405.9" cy="159.9" r="0.6"/>
<circle cx="442.3" cy="160.4" r="0.6"/>
<circle cx="447.6" cy="155.5" r="0.6"/>
<circle cx="439.8" cy="155.9" r="0.6"/>
<circle cx="399.3" cy="158.7" r="0.6"/>
<circle cx="444.1" cy="155.5" r="0.6"/>
<circle cx="439.7" cy="160.2" r="0.6"/>
<circle cx="444.7" cy="159.8" r="0.6"/>
<circle cx="451.4" cy="159.3" r="0.6"/>
<circle cx="425.2" cy="155.5" r="0.6"/>
<circle cx="463.7" cy="154.2" r="0.6"/>
<circle cx="470.3" cy="159.2" r="0.6"/>
<circle cx="417.4" cy="156.6" r="0.6"/>
<circle cx="456.8" cy="160.5" r="0.6"/>
<circle cx="459.0" cy="159.4" r="0.6"/>
<circle cx="435.5" cy="156.1" r="0.6"/>
<circle cx="459.7" cy="155.0" r="0.6"/>
<circle cx="464.4" cy="160.6" r="0.6"/>
<circle cx="440.1" cy="159.8" r="0.6"/>
<circle cx="441.9" cy="160.5" r="0.6"/>
<circle cx="480.0" cy="154.4" r="0.6"/>
<circle cx="437.3" cy="157.7" r="0.6"/>
<circle cx="457.4" cy="161.0" r="0.6"/>
<circle cx="442.2" cy="158.0" r="0.6"/>
<circle cx="463.9" cy="160.8" r="0.6"/>
<circle cx="413.2" cy="160.3" r="0.6"/>
<circle cx="423.1" cy="160.4" r="0.6"/>
<circle cx="438.5" cy="159.7" r="0.6"/>
<circle cx="448.2" cy="158.8" r="0.6"/>
<circle cx="422.9" cy="159.7" r="0.6"/>
<circle cx="415.4" cy="157.2" r="0.6"/>
<circle cx="409.7" cy="160.3" r="0.6"/>
<circle cx="448.9" cy="159.4" r="0.6"/>
<circle cx="417.9" cy="159.8" r="0.6"/>
<circle cx="434.8" cy="156.0" r="0.6"/>
<circle cx="440.9" cy="159.2" r="0.6"/>
<circle cx="409.3" cy="157.2" r="0.6"/>
<circle cx="405.2" cy="155.8" r="0.6"/>
<circle cx="424.4" cy="157.1" r="0.6"/>
<circle cx="440.5" cy="159.0" r="0.6"/>
<circle cx="422.5" cy="159.9" r="0.6"/>
<circle cx="423.4" cy="153.9" r="0.6"/>
<circle cx="419.1" cy="157.3" r="0.6"/>
<circle cx="432.6" cy="153.4" r="0.6"/>
<circle cx="424.3" cy="157.2" r="0.6"/>
<circle cx="407.7" cy="156.7" r="0.6"/>
<circle cx="459.9" cy="160.0" r="0.6"/>
<circle cx="464.4" cy="159.1" r="0.6"/>
<circle cx="423.6" cy="154.6" r="0.6"/>
<circle cx="445.1" cy="157.9" r="0.6"/>
<circle cx="443.4" cy="161.0" r="0.6"/>
<circle cx="445.3" cy="159.2" r="0.6"/>
<circle cx="456.1" cy="157.5" r="0.6"/>
<circle cx="446.0" cy="160.0" r="0.6"/>
<circle cx="446.2" cy="160.4" r="0.6"/>
<circle cx="449.8" cy="161.0" r="0.6"/>
<circle cx="451.0" cy="160.6" r="0.6"/>
<circle cx="460.4" cy="156.5" r="0.6"/>
<circle cx="447.7" cy="161.1" r="0.6"/>
<circle cx="462.5" cy="160.1" r="0.6"/>
<circle cx="438.8" cy="156.5" r="0.6"/>
<circle cx="444.3" cy="159.9" r="0.6"/>
<circle cx="476.9" cy="157.6" r="0.6"/>
<circle cx="442.7" cy="158.2" r="0.6"/>
<circle cx="441.3" cy="159.7" r="0.6"/>
<circle cx="410.8" cy="152.6" r="0.6"/>
<circle cx="417.8" cy="161.0" r="0.6"/>
<circle cx="411.8" cy="160.5" r="0.6"/>
<circle cx="416.4" cy="161.1" r="0.6"/>
<circle cx="440.2" cy="159.5" r="0.6"/>
<circle cx="439.4" cy="155.6" r="0.6"/>
<circle cx="422.8" cy="157.2" r="0.6"/>
<circle cx="448.8" cy="160.7" r="0.6"/>
<circle cx="434.6" cy="156.2" r="0.6"/>
<circle cx="423.5" cy="159.0" r="0.6"/>
<circle cx="420.9" cy="156.6" r="0.6"/>
<circle cx="466.7" cy="160.4" r="0.6"/>
<circle cx="437.6" cy="153.4" r="0.6"/>
<circle cx="406.9" cy="154.8" r="0.6"/>
<circle cx="452.1" cy="156.8" r="0.6"/>
<circle cx="387.7" cy="159.9" r="0.6"/>
<circle cx="442.1" cy="156.4" r="0.6"/>
<circle cx="426.9" cy="152.8" r="0.6"/>
<circle cx="417.3" cy="155.7" r="0.6"/>
<circle cx="424.5" cy="158.6" r="0.6"/>
<circle cx="422.7" cy="159.5" r="0.6"/>
<circle cx="447.1" cy="160.4" r="0.6"/>
<circle cx="448.4" cy="153.7" r="0.6"/>
<circle cx="462.3" cy="160.6" r="0.6"/>
<circle cx="445.5" cy="160.1" r="0.6"/>
<circle cx="457.8" cy="158.1" r="0.6"/>
<circle cx="478.5" cy="158.4" r="0.6"/>
<circle cx="451.9" cy="156.0" r="0.6"/>
<circle cx="406.1" cy="159.9" r="0.6"/>
<circle cx="454.8" cy="159.4" r="0.6"/>
<circle cx="415.4" cy="155.9" r="0.6"/>
<circle cx="422.3" cy="160.4" r="0.6"/>
<circle cx="423.1" cy="160.5" r="0.6"/>
<circle cx="441.9" cy="156.4" r="0.6"/>
<circle cx="414.4" cy="159.3" r="0.6"/>
<circle cx="440.4" cy="161.0" r="0.6"/>
<circle cx="423.6" cy="156.8" r="0.6"/>
<circle cx="436.9" cy="156.1" r="0.6"/>
<circle cx="459.2" cy="157.2" r="0.6"/>
<circle cx="440.6" cy="160.8" r="0.6"/>
<circle cx="439.6" cy="158.6" r="0.6"/>
<circle cx="436.0" cy="157.4" r="0.6"/>
<circle cx="405.0" cy="159.4" r="0.6"/>
<circle cx="443.4" cy="160.0" r="0.6"/>
<circle cx="449.9" cy="157.2" r="0.6"/>
<circle cx="441.5" cy="158.9" r="0.6"/>
<circle cx="426.5" cy="155.0" r="0.6"/>
<circle cx="439.4" cy="152.7" r="0.6"/>
<circle cx="461.8" cy="161.0" r="0.6"/>
<circle cx="444.5" cy="159.5" r="0.6"/>
<circle cx="443.6" cy="159.0" r="0.6"/>
<circle cx="460.6" cy="157.3" r="0.6"/>
<circle cx="439.9" cy="157.6" r="0.6"/>
<circle cx="419.2" cy="158.0" r="0.6"/>
<circle cx="457.1" cy="158.3" r="0.6"/>
<circle cx="451.7" cy="159.2" r="0.6"/>
<circle cx="449.8" cy="160.8" r="0.6"/>
<circle cx="464.0" cy="158.7" r="0.6"/>
<circle cx="404.6" cy="157.5" r="0.6"/>
<circle cx="440.5" cy="158.2" r="0.6"/>
<circle cx="426.6" cy="152.8" r="0.6"/>
<circle cx="447.4" cy="160.9" r="0.6"/>
<circle cx="404.4" cy="156.1" r="0.6"/>
<circle cx="450.7" cy="159.3" r="0.6"/>
<circle cx="408.5" cy="158.7" r="0.6"/>
<circle cx="442.5" cy="160.9" r="0.6"/>
<circle cx="413.7" cy="160.9" r="0.6"/>
<circle cx="418.2" cy="158.6" r="0.6"/>
<circle cx="453.1" cy="160.8" r="0.6"/>
<circle cx="447.0" cy="158.1" r="0.6"/>
<circle cx="418.8" cy="157.7" r="0.6"/>
<circle cx="419.7" cy="159.7" r="0.6"/>
<circle cx="409.5" cy="159.2" r="0.6"/>
<circle cx="398.6" cy="160.9" r="0.6"/>
<circle cx="408.0" cy="156.2" r="0.6"/>
<circle cx="409.5" cy="156.1" r="0.6"/>
<circle cx="439.8" cy="160.8" r="0.6"/>
<circle cx="458.8" cy="158.0" r="0.6"/>
<circle cx="458.2" cy="160.4" r="0.6"/>
<circle cx="438.1" cy="160.9" r="0.6"/>
<circle cx="452.0" cy="160.9" r="0.6"/>
<circle cx="399.5" cy="156.0" r="0.6"/>
<circle cx="451.0" cy="159.3" r="0.6"/>
<circle cx="416.3" cy="156.6" r="0.6"/>
<circle cx="443.6" cy="157.5" r="0.6"/>
<circle cx="446.5" cy="158.9" r="0.6"/>
<circle cx="449.5" cy="156.7" r="0.6"/>
<circle cx="448.2" cy="157.5" r="0.6"/>
<circle cx="442.9" cy="159.3" r="0.6"/>
<circle cx="438.0" cy="156.9" r="0.6"/>
<circle cx="438.5" cy="158.9" r="0.6"/>
<circle cx="470.5" cy="159.4" r="0.6"/>
<circle cx="416.6" cy="160.9" r="0.6"/>
<circle cx="407.6" cy="161.0" r="0.6"/>
<circle cx="455.9" cy="154.7" r="0.6"/>
<circle cx="434.4" cy="155.5" r="0.6"/>
<circle cx="445.2" cy="156.8" r="0.6"/>
<circle cx="448.1" cy="159.0" r="0.6"/>
<circle cx="402.5" cy="159.3" r="0.6"/>
<circle cx="444.8" cy="159.5" r="0.6"/>
<circle cx="420.5" cy="159.0" r="0.6"/>
<circle cx="440.5" cy="160.8" r="0.6"/>
<circle cx="451.9" cy="159.8" r="0.6"/>
<circle cx="439.7" cy="157.8" r="0.6"/>
<circle cx="463.1" cy="159.1" r="0.6"/>
<circle cx="460.1" cy="159.9" r="0.6"/>
<circle cx="455.4" cy="158.5" r="0.6"/>
<circle cx="437.9" cy="156.4" r="0.6"/>
<circle cx="438.2" cy="159.2" r="0.6"/>
<circle cx="459.1" cy="158.3" r="0.6"/>
<circle cx="442.8" cy="160.9" r="0.6"/>
<circle cx="414.4" cy="160.3" r="0.6"/>
<circle cx="423.7" cy="161.0" r="0.6"/>
<circle cx="437.1" cy="157.3" r="0.6"/>
<circle cx="413.7" cy="160.0" r="0.6"/>
<circle cx="399.1" cy="159.9" r="0.6"/>
<circle cx="410.0" cy="155.5" r="0.6"/>
<circle cx="407.3" cy="153.1" r="0.6"/>
<circle cx="439.9" cy="159.4" r="0.6"/>
<circle cx="442.1" cy="160.2" r="0.6"/>
<circle cx="474.6" cy="159.8" r="0.6"/>
<circle cx="401.7" cy="159.6" r="0.6"/>
<circle cx="409.7" cy="157.9" r="0.6"/>
<circle cx="444.7" cy="160.4" r="0.6"/>
<circle cx="414.4" cy="159.1" r="0.6"/>
<circle cx="453.6" cy="160.1" r="0.6"/>
<circle cx="440.8" cy="159.1" r="0.6"/>
<circle cx="440.5" cy="153.4" r="0.6"/>
<circle cx="401.9" cy="158.7" r="0.6"/>
<circle cx="440.3" cy="158.0" r="0.6"/>
<circle cx="419.3" cy="155.0" r="0.6"/>
<circle cx="442.8" cy="157.4" r="0.6"/>
<circle cx="442.7" cy="160.2" r="0.6"/>
<circle cx="448.6" cy="156.8" r="0.6"/>
<circle cx="403.8" cy="161.1" r="0.6"/>
<circle cx="417.6" cy="156.9" r="0.6"/>
<circle cx="423.2" cy="157.5" r="0.6"/>
<circle cx="437.9" cy="153.8" r="0.6"/>
<circle cx="414.9" cy="160.7" r="0.6"/>
<circle cx="445.5" cy="155.0" r="0.6"/>
<circle cx="417.8" cy="154.8" r="0.6"/>
<circle cx="421.6" cy="161.0" r="0.6"/>
<circle cx="449.9" cy="155.8" r="0.6"/>
<circle cx="404.1" cy="157.6" r="0.6"/>
<circle cx="451.8" cy="160.9" r="0.6"/>
<circle cx="466.8" cy="159.4" r="0.6"/>
<circle cx="407.4" cy="159.2" r="0.6"/>
<circle cx="444.9" cy="156.1" r="0.6"/>
<circle cx="447.8" cy="159.2" r="0.6"/>
<circle cx="437.0" cy="156.8" r="0.6"/>
<circle cx="437.8" cy="153.3" r="0.6"/>
<circle cx="443.7" cy="156.5" r="0.6"/>
<circle cx="445.7" cy="157.5" r="0.6"/>
<circle cx="456.2" cy="158.9" r="0.6"/>
<circle cx="443.4" cy="157.4" r="0.6"/>
<circle cx="453.6" cy="160.1" r="0.6"/>
<circle cx="411.3" cy="159.5" r="0.6"/>
<circle cx="448.6" cy="160.1" r="0.6"/>
<circle cx="458.0" cy="160.0" r="0.6"/>
<circle cx="424.2" cy="159.3" r="0.6"/>
<circle cx="468.2" cy="159.2" r="0.6"/>
<circle cx="411.4" cy="158.5" r="0.6"/>
<circle cx="393.2" cy="160.9" r="0.6"/>
<circle cx="442.4" cy="158.7" r="0.6"/>
<circle cx="405.3" cy="160.8" r="0.6"/>
<circle cx="448.3" cy="158.8" r="0.6"/>
<circle cx="410.4" cy="156.5" r="0.6"/>
<circle cx="447.9" cy="159.9" r="0.6"/>
<circle cx="443.6" cy="160.2" r="0.6"/>
<circle cx="415.0" cy="159.6" r="0.6"/>
<circle cx="446.0" cy="155.8" r="0.6"/>
<circle cx="396.2" cy="158.2" r="0.6"/>
<circle cx="471.0" cy="160.6" r="0.6"/>
</g>
<g fill="#b0141a">
<circle cx="480.2" cy="129.4" r="0.75"/>
<circle cx="448.1" cy="123.7" r="0.75"/>
<circle cx="477.3" cy="123.4" r="0.75"/>
<circle cx="481.3" cy="151.6" r="0.75"/>
<circle cx="446.6" cy="130.4" r="0.75"/>
<circle cx="446.8" cy="148.4" r="0.75"/>
<circle cx="476.1" cy="129.0" r="0.75"/>
<circle cx="457.6" cy="146.9" r="0.75"/>
<circle cx="471.7" cy="117.7" r="0.75"/>
<circle cx="468.4" cy="148.5" r="0.75"/>
<circle cx="450.0" cy="150.9" r="0.75"/>
<circle cx="467.7" cy="135.1" r="0.75"/>
<circle cx="449.1" cy="133.9" r="0.75"/>
<circle cx="467.3" cy="141.7" r="0.75"/>
<circle cx="463.6" cy="146.9" r="0.75"/>
<circle cx="439.3" cy="143.0" r="0.75"/>
<circle cx="470.1" cy="125.4" r="0.75"/>
<circle cx="484.9" cy="138.6" r="0.75"/>
<circle cx="446.2" cy="127.2" r="0.75"/>
<circle cx="458.3" cy="120.1" r="0.75"/>
<circle cx="483.5" cy="151.6" r="0.75"/>
<circle cx="441.0" cy="151.8" r="0.75"/>
<circle cx="470.7" cy="144.6" r="0.75"/>
<circle cx="468.2" cy="148.9" r="0.75"/>
<circle cx="466.8" cy="151.6" r="0.75"/>
<circle cx="448.4" cy="134.4" r="0.75"/>
<circle cx="449.4" cy="151.5" r="0.75"/>
<circle cx="469.5" cy="118.7" r="0.75"/>
<circle cx="483.1" cy="125.7" r="0.75"/>
<circle cx="472.5" cy="151.8" r="0.75"/>
<circle cx="446.0" cy="141.3" r="0.75"/>
<circle cx="463.9" cy="128.6" r="0.75"/>
<circle cx="440.0" cy="139.6" r="0.75"/>
<circle cx="442.0" cy="133.3" r="0.75"/>
<circle cx="442.8" cy="144.8" r="0.75"/>
<circle cx="475.3" cy="118.5" r="0.75"/>
<circle cx="476.5" cy="131.8" r="0.75"/>
<circle cx="452.7" cy="139.0" r="0.75"/>
<circle cx="464.3" cy="144.5" r="0.75"/>
<circle cx="466.9" cy="146.0" r="0.75"/>
<circle cx="456.6" cy="132.8" r="0.75"/>
<circle cx="469.3" cy="119.3" r="0.75"/>
<circle cx="482.7" cy="130.7" r="0.75"/>
<circle cx="443.8" cy="144.2" r="0.75"/>
<circle cx="462.2" cy="131.3" r="0.75"/>
<circle cx="481.9" cy="150.8" r="0.75"/>
<circle cx="439.0" cy="126.5" r="0.75"/>
<circle cx="485.0" cy="148.6" r="0.75"/>
<circle cx="467.2" cy="147.6" r="0.75"/>
<circle cx="456.8" cy="139.1" r="0.75"/>
<circle cx="471.5" cy="124.5" r="0.75"/>
<circle cx="455.9" cy="144.5" r="0.75"/>
<circle cx="460.0" cy="118.5" r="0.75"/>
<circle cx="463.2" cy="123.3" r="0.75"/>
<circle cx="484.7" cy="151.8" r="0.75"/>
<circle cx="475.3" cy="151.5" r="0.75"/>
<circle cx="462.2" cy="139.4" r="0.75"/>
<circle cx="442.3" cy="141.5" r="0.75"/>
<circle cx="471.5" cy="148.4" r="0.75"/>
<circle cx="464.2" cy="147.3" r="0.75"/>
<circle cx="480.7" cy="146.9" r="0.75"/>
<circle cx="483.2" cy="144.5" r="0.75"/>
<circle cx="487.4" cy="142.6" r="0.75"/>
<circle cx="484.3" cy="144.6" r="0.75"/>
<circle cx="489.2" cy="139.4" r="0.75"/>
<circle cx="486.5" cy="138.2" r="0.75"/>
<circle cx="480.3" cy="150.7" r="0.75"/>
<circle cx="486.1" cy="146.7" r="0.75"/>
<circle cx="488.7" cy="137.5" r="0.75"/>
<circle cx="478.6" cy="151.3" r="0.75"/>
<circle cx="480.7" cy="147.6" r="0.75"/>
<circle cx="485.7" cy="134.6" r="0.75"/>
<circle cx="488.0" cy="142.1" r="0.75"/>
<circle cx="480.9" cy="147.3" r="0.75"/>
<circle cx="481.2" cy="149.3" r="0.75"/>
<circle cx="482.2" cy="147.3" r="0.75"/>
<circle cx="479.8" cy="150.6" r="0.75"/>
<circle cx="488.2" cy="138.6" r="0.75"/>
<circle cx="480.2" cy="151.9" r="0.75"/>
<circle cx="485.2" cy="148.9" r="0.75"/>
<circle cx="483.4" cy="146.3" r="0.75"/>
<circle cx="488.0" cy="141.4" r="0.75"/>
<circle cx="488.1" cy="139.8" r="0.75"/>
<circle cx="481.2" cy="148.8" r="0.75"/>
<circle cx="484.5" cy="144.8" r="0.75"/>
<circle cx="480.7" cy="151.3" r="0.75"/>
<circle cx="485.6" cy="142.6" r="0.75"/>
<circle cx="483.2" cy="149.1" r="0.75"/>
<circle cx="483.0" cy="146.8" r="0.75"/>
<circle cx="487.0" cy="141.7" r="0.75"/>
<circle cx="481.1" cy="148.4" r="0.75"/>
<circle cx="484.5" cy="146.3" r="0.75"/>
<circle cx="486.2" cy="140.4" r="0.75"/>
<circle cx="478.6" cy="148.6" r="0.75"/>
<circle cx="480.2" cy="150.2" r="0.75"/>
<circle cx="484.9" cy="145.5" r="0.75"/>
<circle cx="485.6" cy="143.2" r="0.75"/>
<circle cx="484.5" cy="144.9" r="0.75"/>
<circle cx="485.5" cy="145.8" r="0.75"/>
<circle cx="486.3" cy="142.5" r="0.75"/>
<circle cx="486.4" cy="145.1" r="0.75"/>
<circle cx="483.7" cy="149.4" r="0.75"/>
<circle cx="489.2" cy="141.4" r="0.75"/>
<circle cx="482.7" cy="146.3" r="0.75"/>
<circle cx="490.1" cy="138.0" r="0.75"/>
<circle cx="481.0" cy="147.0" r="0.75"/>
<circle cx="482.0" cy="148.4" r="0.75"/>
<circle cx="489.6" cy="139.1" r="0.75"/>
<circle cx="488.0" cy="143.2" r="0.75"/>
<circle cx="480.7" cy="149.9" r="0.75"/>
<circle cx="486.7" cy="143.3" r="0.75"/>
<circle cx="485.1" cy="145.3" r="0.75"/>
<circle cx="487.6" cy="142.3" r="0.75"/>
<circle cx="488.9" cy="138.0" r="0.75"/>
<circle cx="482.4" cy="148.5" r="0.75"/>
<circle cx="487.4" cy="139.7" r="0.75"/>
<circle cx="485.4" cy="145.2" r="0.75"/>
<circle cx="482.5" cy="147.8" r="0.75"/>
<circle cx="480.8" cy="147.8" r="0.75"/>
<circle cx="485.0" cy="144.5" r="0.75"/>
<circle cx="486.0" cy="139.6" r="0.75"/>
<circle cx="486.2" cy="141.7" r="0.75"/>
<circle cx="481.8" cy="147.7" r="0.75"/>
<circle cx="489.6" cy="139.4" r="0.75"/>
<circle cx="485.1" cy="142.6" r="0.75"/>
<circle cx="483.2" cy="148.5" r="0.75"/>
<circle cx="485.8" cy="144.7" r="0.75"/>
<circle cx="480.6" cy="151.9" r="0.75"/>
<circle cx="482.7" cy="148.7" r="0.75"/>
<circle cx="487.8" cy="138.7" r="0.75"/>
<circle cx="486.7" cy="140.1" r="0.75"/>
<circle cx="488.8" cy="139.8" r="0.75"/>
<circle cx="487.3" cy="144.3" r="0.75"/>
<circle cx="486.3" cy="143.3" r="0.75"/>
<circle cx="482.8" cy="144.4" r="0.75"/>
<circle cx="479.8" cy="148.4" r="0.75"/>
<circle cx="490.5" cy="140.6" r="0.75"/>
<circle cx="480.5" cy="147.9" r="0.75"/>
<circle cx="484.7" cy="145.5" r="0.75"/>
<circle cx="486.4" cy="138.0" r="0.75"/>
<circle cx="485.1" cy="140.8" r="0.75"/>
<circle cx="490.3" cy="139.3" r="0.75"/>
<circle cx="488.0" cy="138.5" r="0.75"/>
<circle cx="481.9" cy="151.4" r="0.75"/>
<circle cx="482.8" cy="146.1" r="0.75"/>
<circle cx="483.0" cy="145.9" r="0.75"/>
<circle cx="484.3" cy="148.2" r="0.75"/>
<circle cx="485.5" cy="144.6" r="0.75"/>
<circle cx="478.9" cy="151.4" r="0.75"/>
<circle cx="483.2" cy="146.1" r="0.75"/>
<circle cx="484.2" cy="145.7" r="0.75"/>
<circle cx="488.1" cy="141.2" r="0.75"/>
<circle cx="483.7" cy="144.5" r="0.75"/>
<circle cx="482.9" cy="147.2" r="0.75"/>
<circle cx="482.3" cy="150.4" r="0.75"/>
<circle cx="483.0" cy="146.8" r="0.75"/>
<circle cx="481.9" cy="151.7" r="0.75"/>
<circle cx="483.0" cy="148.9" r="0.75"/>
<circle cx="484.1" cy="148.9" r="0.75"/>
<circle cx="482.8" cy="148.6" r="0.75"/>
<circle cx="480.3" cy="148.8" r="0.75"/>
<circle cx="482.4" cy="144.6" r="0.75"/>
<circle cx="480.0" cy="148.0" r="0.75"/>
<circle cx="487.8" cy="139.2" r="0.75"/>
<circle cx="483.6" cy="144.4" r="0.75"/>
<circle cx="488.6" cy="137.3" r="0.75"/>
<circle cx="486.7" cy="140.4" r="0.75"/>
<circle cx="478.2" cy="151.4" r="0.75"/>
<circle cx="482.9" cy="144.6" r="0.75"/>
<circle cx="478.9" cy="151.0" r="0.75"/>
<circle cx="493.4" cy="122.8" r="0.75"/>
<circle cx="490.8" cy="132.9" r="0.75"/>
<circle cx="497.5" cy="117.1" r="0.75"/>
<circle cx="490.1" cy="134.4" r="0.75"/>
<circle cx="498.2" cy="113.2" r="0.75"/>
<circle cx="489.6" cy="137.6" r="0.75"/>
<circle cx="493.7" cy="129.8" r="0.75"/>
<circle cx="487.3" cy="136.1" r="0.75"/>
<circle cx="496.5" cy="115.4" r="0.75"/>
<circle cx="493.5" cy="128.5" r="0.75"/>
<circle cx="495.8" cy="121.0" r="0.75"/>
<circle cx="492.3" cy="125.7" r="0.75"/>
<circle cx="494.9" cy="121.3" r="0.75"/>
<circle cx="494.8" cy="122.3" r="0.75"/>
<circle cx="499.6" cy="110.4" r="0.75"/>
<circle cx="493.5" cy="120.3" r="0.75"/>
<circle cx="491.6" cy="132.3" r="0.75"/>
<circle cx="500.4" cy="110.9" r="0.75"/>
<circle cx="491.0" cy="128.9" r="0.75"/>
<circle cx="494.6" cy="123.5" r="0.75"/>
<circle cx="496.0" cy="122.4" r="0.75"/>
<circle cx="490.8" cy="129.9" r="0.75"/>
<circle cx="489.2" cy="135.4" r="0.75"/>
<circle cx="496.0" cy="121.8" r="0.75"/>
<circle cx="489.1" cy="135.5" r="0.75"/>
<circle cx="497.9" cy="109.5" r="0.75"/>
<circle cx="490.5" cy="132.1" r="0.75"/>
<circle cx="491.8" cy="130.7" r="0.75"/>
<circle cx="492.1" cy="129.7" r="0.75"/>
<circle cx="498.4" cy="112.4" r="0.75"/>
<circle cx="445.5" cy="144.9" r="0.75"/>
<circle cx="438.9" cy="146.5" r="0.75"/>
<circle cx="441.7" cy="151.9" r="0.75"/>
<circle cx="445.3" cy="144.8" r="0.75"/>
<circle cx="438.5" cy="150.7" r="0.75"/>
<circle cx="441.3" cy="145.1" r="0.75"/>
<circle cx="447.2" cy="151.2" r="0.75"/>
<circle cx="438.6" cy="151.3" r="0.75"/>
<circle cx="442.6" cy="150.9" r="0.75"/>
<circle cx="441.5" cy="147.7" r="0.75"/>
<circle cx="440.3" cy="149.9" r="0.75"/>
<circle cx="439.0" cy="143.3" r="0.75"/>
<circle cx="445.7" cy="147.6" r="0.75"/>
<circle cx="445.6" cy="148.9" r="0.75"/>
<circle cx="446.7" cy="147.4" r="0.75"/>
<circle cx="446.2" cy="149.9" r="0.75"/>
<circle cx="445.5" cy="151.5" r="0.75"/>
<circle cx="441.8" cy="146.6" r="0.75"/>
<circle cx="441.0" cy="147.5" r="0.75"/>
<circle cx="444.8" cy="149.8" r="0.75"/>
<circle cx="444.2" cy="149.8" r="0.75"/>
<circle cx="439.9" cy="147.3" r="0.75"/>
<circle cx="441.2" cy="145.6" r="0.75"/>
<circle cx="439.9" cy="150.6" r="0.75"/>
<circle cx="439.0" cy="143.8" r="0.75"/>
<circle cx="440.2" cy="148.6" r="0.75"/>
<circle cx="444.8" cy="150.5" r="0.75"/>
<circle cx="444.7" cy="149.5" r="0.75"/>
<circle cx="446.7" cy="148.2" r="0.75"/>
<circle cx="441.9" cy="149.9" r="0.75"/>
<circle cx="438.0" cy="149.3" r="0.75"/>
<circle cx="446.6" cy="147.0" r="0.75"/>
<circle cx="441.1" cy="151.5" r="0.75"/>
<circle cx="442.9" cy="147.8" r="0.75"/>
<circle cx="445.3" cy="144.1" r="0.75"/>
<circle cx="441.6" cy="145.9" r="0.75"/>
<circle cx="445.7" cy="145.4" r="0.75"/>
<circle cx="441.5" cy="148.1" r="0.75"/>
<circle cx="437.8" cy="150.6" r="0.75"/>
<circle cx="439.7" cy="143.9" r="0.75"/>
<circle cx="445.7" cy="149.6" r="0.75"/>
<circle cx="442.0" cy="149.2" r="0.75"/>
<circle cx="447.2" cy="147.7" r="0.75"/>
<circle cx="443.6" cy="149.6" r="0.75"/>
<circle cx="444.0" cy="144.0" r="0.75"/>
<circle cx="440.4" cy="146.1" r="0.75"/>
<circle cx="446.9" cy="145.4" r="0.75"/>
<circle cx="442.6" cy="144.0" r="0.75"/>
<circle cx="437.4" cy="147.9" r="0.75"/>
<circle cx="445.5" cy="149.0" r="0.75"/>
<circle cx="442.6" cy="145.8" r="0.75"/>
<circle cx="444.6" cy="145.6" r="0.75"/>
<circle cx="439.5" cy="145.7" r="0.75"/>
<circle cx="438.8" cy="147.7" r="0.75"/>
<circle cx="439.8" cy="150.4" r="0.75"/>
<circle cx="463.5" cy="151.1" r="0.75"/>
<circle cx="461.7" cy="146.5" r="0.75"/>
<circle cx="473.7" cy="143.4" r="0.75"/>
<circle cx="465.8" cy="149.4" r="0.75"/>
<circle cx="460.1" cy="151.8" r="0.75"/>
<circle cx="440.9" cy="144.9" r="0.75"/>
<circle cx="478.3" cy="145.9" r="0.75"/>
<circle cx="447.1" cy="148.5" r="0.75"/>
<circle cx="447.3" cy="151.1" r="0.75"/>
<circle cx="471.0" cy="144.3" r="0.75"/>
<circle cx="440.1" cy="146.6" r="0.75"/>
<circle cx="467.8" cy="147.7" r="0.75"/>
<circle cx="445.4" cy="150.9" r="0.75"/>
<circle cx="469.2" cy="151.6" r="0.75"/>
<circle cx="446.3" cy="150.0" r="0.75"/>
<circle cx="446.3" cy="151.4" r="0.75"/>
<circle cx="445.8" cy="151.6" r="0.75"/>
<circle cx="443.6" cy="150.5" r="0.75"/>
<circle cx="453.0" cy="151.8" r="0.75"/>
<circle cx="446.6" cy="150.6" r="0.75"/>
<circle cx="442.4" cy="151.2" r="0.75"/>
<circle cx="441.3" cy="147.1" r="0.75"/>
<circle cx="444.4" cy="150.1" r="0.75"/>
<circle cx="445.0" cy="147.9" r="0.75"/>
<circle cx="478.2" cy="147.6" r="0.75"/>
<circle cx="443.0" cy="151.7" r="0.75"/>
<circle cx="446.1" cy="145.0" r="0.75"/>
<circle cx="442.9" cy="146.8" r="0.75"/>
<circle cx="470.2" cy="145.8" r="0.75"/>
<circle cx="456.5" cy="150.5" r="0.75"/>
<circle cx="453.5" cy="148.2" r="0.75"/>
<circle cx="458.8" cy="147.6" r="0.75"/>
<circle cx="457.0" cy="145.7" r="0.75"/>
<circle cx="463.4" cy="151.4" r="0.75"/>
<circle cx="456.3" cy="151.5" r="0.75"/>
<circle cx="476.0" cy="152.0" r="0.75"/>
<circle cx="455.5" cy="150.4" r="0.75"/>
<circle cx="463.7" cy="151.9" r="0.75"/>
<circle cx="466.3" cy="151.9" r="0.75"/>
<circle cx="450.6" cy="151.1" r="0.75"/>
<circle cx="442.5" cy="143.1" r="0.75"/>
<circle cx="442.0" cy="144.7" r="0.75"/>
<circle cx="466.8" cy="144.3" r="0.75"/>
<circle cx="463.1" cy="149.3" r="0.75"/>
<circle cx="457.3" cy="149.3" r="0.75"/>
</g>
<circle cx="472.50" cy="20.50" r="0.70" fill="#b0141a" />
<text x="472.00" y="25.40" font-size="4.1" fill="#b81c25" text-anchor="middle" font-weight="normal" font-family='"Liberation Sans", sans-serif' >Pigr</text>
<circle cx="457.00" cy="47.60" r="0.70" fill="#b0141a" />
<text x="457.70" y="45.80" font-size="4.1" fill="#b81c25" text-anchor="middle" font-weight="normal" font-family='"Liberation Sans", sans-serif' >H2-Q5</text>
<circle cx="518.40" cy="44.80" r="0.70" fill="#b0141a" />
<text x="517.60" y="42.90" font-size="4.1" fill="#b81c25" text-anchor="middle" font-weight="normal" font-family='"Liberation Sans", sans-serif' >Ltf</text>
<circle cx="505.00" cy="84.20" r="0.70" fill="#b0141a" />
<text x="503.40" y="82.20" font-size="4.1" fill="#b81c25" text-anchor="middle" font-weight="normal" font-family='"Liberation Sans", sans-serif' >Cp2</text>
<circle cx="507.50" cy="86.40" r="0.70" fill="#b0141a" />
<text x="512.00" y="91.40" font-size="4.1" fill="#b81c25" text-anchor="middle" font-weight="normal" font-family='"Liberation Sans", sans-serif' >Ighg2c</text>
<circle cx="461.80" cy="94.80" r="0.70" fill="#b0141a" />
<text x="463.00" y="92.50" font-size="4.1" fill="#b81c25" text-anchor="middle" font-weight="normal" font-family='"Liberation Sans", sans-serif' >Hspa1b</text>
<circle cx="504.20" cy="101.20" r="0.70" fill="#b0141a" />
<text x="504.20" y="99.00" font-size="4.1" fill="#b81c25" text-anchor="middle" font-weight="normal" font-family='"Liberation Sans", sans-serif' >Mzb1</text>
<circle cx="504.20" cy="103.60" r="0.70" fill="#b0141a" />
<text x="512.30" y="106.80" font-size="4.1" fill="#b81c25" text-anchor="middle" font-weight="normal" font-family='"Liberation Sans", sans-serif' >Ighg2b</text>
<circle cx="495.40" cy="112.50" r="0.70" fill="#b0141a" />
<text x="498.10" y="109.70" font-size="4.1" fill="#b81c25" text-anchor="middle" font-weight="normal" font-family='"Liberation Sans", sans-serif' >Dmbt1</text>
<circle cx="480.90" cy="116.30" r="0.70" fill="#b0141a" />
<text x="481.20" y="113.60" font-size="4.1" fill="#b81c25" text-anchor="middle" font-weight="normal" font-family='"Liberation Sans", sans-serif' >Jchain</text>
<circle cx="499.00" cy="111.70" r="0.60" fill="#b0141a" />
<circle cx="498.60" cy="115.00" r="0.60" fill="#b0141a" />
<circle cx="500.50" cy="110.90" r="0.60" fill="#b0141a" />
<circle cx="444.90" cy="112.20" r="0.60" fill="#b0141a" />
<circle cx="448.40" cy="119.50" r="0.60" fill="#b0141a" />
<circle cx="457.50" cy="120.20" r="0.60" fill="#b0141a" />
<circle cx="453.00" cy="124.50" r="0.60" fill="#b0141a" />
<circle cx="462.50" cy="121.50" r="0.60" fill="#b0141a" />
<circle cx="470.20" cy="118.80" r="0.60" fill="#b0141a" />
<circle cx="474.50" cy="126.00" r="0.60" fill="#b0141a" />
<circle cx="442.50" cy="128.50" r="0.60" fill="#b0141a" />
<circle cx="466.00" cy="131.50" r="0.60" fill="#b0141a" />
<circle cx="378.20" cy="147.30" r="0.65" fill="#2b7bb9" />
<circle cx="412.80" cy="123.50" r="0.65" fill="#2b7bb9" />
<circle cx="411.20" cy="130.70" r="0.65" fill="#2b7bb9" />
<circle cx="412.80" cy="141.70" r="0.65" fill="#2b7bb9" />
<circle cx="407.10" cy="148.50" r="0.65" fill="#2b7bb9" />
<circle cx="419.30" cy="151.80" r="0.65" fill="#2b7bb9" />
<circle cx="423.30" cy="152.00" r="0.65" fill="#2b7bb9" />
<circle cx="417.00" cy="149.50" r="0.65" fill="#2b7bb9" />
<circle cx="421.00" cy="150.80" r="0.65" fill="#2b7bb9" />
<circle cx="414.00" cy="151.50" r="0.65" fill="#2b7bb9" />
<circle cx="389.00" cy="151.60" r="0.65" fill="#2b7bb9" />
<circle cx="395.00" cy="151.90" r="0.65" fill="#2b7bb9" />
<circle cx="422.50" cy="147.50" r="0.65" fill="#2b7bb9" />
<text x="380.00" y="145.90" font-size="3.7" fill="#2e6fae" text-anchor="middle" font-weight="normal" font-family='"Liberation Sans", sans-serif' >Gm44100</text>
<text x="399.70" y="147.20" font-size="3.7" fill="#2e6fae" text-anchor="middle" font-weight="normal" font-family='"Liberation Sans", sans-serif' >Rps13-ps2</text>
<text x="412.80" y="121.70" font-size="3.7" fill="#2e6fae" text-anchor="middle" font-weight="normal" font-family='"Liberation Sans", sans-serif' >Robo1</text>
<text x="413.60" y="129.30" font-size="3.7" fill="#2e6fae" text-anchor="middle" font-weight="normal" font-family='"Liberation Sans", sans-serif' >Cgnl1</text>
<text x="411.20" y="140.30" font-size="3.7" fill="#2e6fae" text-anchor="middle" font-weight="normal" font-family='"Liberation Sans", sans-serif' >Slc26</text>
<text x="417.60" y="147.10" font-size="3.7" fill="#2e6fae" text-anchor="middle" font-weight="normal" font-family='"Liberation Sans", sans-serif' >Tspan7</text>
<text x="429.80" y="147.60" font-size="3.7" fill="#2e6fae" text-anchor="middle" font-weight="normal" font-family='"Liberation Sans", sans-serif' >Mfap1b</text>
<line x1="424.45" y1="13.50" x2="424.45" y2="168.90" stroke="#555" stroke-width="0.55" stroke-dasharray="1.3 1.3"/>
<line x1="438.25" y1="13.50" x2="438.25" y2="168.90" stroke="#555" stroke-width="0.55" stroke-dasharray="1.3 1.3"/>
<line x1="371.30" y1="152.60" x2="525.40" y2="152.60" stroke="#444" stroke-width="0.6" stroke-dasharray="1.3 1.3"/>
<rect x="371.3" y="13.5" width="154.10" height="155.40" fill="none" stroke="#b5b5b5" stroke-width="0.55"/>
<text x="368.60" y="162.20" font-size="3.2" fill="#999" text-anchor="end" font-weight="normal" font-family='"Liberation Sans", sans-serif' >0</text>
<line x1="369.60" y1="161.10" x2="371.30" y2="161.10" stroke="#aaa" stroke-width="0.4" />
<text x="368.60" y="127.80" font-size="3.2" fill="#999" text-anchor="end" font-weight="normal" font-family='"Liberation Sans", sans-serif' >5</text>
<line x1="369.60" y1="126.70" x2="371.30" y2="126.70" stroke="#aaa" stroke-width="0.4" />
<text x="368.60" y="93.40" font-size="3.2" fill="#999" text-anchor="end" font-weight="normal" font-family='"Liberation Sans", sans-serif' >10</text>
<line x1="369.60" y1="92.30" x2="371.30" y2="92.30" stroke="#aaa" stroke-width="0.4" />
<text x="368.60" y="59.00" font-size="3.2" fill="#999" text-anchor="end" font-weight="normal" font-family='"Liberation Sans", sans-serif' >15</text>
<line x1="369.60" y1="57.90" x2="371.30" y2="57.90" stroke="#aaa" stroke-width="0.4" />
<text x="368.60" y="24.60" font-size="3.2" fill="#999" text-anchor="end" font-weight="normal" font-family='"Liberation Sans", sans-serif' >20</text>
<line x1="369.60" y1="23.50" x2="371.30" y2="23.50" stroke="#aaa" stroke-width="0.4" />
<text x="397.10" y="172.90" font-size="3.2" fill="#999" text-anchor="middle" font-weight="normal" font-family='"Liberation Sans", sans-serif' >-5</text>
<line x1="397.10" y1="168.90" x2="397.10" y2="170.10" stroke="#aaa" stroke-width="0.4" />
<text x="431.35" y="172.90" font-size="3.2" fill="#999" text-anchor="middle" font-weight="normal" font-family='"Liberation Sans", sans-serif' >0</text>
<line x1="431.35" y1="168.90" x2="431.35" y2="170.10" stroke="#aaa" stroke-width="0.4" />
<text x="465.60" y="172.90" font-size="3.2" fill="#999" text-anchor="middle" font-weight="normal" font-family='"Liberation Sans", sans-serif' >5</text>
<line x1="465.60" y1="168.90" x2="465.60" y2="170.10" stroke="#aaa" stroke-width="0.4" />
<text x="499.85" y="172.90" font-size="3.2" fill="#999" text-anchor="middle" font-weight="normal" font-family='"Liberation Sans", sans-serif' >10</text>
<line x1="499.85" y1="168.90" x2="499.85" y2="170.10" stroke="#aaa" stroke-width="0.4" />
<text x="448.40" y="176.40" font-size="3.3" fill="#666" text-anchor="middle" font-weight="normal" font-family='"Liberation Sans", sans-serif' >log2(FoldChange)</text>
<text x="0" y="0" font-size="3.4" fill="#666" text-anchor="middle" font-family='"Liberation Sans", sans-serif' transform="translate(364.9 90.7) rotate(-90)">-log10(Adjust P-value)</text>
<text x="371.10" y="11.50" font-size="4.5" fill="#333" text-anchor="start" font-weight="normal" font-family='"Liberation Sans", sans-serif' >M24 vs M3</text>
<text x="533.30" y="81.90" font-size="4.6" fill="#333" text-anchor="start" font-weight="normal" font-family='"Liberation Sans", sans-serif' >Group</text>
<circle cx="534.20" cy="87.50" r="0.70" fill="#2b7bb9" />
<text x="537.40" y="89.00" font-size="4.2" fill="#444" text-anchor="start" font-weight="normal" font-family='"Liberation Sans", sans-serif' >Down</text>
<circle cx="534.20" cy="94.00" r="0.70" fill="#c4c4c4" />
<text x="537.40" y="95.50" font-size="4.2" fill="#444" text-anchor="start" font-weight="normal" font-family='"Liberation Sans", sans-serif' >Not</text>
<circle cx="534.20" cy="100.40" r="0.70" fill="#b0141a" />
<text x="537.40" y="101.90" font-size="4.2" fill="#444" text-anchor="start" font-weight="normal" font-family='"Liberation Sans", sans-serif' >Up</text>
<text x="356.40" y="12.30" font-size="13.2" fill="#000" text-anchor="start" font-weight="bold" font-family='"Liberation Serif", serif' >c</text>
<text x="3.20" y="198.90" font-size="14.0" fill="#000" text-anchor="start" font-weight="bold" font-family='"Liberation Serif", serif' >d</text>
<text x="142.70" y="202.90" font-size="5.94" fill="#222" text-anchor="middle" font-weight="bold" font-family='"Liberation Sans", sans-serif' >Enriched GO Terms (Top 30)</text>
<text x="142.20" y="212.30" font-size="5.85" fill="#333" text-anchor="middle" font-weight="normal" font-family='"Liberation Sans", sans-serif' >(&#8201;M24 vs M3 upregulated differential genes&#8201;)</text>
<rect x="112.20" y="218.05" width="82.50" height="3.70" fill="#1db24a" />
<text x="105.40" y="222.00" font-size="4.98" fill="#555" text-anchor="end" font-weight="normal" font-family='"Liberation Sans", sans-serif' >immune system process</text>
<line x1="106.00" y1="219.90" x2="108.00" y2="219.90" stroke="#333" stroke-width="0.6" />
<text x="196.00" y="221.30" font-size="4.0" fill="#222" font-family='"Liberation Sans", sans-serif'>2.3&#8201;×&#8201;10<tspan font-size="2.6" dy="-1.2">-38</tspan></text>
<rect x="112.20" y="224.29" width="75.80" height="3.70" fill="#1db24a" />
<text x="105.40" y="228.24" font-size="4.98" fill="#555" text-anchor="end" font-weight="normal" font-family='"Liberation Sans", sans-serif' >immune response</text>
<line x1="106.00" y1="226.14" x2="108.00" y2="226.14" stroke="#333" stroke-width="0.6" />
<text x="189.30" y="227.54" font-size="4.0" fill="#222" font-family='"Liberation Sans", sans-serif'>2.7&#8201;×&#8201;10<tspan font-size="2.6" dy="-1.2">-35</tspan></text>
<rect x="112.20" y="230.52" width="67.80" height="3.70" fill="#1db24a" />
<text x="105.40" y="234.47" font-size="4.98" fill="#555" text-anchor="end" font-weight="normal" font-family='"Liberation Sans", sans-serif' >defense response</text>
<line x1="106.00" y1="232.37" x2="108.00" y2="232.37" stroke="#333" stroke-width="0.6" />
<text x="181.30" y="233.77" font-size="4.0" fill="#222" font-family='"Liberation Sans", sans-serif'>1.7&#8201;×&#8201;10<tspan font-size="2.6" dy="-1.2">-33</tspan></text>
<rect x="112.20" y="236.76" width="53.90" height="3.70" fill="#1db24a" />
<text x="105.40" y="240.71" font-size="4.98" fill="#555" text-anchor="end" font-weight="normal" font-family='"Liberation Sans", sans-serif' >response to external stimulus</text>
<line x1="106.00" y1="238.61" x2="108.00" y2="238.61" stroke="#333" stroke-width="0.6" />
<text x="167.40" y="240.01" font-size="4.0" fill="#222" font-family='"Liberation Sans", sans-serif'>5.1&#8201;×&#8201;10<tspan font-size="2.6" dy="-1.2">-26</tspan></text>
<rect x="112.20" y="242.99" width="50.70" height="3.70" fill="#1db24a" />
<text x="105.40" y="246.94" font-size="4.98" fill="#555" text-anchor="end" font-weight="normal" font-family='"Liberation Sans", sans-serif' >positive regulation of immune system process</text>
<line x1="106.00" y1="244.84" x2="108.00" y2="244.84" stroke="#333" stroke-width="0.6" />
<text x="164.20" y="246.24" font-size="4.0" fill="#222" font-family='"Liberation Sans", sans-serif'>2.1&#8201;×&#8201;10<tspan font-size="2.6" dy="-1.2">-26</tspan></text>
<rect x="112.20" y="249.23" width="50.30" height="3.70" fill="#1db24a" />
<text x="105.40" y="253.18" font-size="4.98" fill="#555" text-anchor="end" font-weight="normal" font-family='"Liberation Sans", sans-serif' >regulation of immune system process</text>
<line x1="106.00" y1="251.08" x2="108.00" y2="251.08" stroke="#333" stroke-width="0.6" />
<text x="163.80" y="252.48" font-size="4.0" fill="#222" font-family='"Liberation Sans", sans-serif'>2.7&#8201;×&#8201;10<tspan font-size="2.6" dy="-1.2">-26</tspan></text>
<rect x="112.20" y="255.46" width="49.00" height="3.70" fill="#1db24a" />
<text x="105.40" y="259.41" font-size="4.98" fill="#555" text-anchor="end" font-weight="normal" font-family='"Liberation Sans", sans-serif' >response to stimulus</text>
<line x1="106.00" y1="257.31" x2="108.00" y2="257.31" stroke="#333" stroke-width="0.6" />
<text x="162.50" y="258.71" font-size="4.0" fill="#222" font-family='"Liberation Sans", sans-serif'>8.9&#8201;×&#8201;10<tspan font-size="2.6" dy="-1.2">-26</tspan></text>
<rect x="112.20" y="261.69" width="46.60" height="3.70" fill="#1db24a" />
<text x="105.40" y="265.65" font-size="4.98" fill="#555" text-anchor="end" font-weight="normal" font-family='"Liberation Sans", sans-serif' >immune effector process</text>
<line x1="106.00" y1="263.55" x2="108.00" y2="263.55" stroke="#333" stroke-width="0.6" />
<text x="160.10" y="264.94" font-size="4.0" fill="#222" font-family='"Liberation Sans", sans-serif'>1.6&#8201;×&#8201;10<tspan font-size="2.6" dy="-1.2">-23</tspan></text>
<rect x="112.20" y="267.93" width="46.10" height="3.70" fill="#1db24a" />
<text x="105.40" y="271.88" font-size="4.98" fill="#555" text-anchor="end" font-weight="normal" font-family='"Liberation Sans", sans-serif' >response to biotic stimulus</text>
<line x1="106.00" y1="269.78" x2="108.00" y2="269.78" stroke="#333" stroke-width="0.6" />
<text x="159.60" y="271.18" font-size="4.0" fill="#222" font-family='"Liberation Sans", sans-serif'>2.4&#8201;×&#8201;10<tspan font-size="2.6" dy="-1.2">-22</tspan></text>
<rect x="112.20" y="274.16" width="44.90" height="3.70" fill="#1db24a" />
<text x="105.40" y="278.12" font-size="4.98" fill="#555" text-anchor="end" font-weight="normal" font-family='"Liberation Sans", sans-serif' >response to external biotic stimulus</text>
<line x1="106.00" y1="276.01" x2="108.00" y2="276.01" stroke="#333" stroke-width="0.6" />
<text x="158.40" y="277.41" font-size="4.0" fill="#222" font-family='"Liberation Sans", sans-serif'>1.2&#8201;×&#8201;10<tspan font-size="2.6" dy="-1.2">-21</tspan></text>
<rect x="112.20" y="280.40" width="41.50" height="3.70" fill="#f52a2a" />
<text x="105.40" y="284.35" font-size="4.98" fill="#555" text-anchor="end" font-weight="normal" font-family='"Liberation Sans", sans-serif' >extracellular space</text>
<line x1="106.00" y1="282.25" x2="108.00" y2="282.25" stroke="#333" stroke-width="0.6" />
<text x="155.00" y="283.65" font-size="4.0" fill="#222" font-family='"Liberation Sans", sans-serif'>4.0&#8201;×&#8201;10<tspan font-size="2.6" dy="-1.2">-20</tspan></text>
<rect x="112.20" y="286.63" width="40.90" height="3.70" fill="#f52a2a" />
<text x="105.40" y="290.59" font-size="4.98" fill="#555" text-anchor="end" font-weight="normal" font-family='"Liberation Sans", sans-serif' >extracellular region part</text>
<line x1="106.00" y1="288.49" x2="108.00" y2="288.49" stroke="#333" stroke-width="0.6" />
<text x="154.40" y="289.88" font-size="4.0" fill="#222" font-family='"Liberation Sans", sans-serif'>9.9&#8201;×&#8201;10<tspan font-size="2.6" dy="-1.2">-20</tspan></text>
<rect x="112.20" y="292.87" width="39.90" height="3.70" fill="#f52a2a" />
<text x="105.40" y="296.82" font-size="4.98" fill="#555" text-anchor="end" font-weight="normal" font-family='"Liberation Sans", sans-serif' >extracellular region</text>
<line x1="106.00" y1="294.72" x2="108.00" y2="294.72" stroke="#333" stroke-width="0.6" />
<text x="153.40" y="296.12" font-size="4.0" fill="#222" font-family='"Liberation Sans", sans-serif'>1.6&#8201;×&#8201;10<tspan font-size="2.6" dy="-1.2">-19</tspan></text>
<rect x="112.20" y="299.11" width="37.80" height="3.70" fill="#f52a2a" />
<text x="105.40" y="303.06" font-size="4.98" fill="#555" text-anchor="end" font-weight="normal" font-family='"Liberation Sans", sans-serif' >cell surface</text>
<line x1="106.00" y1="300.96" x2="108.00" y2="300.96" stroke="#333" stroke-width="0.6" />
<text x="151.30" y="302.36" font-size="4.0" fill="#222" font-family='"Liberation Sans", sans-serif'>2.0&#8201;×&#8201;10<tspan font-size="2.6" dy="-1.2">-18</tspan></text>
<rect x="112.20" y="305.34" width="36.50" height="3.70" fill="#1f78b8" />
<text x="105.40" y="309.29" font-size="4.98" fill="#555" text-anchor="end" font-weight="normal" font-family='"Liberation Sans", sans-serif' >signaling receptor binding</text>
<line x1="106.00" y1="307.19" x2="108.00" y2="307.19" stroke="#333" stroke-width="0.6" />
<text x="150.00" y="308.59" font-size="4.0" fill="#222" font-family='"Liberation Sans", sans-serif'>9.3&#8201;×&#8201;10<tspan font-size="2.6" dy="-1.2">-18</tspan></text>
<rect x="112.20" y="311.57" width="34.50" height="3.70" fill="#f52a2a" />
<text x="105.40" y="315.53" font-size="4.98" fill="#555" text-anchor="end" font-weight="normal" font-family='"Liberation Sans", sans-serif' >side of membrane</text>
<line x1="106.00" y1="313.43" x2="108.00" y2="313.43" stroke="#333" stroke-width="0.6" />
<text x="148.00" y="314.82" font-size="4.0" fill="#222" font-family='"Liberation Sans", sans-serif'>7.5&#8201;×&#8201;10<tspan font-size="2.6" dy="-1.2">-17</tspan></text>
<rect x="112.20" y="317.81" width="32.40" height="3.70" fill="#f52a2a" />
<text x="105.40" y="321.76" font-size="4.98" fill="#555" text-anchor="end" font-weight="normal" font-family='"Liberation Sans", sans-serif' >external side of plasma membrane</text>
<line x1="106.00" y1="319.66" x2="108.00" y2="319.66" stroke="#333" stroke-width="0.6" />
<text x="145.90" y="321.06" font-size="4.0" fill="#222" font-family='"Liberation Sans", sans-serif'>7.4&#8201;×&#8201;10<tspan font-size="2.6" dy="-1.2">-16</tspan></text>
<rect x="112.20" y="324.04" width="28.00" height="3.70" fill="#f52a2a" />
<text x="105.40" y="328.00" font-size="4.98" fill="#555" text-anchor="end" font-weight="normal" font-family='"Liberation Sans", sans-serif' >cell periphery</text>
<line x1="106.00" y1="325.89" x2="108.00" y2="325.89" stroke="#333" stroke-width="0.6" />
<text x="141.50" y="327.29" font-size="4.0" fill="#222" font-family='"Liberation Sans", sans-serif'>7.1&#8201;×&#8201;10<tspan font-size="2.6" dy="-1.2">-15</tspan></text>
<rect x="112.20" y="330.28" width="27.60" height="3.70" fill="#f52a2a" />
<text x="105.40" y="334.23" font-size="4.98" fill="#555" text-anchor="end" font-weight="normal" font-family='"Liberation Sans", sans-serif' >plasma membrane</text>
<line x1="106.00" y1="332.13" x2="108.00" y2="332.13" stroke="#333" stroke-width="0.6" />
<text x="141.10" y="333.53" font-size="4.0" fill="#222" font-family='"Liberation Sans", sans-serif'>1.4&#8201;×&#8201;10<tspan font-size="2.6" dy="-1.2">-13</tspan></text>
<rect x="112.20" y="336.51" width="26.90" height="3.70" fill="#f52a2a" />
<text x="105.40" y="340.47" font-size="4.98" fill="#555" text-anchor="end" font-weight="normal" font-family='"Liberation Sans", sans-serif' >plasma membrane part</text>
<line x1="106.00" y1="338.37" x2="108.00" y2="338.37" stroke="#333" stroke-width="0.6" />
<text x="140.40" y="339.76" font-size="4.0" fill="#222" font-family='"Liberation Sans", sans-serif'>2.7&#8201;×&#8201;10<tspan font-size="2.6" dy="-1.2">-13</tspan></text>
<rect x="112.20" y="342.75" width="25.70" height="3.70" fill="#1f78b8" />
<text x="105.40" y="346.70" font-size="4.98" fill="#555" text-anchor="end" font-weight="normal" font-family='"Liberation Sans", sans-serif' >antigen binding</text>
<line x1="106.00" y1="344.60" x2="108.00" y2="344.60" stroke="#333" stroke-width="0.6" />
<text x="139.20" y="346.00" font-size="4.0" fill="#222" font-family='"Liberation Sans", sans-serif'>9.2&#8201;×&#8201;10<tspan font-size="2.6" dy="-1.2">-13</tspan></text>
<rect x="112.20" y="348.99" width="22.60" height="3.70" fill="#1f78b8" />
<text x="105.40" y="352.94" font-size="4.98" fill="#555" text-anchor="end" font-weight="normal" font-family='"Liberation Sans", sans-serif' >T cell receptor binding</text>
<line x1="106.00" y1="350.84" x2="108.00" y2="350.84" stroke="#333" stroke-width="0.6" />
<text x="136.10" y="352.24" font-size="4.0" fill="#222" font-family='"Liberation Sans", sans-serif'>2.1&#8201;×&#8201;10<tspan font-size="2.6" dy="-1.2">-11</tspan></text>
<rect x="112.20" y="355.22" width="21.50" height="3.70" fill="#f52a2a" />
<text x="105.40" y="359.17" font-size="4.98" fill="#555" text-anchor="end" font-weight="normal" font-family='"Liberation Sans", sans-serif' >MHC class I protein complex</text>
<line x1="106.00" y1="357.07" x2="108.00" y2="357.07" stroke="#333" stroke-width="0.6" />
<text x="135.00" y="358.47" font-size="4.0" fill="#222" font-family='"Liberation Sans", sans-serif'>7.4&#8201;×&#8201;10<tspan font-size="2.6" dy="-1.2">-11</tspan></text>
<rect x="112.20" y="361.45" width="17.20" height="3.70" fill="#1f78b8" />
<text x="105.40" y="365.41" font-size="4.98" fill="#555" text-anchor="end" font-weight="normal" font-family='"Liberation Sans", sans-serif' >CD8 receptor binding</text>
<line x1="106.00" y1="363.31" x2="108.00" y2="363.31" stroke="#333" stroke-width="0.6" />
<text x="130.70" y="364.70" font-size="4.0" fill="#222" font-family='"Liberation Sans", sans-serif'>6.6&#8201;×&#8201;10<tspan font-size="2.6" dy="-1.2">-9</tspan></text>
<rect x="112.20" y="367.69" width="16.80" height="3.70" fill="#1f78b8" />
<text x="105.40" y="371.64" font-size="4.98" fill="#555" text-anchor="end" font-weight="normal" font-family='"Liberation Sans", sans-serif' >beta-2-microglobulin binding</text>
<line x1="106.00" y1="369.54" x2="108.00" y2="369.54" stroke="#333" stroke-width="0.6" />
<text x="130.30" y="370.94" font-size="4.0" fill="#222" font-family='"Liberation Sans", sans-serif'>1.3&#8201;×&#8201;10<tspan font-size="2.6" dy="-1.2">-8</tspan></text>
<rect x="112.20" y="373.92" width="15.00" height="3.70" fill="#1f78b8" />
<text x="105.40" y="377.88" font-size="4.98" fill="#555" text-anchor="end" font-weight="normal" font-family='"Liberation Sans", sans-serif' >peptide antigen binding</text>
<line x1="106.00" y1="375.77" x2="108.00" y2="375.77" stroke="#333" stroke-width="0.6" />
<text x="128.50" y="377.17" font-size="4.0" fill="#222" font-family='"Liberation Sans", sans-serif'>1.1&#8201;×&#8201;10<tspan font-size="2.6" dy="-1.2">-7</tspan></text>
<rect x="112.20" y="380.16" width="14.80" height="3.70" fill="#1f78b8" />
<text x="105.40" y="384.11" font-size="4.98" fill="#555" text-anchor="end" font-weight="normal" font-family='"Liberation Sans", sans-serif' >TAP complex binding</text>
<line x1="106.00" y1="382.01" x2="108.00" y2="382.01" stroke="#333" stroke-width="0.6" />
<text x="128.30" y="383.41" font-size="4.0" fill="#222" font-family='"Liberation Sans", sans-serif'>1.2&#8201;×&#8201;10<tspan font-size="2.6" dy="-1.2">-7</tspan></text>
<rect x="112.20" y="386.39" width="13.10" height="3.70" fill="#1f78b8" />
<text x="105.40" y="390.35" font-size="4.98" fill="#555" text-anchor="end" font-weight="normal" font-family='"Liberation Sans", sans-serif' >cytokine activity</text>
<line x1="106.00" y1="388.25" x2="108.00" y2="388.25" stroke="#333" stroke-width="0.6" />
<text x="126.60" y="389.64" font-size="4.0" fill="#222" font-family='"Liberation Sans", sans-serif'>5.4&#8201;×&#8201;10<tspan font-size="2.6" dy="-1.2">-7</tspan></text>
<rect x="112.20" y="392.63" width="13.10" height="3.70" fill="#1f78b8" />
<text x="105.40" y="396.58" font-size="4.98" fill="#555" text-anchor="end" font-weight="normal" font-family='"Liberation Sans", sans-serif' >immunoglobulin receptor binding</text>
<line x1="106.00" y1="394.48" x2="108.00" y2="394.48" stroke="#333" stroke-width="0.6" />
<text x="126.60" y="395.88" font-size="4.0" fill="#222" font-family='"Liberation Sans", sans-serif'>5.5&#8201;×&#8201;10<tspan font-size="2.6" dy="-1.2">-7</tspan></text>
<rect x="112.20" y="398.87" width="12.90" height="3.70" fill="#1f78b8" />
<text x="105.40" y="402.82" font-size="4.98" fill="#555" text-anchor="end" font-weight="normal" font-family='"Liberation Sans", sans-serif' >TAP binding</text>
<line x1="106.00" y1="400.72" x2="108.00" y2="400.72" stroke="#333" stroke-width="0.6" />
<text x="126.40" y="402.12" font-size="4.0" fill="#222" font-family='"Liberation Sans", sans-serif'>7.1&#8201;×&#8201;10<tspan font-size="2.6" dy="-1.2">-7</tspan></text>
<rect x="108.0" y="216.5" width="99.60" height="187.70" fill="none" stroke="#8a8a8a" stroke-width="0.55"/>
<line x1="112.40" y1="404.20" x2="112.40" y2="405.50" stroke="#555" stroke-width="0.45" />
<text x="110.90" y="411.70" font-size="5.8" fill="#555" text-anchor="middle" font-weight="normal" font-family='"Liberation Sans", sans-serif' >0</text>
<line x1="133.40" y1="404.20" x2="133.40" y2="405.50" stroke="#555" stroke-width="0.45" />
<text x="131.90" y="411.70" font-size="5.8" fill="#555" text-anchor="middle" font-weight="normal" font-family='"Liberation Sans", sans-serif' >10</text>
<line x1="154.40" y1="404.20" x2="154.40" y2="405.50" stroke="#555" stroke-width="0.45" />
<text x="152.90" y="411.70" font-size="5.8" fill="#555" text-anchor="middle" font-weight="normal" font-family='"Liberation Sans", sans-serif' >20</text>
<line x1="175.40" y1="404.20" x2="175.40" y2="405.50" stroke="#555" stroke-width="0.45" />
<text x="173.90" y="411.70" font-size="5.8" fill="#555" text-anchor="middle" font-weight="normal" font-family='"Liberation Sans", sans-serif' >30</text>
<line x1="196.40" y1="404.20" x2="196.40" y2="405.50" stroke="#555" stroke-width="0.45" />
<text x="194.90" y="411.70" font-size="5.8" fill="#555" text-anchor="middle" font-weight="normal" font-family='"Liberation Sans", sans-serif' >40</text>
<text x="131.0" y="429.0" font-size="8.0" fill="#111" font-family='"Liberation Sans", sans-serif'>&#8722; log<tspan font-size="5.2" dy="1.6">10</tspan><tspan dy="-1.6">(Pvalue)</tspan></text>
<text x="222.10" y="298.60" font-size="6.05" fill="#222" text-anchor="start" font-weight="normal" font-family='"Liberation Sans", sans-serif' >Category</text>
<rect x="222.10" y="302.90" width="7.40" height="6.90" fill="#1db24a" />
<text x="233.10" y="308.20" font-size="4.5" fill="#444" text-anchor="start" font-weight="normal" font-family='"Liberation Sans", sans-serif' >BP</text>
<rect x="222.10" y="311.30" width="7.40" height="7.00" fill="#1f78b8" />
<text x="233.10" y="316.40" font-size="4.5" fill="#444" text-anchor="start" font-weight="normal" font-family='"Liberation Sans", sans-serif' >MF</text>
<rect x="222.10" y="319.60" width="7.40" height="7.20" fill="#f52a2a" />
<text x="233.10" y="324.70" font-size="4.5" fill="#444" text-anchor="start" font-weight="normal" font-family='"Liberation Sans", sans-serif' >CC</text>
<text x="261.70" y="199.30" font-size="14.2" fill="#000" text-anchor="start" font-weight="bold" font-family='"Liberation Serif", serif' >e</text>
<text x="423.20" y="202.80" font-size="5.9" fill="#222" text-anchor="middle" font-weight="bold" font-family='"Liberation Sans", sans-serif' >KEGG Pathway Enrichments (Top 20)</text>
<text x="422.60" y="212.10" font-size="5.95" fill="#333" text-anchor="middle" font-weight="normal" font-family='"Liberation Sans", sans-serif' >(&#8201;M24 vs M3 upregulated differential genes&#8201;)</text>
<line x1="364.20" y1="215.40" x2="364.20" y2="416.00" stroke="#f0f0f0" stroke-width="0.45" />
<line x1="396.60" y1="215.40" x2="396.60" y2="416.00" stroke="#f0f0f0" stroke-width="0.45" />
<line x1="429.00" y1="215.40" x2="429.00" y2="416.00" stroke="#f0f0f0" stroke-width="0.45" />
<line x1="461.40" y1="215.40" x2="461.40" y2="416.00" stroke="#f0f0f0" stroke-width="0.45" />
<line x1="493.80" y1="215.40" x2="493.80" y2="416.00" stroke="#f0f0f0" stroke-width="0.45" />
<line x1="348.00" y1="215.40" x2="348.00" y2="416.00" stroke="#e4e4e4" stroke-width="0.55" />
<line x1="380.40" y1="215.40" x2="380.40" y2="416.00" stroke="#e4e4e4" stroke-width="0.55" />
<line x1="412.80" y1="215.40" x2="412.80" y2="416.00" stroke="#e4e4e4" stroke-width="0.55" />
<line x1="445.20" y1="215.40" x2="445.20" y2="416.00" stroke="#e4e4e4" stroke-width="0.55" />
<line x1="477.60" y1="215.40" x2="477.60" y2="416.00" stroke="#e4e4e4" stroke-width="0.55" />
<line x1="344.30" y1="221.50" x2="504.30" y2="221.50" stroke="#e4e4e4" stroke-width="0.55" />
<line x1="344.30" y1="231.43" x2="504.30" y2="231.43" stroke="#e4e4e4" stroke-width="0.55" />
<line x1="344.30" y1="241.36" x2="504.30" y2="241.36" stroke="#e4e4e4" stroke-width="0.55" />
<line x1="344.30" y1="251.29" x2="504.30" y2="251.29" stroke="#e4e4e4" stroke-width="0.55" />
<line x1="344.30" y1="261.22" x2="504.30" y2="261.22" stroke="#e4e4e4" stroke-width="0.55" />
<line x1="344.30" y1="271.15" x2="504.30" y2="271.15" stroke="#e4e4e4" stroke-width="0.55" />
<line x1="344.30" y1="281.08" x2="504.30" y2="281.08" stroke="#e4e4e4" stroke-width="0.55" />
<line x1="344.30" y1="291.01" x2="504.30" y2="291.01" stroke="#e4e4e4" stroke-width="0.55" />
<line x1="344.30" y1="300.94" x2="504.30" y2="300.94" stroke="#e4e4e4" stroke-width="0.55" />
<line x1="344.30" y1="310.87" x2="504.30" y2="310.87" stroke="#e4e4e4" stroke-width="0.55" />
<line x1="344.30" y1="320.80" x2="504.30" y2="320.80" stroke="#e4e4e4" stroke-width="0.55" />
<line x1="344.30" y1="330.73" x2="504.30" y2="330.73" stroke="#e4e4e4" stroke-width="0.55" />
<line x1="344.30" y1="340.66" x2="504.30" y2="340.66" stroke="#e4e4e4" stroke-width="0.55" />
<line x1="344.30" y1="350.59" x2="504.30" y2="350.59" stroke="#e4e4e4" stroke-width="0.55" />
<line x1="344.30" y1="360.52" x2="504.30" y2="360.52" stroke="#e4e4e4" stroke-width="0.55" />
<line x1="344.30" y1="370.45" x2="504.30" y2="370.45" stroke="#e4e4e4" stroke-width="0.55" />
<line x1="344.30" y1="380.38" x2="504.30" y2="380.38" stroke="#e4e4e4" stroke-width="0.55" />
<line x1="344.30" y1="390.31" x2="504.30" y2="390.31" stroke="#e4e4e4" stroke-width="0.55" />
<line x1="344.30" y1="400.24" x2="504.30" y2="400.24" stroke="#e4e4e4" stroke-width="0.55" />
<line x1="344.30" y1="410.17" x2="504.30" y2="410.17" stroke="#e4e4e4" stroke-width="0.55" />
<circle cx="497.20" cy="221.50" r="3.10" fill="#e89b12" />
<text x="341.40" y="223.60" font-size="4.6" fill="#333" text-anchor="end" font-weight="normal" font-family='"Liberation Sans", sans-serif' >Cell adhesion molecules</text>
<line x1="342.20" y1="221.50" x2="344.30" y2="221.50" stroke="#333" stroke-width="0.55" />
<circle cx="434.50" cy="231.43" r="2.80" fill="#a4bf14" />
<text x="341.40" y="233.53" font-size="4.6" fill="#333" text-anchor="end" font-weight="normal" font-family='"Liberation Sans", sans-serif' >Phagosome</text>
<line x1="342.20" y1="231.43" x2="344.30" y2="231.43" stroke="#333" stroke-width="0.55" />
<circle cx="425.80" cy="241.36" r="3.10" fill="#4fe21a" />
<text x="341.40" y="243.46" font-size="4.6" fill="#333" text-anchor="end" font-weight="normal" font-family='"Liberation Sans", sans-serif' >Epstein−Barr virus infection</text>
<line x1="342.20" y1="241.36" x2="344.30" y2="241.36" stroke="#333" stroke-width="0.55" />
<circle cx="423.40" cy="251.29" r="2.20" fill="#f47516" />
<text x="341.40" y="253.39" font-size="4.6" fill="#333" text-anchor="end" font-weight="normal" font-family='"Liberation Sans", sans-serif' >Antigen processing and presentation</text>
<line x1="342.20" y1="251.29" x2="344.30" y2="251.29" stroke="#333" stroke-width="0.55" />
<circle cx="408.10" cy="261.22" r="1.80" fill="#f30f12" />
<text x="341.40" y="263.32" font-size="4.6" fill="#333" text-anchor="end" font-weight="normal" font-family='"Liberation Sans", sans-serif' >Graft−versus−host disease</text>
<line x1="342.20" y1="261.22" x2="344.30" y2="261.22" stroke="#333" stroke-width="0.55" />
<circle cx="401.60" cy="271.15" r="1.70" fill="#f5380c" />
<text x="341.40" y="273.25" font-size="4.6" fill="#333" text-anchor="end" font-weight="normal" font-family='"Liberation Sans", sans-serif' >Type I diabetes mellitus</text>
<line x1="342.20" y1="271.15" x2="344.30" y2="271.15" stroke="#333" stroke-width="0.55" />
<circle cx="392.60" cy="281.08" r="2.10" fill="#c4ac10" />
<text x="341.40" y="283.18" font-size="4.6" fill="#333" text-anchor="end" font-weight="normal" font-family='"Liberation Sans", sans-serif' >Il−17 signaling pathway</text>
<line x1="342.20" y1="281.08" x2="344.30" y2="281.08" stroke="#333" stroke-width="0.55" />
<circle cx="389.60" cy="291.01" r="1.50" fill="#f4480c" />
<text x="341.40" y="293.11" font-size="4.6" fill="#333" text-anchor="end" font-weight="normal" font-family='"Liberation Sans", sans-serif' >Allograft rejection</text>
<line x1="342.20" y1="291.01" x2="344.30" y2="291.01" stroke="#333" stroke-width="0.55" />
<circle cx="382.10" cy="300.94" r="3.10" fill="#12ee14" />
<text x="341.40" y="303.04" font-size="4.6" fill="#333" text-anchor="end" font-weight="normal" font-family='"Liberation Sans", sans-serif' >Coronavirus disease−COVID−19</text>
<line x1="342.20" y1="300.94" x2="344.30" y2="300.94" stroke="#333" stroke-width="0.55" />
<circle cx="378.80" cy="310.87" r="1.90" fill="#dca312" />
<text x="341.40" y="312.97" font-size="4.6" fill="#333" text-anchor="end" font-weight="normal" font-family='"Liberation Sans", sans-serif' >Leishmaniasis</text>
<line x1="342.20" y1="310.87" x2="344.30" y2="310.87" stroke="#333" stroke-width="0.55" />
<circle cx="377.80" cy="320.80" r="1.90" fill="#d6a612" />
<text x="341.40" y="322.90" font-size="4.6" fill="#333" text-anchor="end" font-weight="normal" font-family='"Liberation Sans", sans-serif' >Viral myocarditis</text>
<line x1="342.20" y1="320.80" x2="344.30" y2="320.80" stroke="#333" stroke-width="0.55" />
<circle cx="374.50" cy="330.73" r="2.20" fill="#62d816" />
<text x="341.40" y="332.83" font-size="4.6" fill="#333" text-anchor="end" font-weight="normal" font-family='"Liberation Sans", sans-serif' >Osteoclast differentiation</text>
<line x1="342.20" y1="330.73" x2="344.30" y2="330.73" stroke="#333" stroke-width="0.55" />
<circle cx="373.80" cy="340.66" r="1.60" fill="#e89412" />
<text x="341.40" y="342.76" font-size="4.6" fill="#333" text-anchor="end" font-weight="normal" font-family='"Liberation Sans", sans-serif' >Legionellosis</text>
<line x1="342.20" y1="340.66" x2="344.30" y2="340.66" stroke="#333" stroke-width="0.55" />
<circle cx="368.60" cy="350.59" r="1.60" fill="#d2aa12" />
<text x="341.40" y="352.69" font-size="4.6" fill="#333" text-anchor="end" font-weight="normal" font-family='"Liberation Sans", sans-serif' >Staphylococcus aureus infection</text>
<line x1="342.20" y1="350.59" x2="344.30" y2="350.59" stroke="#333" stroke-width="0.55" />
<circle cx="367.90" cy="360.52" r="0.90" fill="#f08a10" />
<text x="341.40" y="362.62" font-size="4.6" fill="#333" text-anchor="end" font-weight="normal" font-family='"Liberation Sans", sans-serif' >Autoimmune thyroid disease</text>
<line x1="342.20" y1="360.52" x2="344.30" y2="360.52" stroke="#333" stroke-width="0.55" />
<circle cx="367.00" cy="370.45" r="2.90" fill="#12ee14" />
<text x="341.40" y="372.55" font-size="4.6" fill="#333" text-anchor="end" font-weight="normal" font-family='"Liberation Sans", sans-serif' >Human T−cell leukemia virus 1 infection</text>
<line x1="342.20" y1="370.45" x2="344.30" y2="370.45" stroke="#333" stroke-width="0.55" />
<circle cx="365.20" cy="380.38" r="1.80" fill="#9cc414" />
<text x="341.40" y="382.48" font-size="4.6" fill="#333" text-anchor="end" font-weight="normal" font-family='"Liberation Sans", sans-serif' >Rheumatoid arthritis</text>
<line x1="342.20" y1="380.38" x2="344.30" y2="380.38" stroke="#333" stroke-width="0.55" />
<circle cx="357.70" cy="390.31" r="1.40" fill="#a2c214" />
<text x="341.40" y="392.41" font-size="4.6" fill="#333" text-anchor="end" font-weight="normal" font-family='"Liberation Sans", sans-serif' >Complement and coagulation cascades</text>
<line x1="342.20" y1="390.31" x2="344.30" y2="390.31" stroke="#333" stroke-width="0.55" />
<circle cx="353.00" cy="400.24" r="2.80" fill="#12ee14" />
<text x="341.40" y="402.34" font-size="4.6" fill="#333" text-anchor="end" font-weight="normal" font-family='"Liberation Sans", sans-serif' >Cytokine−cytokine receptor</text>
<line x1="342.20" y1="400.24" x2="344.30" y2="400.24" stroke="#333" stroke-width="0.55" />
<circle cx="351.90" cy="410.17" r="1.90" fill="#28e616" />
<text x="341.40" y="412.27" font-size="4.6" fill="#333" text-anchor="end" font-weight="normal" font-family='"Liberation Sans", sans-serif' >NF−kappa B signaling pathway</text>
<line x1="342.20" y1="410.17" x2="344.30" y2="410.17" stroke="#333" stroke-width="0.55" />
<rect x="344.3" y="215.4" width="160.00" height="200.60" fill="none" stroke="#a8a8a8" stroke-width="0.55"/>
<line x1="348.00" y1="416.00" x2="348.00" y2="417.20" stroke="#555" stroke-width="0.45" />
<text x="348.00" y="421.00" font-size="3.6" fill="#666" text-anchor="middle" font-weight="normal" font-family='"Liberation Sans", sans-serif' >4</text>
<line x1="380.40" y1="416.00" x2="380.40" y2="417.20" stroke="#555" stroke-width="0.45" />
<text x="380.40" y="421.00" font-size="3.6" fill="#666" text-anchor="middle" font-weight="normal" font-family='"Liberation Sans", sans-serif' >6</text>
<line x1="412.80" y1="416.00" x2="412.80" y2="417.20" stroke="#555" stroke-width="0.45" />
<text x="412.80" y="421.00" font-size="3.6" fill="#666" text-anchor="middle" font-weight="normal" font-family='"Liberation Sans", sans-serif' >8</text>
<line x1="445.20" y1="416.00" x2="445.20" y2="417.20" stroke="#555" stroke-width="0.45" />
<text x="445.20" y="421.00" font-size="3.6" fill="#666" text-anchor="middle" font-weight="normal" font-family='"Liberation Sans", sans-serif' >10</text>
<line x1="477.60" y1="416.00" x2="477.60" y2="417.20" stroke="#555" stroke-width="0.45" />
<text x="477.60" y="421.00" font-size="3.6" fill="#666" text-anchor="middle" font-weight="normal" font-family='"Liberation Sans", sans-serif' >12</text>
<text x="424.5" y="427.6" font-size="4.8" fill="#333" text-anchor="middle" font-family='"Liberation Sans", sans-serif'>-log<tspan font-size="3.4" dy="1.1">10</tspan><tspan dy="-1.1">(p.value)</tspan></text>
<text x="512.20" y="273.50" font-size="4.68" fill="#333" text-anchor="start" font-weight="normal" font-family='"Liberation Sans", sans-serif' >Gene number</text>
<circle cx="516.00" cy="280.40" r="0.60" fill="#000" />
<text x="522.30" y="281.90" font-size="4.2" fill="#333" text-anchor="start" font-weight="normal" font-family='"Liberation Sans", sans-serif' >8</text>
<circle cx="516.00" cy="287.90" r="1.85" fill="#000" />
<text x="522.30" y="289.40" font-size="4.2" fill="#333" text-anchor="start" font-weight="normal" font-family='"Liberation Sans", sans-serif' >12</text>
<circle cx="516.00" cy="295.80" r="2.40" fill="#000" />
<text x="522.30" y="297.30" font-size="4.2" fill="#333" text-anchor="start" font-weight="normal" font-family='"Liberation Sans", sans-serif' >16</text>
<circle cx="516.00" cy="303.30" r="2.90" fill="#000" />
<text x="522.30" y="304.80" font-size="4.2" fill="#333" text-anchor="start" font-weight="normal" font-family='"Liberation Sans", sans-serif' >20</text>
<text x="512.20" y="321.00" font-size="4.73" fill="#333" text-anchor="start" font-weight="normal" font-family='"Liberation Sans", sans-serif' >Rich factor</text>
<rect x="512.20" y="323.80" width="7.30" height="38.10" fill="url(#rf)" />
<text x="522.30" y="333.00" font-size="4.2" fill="#333" text-anchor="start" font-weight="normal" font-family='"Liberation Sans", sans-serif' >0.20</text>
<text x="522.30" y="342.70" font-size="4.2" fill="#333" text-anchor="start" font-weight="normal" font-family='"Liberation Sans", sans-serif' >0.16</text>
<text x="522.30" y="351.90" font-size="4.2" fill="#333" text-anchor="start" font-weight="normal" font-family='"Liberation Sans", sans-serif' >0.12</text>
<text x="522.30" y="361.30" font-size="4.2" fill="#333" text-anchor="start" font-weight="normal" font-family='"Liberation Sans", sans-serif' >0.08</text>
</svg>
</body></html>
